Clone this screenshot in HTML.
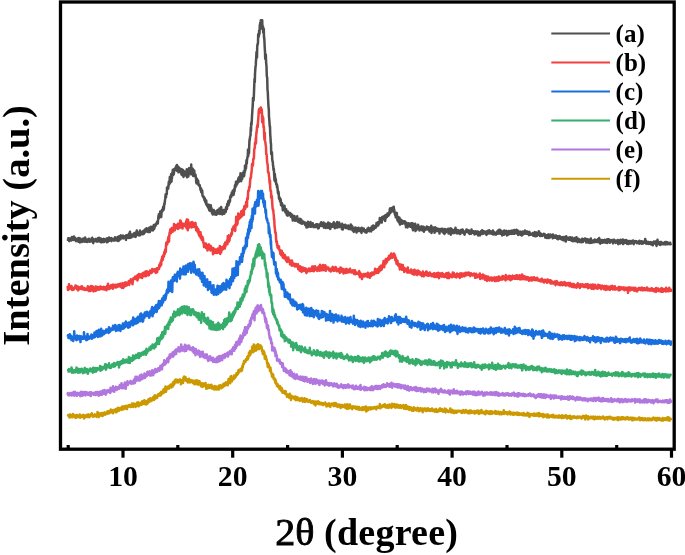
<!DOCTYPE html>
<html><head><meta charset="utf-8"><title>XRD</title>
<style>
html,body{margin:0;padding:0;background:#fff;}
svg{display:block}
text{font-family:"Liberation Serif",serif;font-weight:bold;fill:#000}
</style></head><body>
<svg width="685" height="555" viewBox="0 0 685 555">
<rect width="685" height="555" fill="#fff"/>
<g>
<polyline fill="none" stroke="#4f4f4f" stroke-width="2.5" stroke-linejoin="round" points="67.5,239.4 67.8,239.8 68.0,239.1 68.2,238.3 68.5,238.9 68.8,238.2 69.0,239.6 69.2,241.2 69.5,238.9 69.8,238.7 70.0,240.2 70.2,240.0 70.5,239.7 70.8,238.3 71.0,239.5 71.2,240.5 71.5,237.8 71.8,239.0 72.0,237.1 72.2,237.9 72.5,237.2 72.8,239.3 73.0,238.0 73.2,240.0 73.5,239.9 73.8,239.5 74.0,236.4 74.2,239.0 74.5,239.7 74.8,239.9 75.0,237.8 75.2,239.1 75.5,238.5 75.8,238.7 76.0,241.2 76.2,238.8 76.5,239.8 76.8,241.0 77.0,239.1 77.2,239.7 77.5,240.0 77.8,239.9 78.0,238.3 78.2,240.0 78.5,241.7 78.8,237.9 79.0,241.0 79.2,240.1 79.5,239.1 79.8,242.5 80.0,240.9 80.2,238.4 80.5,240.1 80.8,240.7 81.0,239.7 81.2,240.9 81.5,239.9 81.8,240.9 82.0,241.9 82.2,239.2 82.5,240.3 82.8,239.4 83.0,240.2 83.2,238.5 83.5,239.3 83.8,239.8 84.0,241.2 84.2,241.6 84.5,238.4 84.8,239.1 85.0,240.9 85.2,237.6 85.5,239.5 85.8,240.0 86.0,241.8 86.2,241.0 86.5,239.7 86.8,239.7 87.0,239.9 87.2,242.1 87.5,239.6 87.8,239.8 88.0,240.7 88.2,240.1 88.5,240.0 88.8,238.8 89.0,240.2 89.2,239.7 89.5,241.7 89.8,241.1 90.0,240.2 90.2,241.1 90.5,239.8 90.8,241.6 91.0,240.3 91.2,241.0 91.5,238.6 91.8,240.7 92.0,238.1 92.2,237.7 92.5,239.9 92.8,239.2 93.0,240.5 93.2,243.2 93.5,239.3 93.8,239.5 94.0,240.6 94.2,241.0 94.5,240.1 94.8,240.1 95.0,241.3 95.2,241.0 95.5,239.1 95.8,240.3 96.0,240.4 96.2,239.0 96.5,240.7 96.8,239.3 97.0,241.7 97.2,240.7 97.5,240.5 97.8,239.7 98.0,240.3 98.2,237.9 98.5,239.0 98.8,240.9 99.0,237.7 99.2,241.5 99.5,238.2 99.8,241.4 100.0,239.4 100.2,241.5 100.5,240.6 100.8,238.5 101.0,242.1 101.2,242.3 101.5,240.4 101.8,240.1 102.0,240.3 102.2,239.3 102.5,241.9 102.8,239.8 103.0,240.4 103.2,239.5 103.5,239.7 103.8,238.9 104.0,242.1 104.2,240.3 104.5,241.7 104.8,240.5 105.0,239.6 105.2,240.0 105.5,239.7 105.8,240.4 106.0,239.9 106.2,239.9 106.5,238.5 106.8,239.2 107.0,242.3 107.2,239.3 107.5,238.8 107.8,240.5 108.0,241.8 108.2,238.1 108.5,239.7 108.8,239.1 109.0,237.6 109.2,240.8 109.5,239.7 109.8,239.8 110.0,238.7 110.2,240.3 110.5,238.9 110.8,239.4 111.0,238.1 111.2,238.0 111.5,241.2 111.8,238.8 112.0,239.8 112.2,239.4 112.5,238.8 112.8,238.7 113.0,240.1 113.2,238.9 113.5,239.0 113.8,239.2 114.0,240.7 114.2,240.0 114.5,239.6 114.8,238.3 115.0,237.3 115.2,240.2 115.5,240.2 115.8,238.8 116.0,239.6 116.2,239.9 116.5,239.9 116.8,240.0 117.0,238.2 117.2,240.7 117.5,237.1 117.8,239.8 118.0,239.3 118.2,239.7 118.5,241.0 118.8,240.5 119.0,237.0 119.2,236.2 119.5,239.5 119.8,237.0 120.0,238.3 120.2,239.4 120.5,236.1 120.8,235.4 121.0,238.5 121.2,238.2 121.5,237.8 121.8,238.1 122.0,236.9 122.2,236.0 122.5,237.7 122.8,236.6 123.0,235.6 123.2,238.4 123.5,237.6 123.8,238.2 124.0,236.3 124.2,236.7 124.5,236.2 124.8,236.3 125.0,237.7 125.2,236.3 125.5,237.8 125.8,237.7 126.0,239.9 126.2,235.2 126.5,238.2 126.8,236.9 127.0,236.9 127.2,234.9 127.5,236.2 127.8,237.7 128.0,236.6 128.2,236.7 128.5,236.2 128.8,238.0 129.0,236.4 129.2,233.4 129.5,235.3 129.8,233.6 130.0,231.7 130.2,235.4 130.5,237.8 130.8,236.0 131.0,234.3 131.2,234.5 131.5,237.3 131.8,235.9 132.0,235.7 132.2,235.4 132.5,235.5 132.8,236.5 133.0,236.1 133.2,235.5 133.5,233.7 133.8,235.8 134.0,234.1 134.2,236.4 134.5,233.1 134.8,234.6 135.0,234.7 135.2,232.8 135.5,236.9 135.8,236.5 136.0,233.7 136.2,235.4 136.5,234.8 136.8,230.5 137.0,234.4 137.2,233.9 137.5,234.0 137.8,232.3 138.0,233.4 138.2,233.4 138.5,235.2 138.8,233.9 139.0,233.4 139.2,235.5 139.5,232.4 139.8,232.6 140.0,230.5 140.2,235.2 140.5,234.2 140.8,234.1 141.0,233.6 141.2,232.7 141.5,232.8 141.8,232.0 142.0,232.0 142.2,232.3 142.5,234.3 142.8,232.8 143.0,231.8 143.2,231.0 143.5,230.8 143.8,233.9 144.0,232.2 144.2,231.5 144.5,230.8 144.8,229.6 145.0,231.0 145.2,232.3 145.5,230.3 145.8,230.5 146.0,230.4 146.2,230.7 146.5,228.2 146.8,230.0 147.0,229.0 147.2,231.4 147.5,228.9 147.8,230.8 148.0,232.1 148.2,229.3 148.5,228.7 148.8,229.8 149.0,229.4 149.2,227.8 149.5,229.9 149.8,232.1 150.0,228.6 150.2,228.6 150.5,227.2 150.8,229.2 151.0,226.7 151.2,226.8 151.5,230.2 151.8,226.9 152.0,229.7 152.2,230.2 152.5,228.2 152.8,228.5 153.0,230.4 153.2,227.0 153.5,226.3 153.8,225.0 154.0,226.9 154.2,228.9 154.5,227.9 154.8,224.8 155.0,224.7 155.2,225.0 155.5,225.9 155.8,224.7 156.0,224.9 156.2,224.5 156.5,223.1 156.8,222.9 157.0,222.7 157.2,221.6 157.5,221.9 157.8,223.5 158.0,220.7 158.2,219.2 158.5,215.6 158.8,218.4 159.0,213.9 159.2,214.2 159.5,217.5 159.8,216.7 160.0,214.7 160.2,211.6 160.5,213.5 160.8,212.6 161.0,214.6 161.2,217.1 161.5,213.2 161.8,211.0 162.0,209.9 162.2,211.4 162.5,210.7 162.8,208.3 163.0,209.8 163.2,206.7 163.5,209.9 163.8,208.8 164.0,207.7 164.2,203.7 164.5,204.3 164.8,201.9 165.0,200.1 165.2,198.9 165.5,195.7 165.8,194.1 166.0,197.3 166.2,194.0 166.5,193.7 166.8,194.1 167.0,187.4 167.2,188.3 167.5,189.4 167.8,188.9 168.0,186.4 168.2,188.5 168.5,185.9 168.8,181.9 169.0,181.6 169.2,184.5 169.5,182.9 169.8,177.0 170.0,183.2 170.2,180.8 170.5,181.7 170.8,177.1 171.0,176.6 171.2,174.1 171.5,181.7 171.8,175.0 172.0,178.5 172.2,173.0 172.5,174.4 172.8,169.8 173.0,172.3 173.2,175.0 173.5,169.5 173.8,174.5 174.0,172.4 174.2,168.9 174.5,169.8 174.8,169.5 175.0,170.1 175.2,168.7 175.5,167.8 175.8,168.7 176.0,166.8 176.2,166.0 176.5,168.7 176.8,170.7 177.0,165.0 177.2,168.5 177.5,167.0 177.8,166.3 178.0,170.6 178.2,167.5 178.5,172.3 178.8,167.3 179.0,170.2 179.2,169.0 179.5,168.1 179.8,171.5 180.0,170.1 180.2,172.2 180.5,171.0 180.8,169.0 181.0,171.6 181.2,172.3 181.5,174.7 181.8,170.8 182.0,173.1 182.2,169.5 182.5,175.2 182.8,171.5 183.0,170.1 183.2,174.1 183.5,176.9 183.8,171.1 184.0,172.1 184.2,172.8 184.5,171.9 184.8,175.2 185.0,172.5 185.2,172.6 185.5,175.4 185.8,172.3 186.0,174.8 186.2,171.5 186.5,170.7 186.8,169.2 187.0,177.3 187.2,172.2 187.5,173.3 187.8,172.5 188.0,172.7 188.2,172.3 188.5,176.4 188.8,169.5 189.0,168.2 189.2,169.2 189.5,168.4 189.8,173.0 190.0,173.1 190.2,168.9 190.5,167.9 190.8,170.2 191.0,174.2 191.2,164.6 191.5,172.3 191.8,168.8 192.0,173.8 192.2,169.2 192.5,171.2 192.8,168.8 193.0,170.3 193.2,176.0 193.5,175.1 193.8,172.8 194.0,172.2 194.2,170.4 194.5,174.2 194.8,175.5 195.0,175.9 195.2,176.4 195.5,174.7 195.8,177.6 196.0,178.2 196.2,181.7 196.5,183.4 196.8,179.6 197.0,178.8 197.2,180.8 197.5,180.2 197.8,180.4 198.0,182.5 198.2,181.0 198.5,185.1 198.8,184.2 199.0,185.6 199.2,185.4 199.5,185.0 199.8,185.3 200.0,187.5 200.2,187.6 200.5,189.9 200.8,190.2 201.0,188.2 201.2,191.9 201.5,189.8 201.8,192.0 202.0,193.4 202.2,190.5 202.5,195.5 202.8,196.3 203.0,196.4 203.2,196.5 203.5,197.2 203.8,196.6 204.0,198.5 204.2,198.5 204.5,200.2 204.8,198.2 205.0,201.5 205.2,201.8 205.5,201.8 205.8,201.7 206.0,204.0 206.2,200.4 206.5,204.8 206.8,204.8 207.0,205.3 207.2,206.0 207.5,204.5 207.8,205.6 208.0,207.6 208.2,207.6 208.5,207.6 208.8,204.8 209.0,208.8 209.2,210.3 209.5,210.3 209.8,209.2 210.0,206.2 210.2,210.9 210.5,209.2 210.8,205.3 211.0,210.6 211.2,207.6 211.5,208.2 211.8,209.5 212.0,213.1 212.2,210.5 212.5,211.8 212.8,214.6 213.0,214.5 213.2,211.7 213.5,211.7 213.8,210.1 214.0,211.2 214.2,213.3 214.5,213.3 214.8,212.9 215.0,214.5 215.2,211.6 215.5,212.9 215.8,214.2 216.0,214.0 216.2,214.8 216.5,213.7 216.8,212.4 217.0,213.6 217.2,211.2 217.5,210.1 217.8,213.9 218.0,212.7 218.2,213.3 218.5,209.8 218.8,212.1 219.0,211.6 219.2,211.1 219.5,208.6 219.8,211.8 220.0,213.9 220.2,212.9 220.5,211.1 220.8,212.1 221.0,213.3 221.2,207.1 221.5,211.6 221.8,212.6 222.0,212.8 222.2,214.4 222.5,213.3 222.8,211.8 223.0,211.6 223.2,212.3 223.5,209.9 223.8,210.6 224.0,212.2 224.2,213.8 224.5,210.0 224.8,210.1 225.0,210.3 225.2,212.2 225.5,209.5 225.8,211.9 226.0,207.2 226.2,208.2 226.5,207.8 226.8,209.0 227.0,209.0 227.2,203.9 227.5,204.3 227.8,206.0 228.0,203.5 228.2,201.3 228.5,205.3 228.8,203.6 229.0,202.9 229.2,200.4 229.5,202.5 229.8,199.4 230.0,201.2 230.2,196.6 230.5,196.0 230.8,197.3 231.0,194.9 231.2,196.9 231.5,195.4 231.8,192.4 232.0,193.8 232.2,192.4 232.5,194.3 232.8,190.7 233.0,190.5 233.2,193.3 233.5,194.9 233.8,193.9 234.0,189.4 234.2,189.2 234.5,191.3 234.8,187.4 235.0,185.2 235.2,186.9 235.5,187.0 235.8,183.9 236.0,181.7 236.2,181.6 236.5,185.5 236.8,182.0 237.0,182.8 237.2,183.0 237.5,183.4 237.8,180.9 238.0,182.2 238.2,178.7 238.5,179.4 238.8,177.5 239.0,181.7 239.2,178.7 239.5,176.8 239.8,177.2 240.0,177.0 240.2,178.6 240.5,173.2 240.8,174.1 241.0,175.2 241.2,181.2 241.5,177.5 241.8,174.8 242.0,176.4 242.2,179.0 242.5,173.7 242.8,173.1 243.0,176.2 243.2,174.3 243.5,174.3 243.8,171.3 244.0,176.3 244.2,175.4 244.5,172.4 244.8,172.1 245.0,165.4 245.2,170.8 245.5,168.1 245.8,168.6 246.0,168.1 246.2,164.6 246.5,160.2 246.8,163.6 247.0,159.6 247.2,159.1 247.5,156.9 247.8,155.9 248.0,149.5 248.2,156.3 248.5,152.3 248.8,152.7 249.0,153.1 249.2,146.4 249.5,139.8 249.8,140.0 250.0,136.9 250.2,136.4 250.5,135.4 250.8,127.4 251.0,130.9 251.2,123.1 251.5,124.8 251.8,120.3 252.0,116.2 252.2,113.3 252.5,108.5 252.8,104.7 253.0,97.9 253.2,98.9 253.5,100.7 253.8,97.5 254.0,92.0 254.2,86.7 254.5,79.0 254.8,82.1 255.0,74.1 255.2,70.7 255.5,66.8 255.8,64.9 256.0,60.2 256.2,58.3 256.5,52.1 256.8,51.6 257.0,57.6 257.2,47.2 257.5,44.2 257.8,44.4 258.0,42.7 258.2,34.2 258.5,35.1 258.8,36.8 259.0,32.7 259.2,30.4 259.5,33.9 259.8,24.9 260.0,26.2 260.2,22.9 260.5,28.8 260.8,20.2 261.0,20.2 261.2,20.2 261.5,24.6 261.8,25.0 262.0,28.6 262.2,20.2 262.5,28.5 262.8,26.2 263.0,26.3 263.2,32.4 263.5,29.9 263.8,28.8 264.0,37.7 264.2,37.0 264.5,42.8 264.8,49.0 265.0,51.6 265.2,58.6 265.5,55.6 265.8,54.4 266.0,60.2 266.2,63.3 266.5,66.4 266.8,76.0 267.0,77.1 267.2,77.6 267.5,90.1 267.8,91.9 268.0,97.5 268.2,101.0 268.5,106.8 268.8,109.3 269.0,116.8 269.2,118.7 269.5,122.8 269.8,127.0 270.0,126.2 270.2,133.8 270.5,138.0 270.8,143.5 271.0,143.5 271.2,154.0 271.5,152.8 271.8,152.1 272.0,153.3 272.2,158.8 272.5,161.3 272.8,161.8 273.0,165.5 273.2,165.5 273.5,169.9 273.8,168.6 274.0,171.7 274.2,175.4 274.5,180.3 274.8,173.9 275.0,176.5 275.2,177.1 275.5,182.0 275.8,179.3 276.0,182.0 276.2,184.3 276.5,183.7 276.8,185.1 277.0,187.3 277.2,185.3 277.5,187.8 277.8,191.1 278.0,193.3 278.2,193.7 278.5,191.7 278.8,195.2 279.0,198.5 279.2,198.9 279.5,198.5 279.8,197.7 280.0,201.2 280.2,199.5 280.5,199.1 280.8,200.3 281.0,205.0 281.2,203.3 281.5,205.6 281.8,203.1 282.0,206.2 282.2,203.9 282.5,205.2 282.8,210.3 283.0,207.7 283.2,205.9 283.5,207.1 283.8,208.2 284.0,210.2 284.2,207.6 284.5,205.8 284.8,208.7 285.0,209.6 285.2,210.1 285.5,212.5 285.8,211.1 286.0,212.2 286.2,209.3 286.5,212.9 286.8,215.2 287.0,213.3 287.2,212.7 287.5,212.8 287.8,215.7 288.0,211.4 288.2,213.0 288.5,214.2 288.8,214.9 289.0,213.2 289.2,214.7 289.5,213.9 289.8,214.8 290.0,214.6 290.2,213.1 290.5,215.2 290.8,216.8 291.0,214.0 291.2,215.4 291.5,217.1 291.8,214.5 292.0,216.7 292.2,214.8 292.5,218.6 292.8,220.6 293.0,220.3 293.2,216.9 293.5,218.6 293.8,217.8 294.0,217.9 294.2,220.4 294.5,216.0 294.8,219.9 295.0,218.3 295.2,220.7 295.5,219.0 295.8,217.7 296.0,219.4 296.2,220.2 296.5,219.3 296.8,220.1 297.0,218.7 297.2,216.3 297.5,221.2 297.8,221.0 298.0,220.3 298.2,220.3 298.5,221.9 298.8,219.7 299.0,219.4 299.2,220.4 299.5,222.6 299.8,218.7 300.0,222.8 300.2,220.1 300.5,219.5 300.8,223.3 301.0,221.3 301.2,219.6 301.5,221.2 301.8,223.3 302.0,223.8 302.2,221.4 302.5,222.8 302.8,223.4 303.0,221.5 303.2,223.1 303.5,222.7 303.8,222.0 304.0,222.2 304.2,223.2 304.5,223.2 304.8,222.5 305.0,222.8 305.2,225.2 305.5,224.0 305.8,225.1 306.0,225.7 306.2,224.9 306.5,227.5 306.8,223.0 307.0,225.5 307.2,223.9 307.5,227.2 307.8,227.1 308.0,221.8 308.2,223.3 308.5,225.8 308.8,226.1 309.0,226.1 309.2,224.9 309.5,225.8 309.8,226.1 310.0,225.1 310.2,226.8 310.5,222.0 310.8,226.3 311.0,223.9 311.2,226.8 311.5,225.1 311.8,224.2 312.0,226.0 312.2,224.2 312.5,224.2 312.8,223.2 313.0,225.5 313.2,226.2 313.5,227.0 313.8,225.3 314.0,227.0 314.2,225.5 314.5,225.4 314.8,226.3 315.0,227.0 315.2,225.0 315.5,225.1 315.8,225.3 316.0,225.6 316.2,224.2 316.5,227.0 316.8,224.9 317.0,226.2 317.2,224.3 317.5,226.0 317.8,226.1 318.0,224.9 318.2,228.4 318.5,226.0 318.8,228.1 319.0,226.9 319.2,224.5 319.5,224.9 319.8,226.1 320.0,225.6 320.2,225.6 320.5,225.1 320.8,222.9 321.0,225.2 321.2,222.3 321.5,226.0 321.8,224.4 322.0,224.5 322.2,225.2 322.5,225.9 322.8,223.4 323.0,223.0 323.2,224.0 323.5,222.5 323.8,224.1 324.0,227.8 324.2,224.0 324.5,226.4 324.8,223.5 325.0,225.9 325.2,225.0 325.5,225.4 325.8,226.3 326.0,228.0 326.2,225.8 326.5,225.7 326.8,224.1 327.0,226.3 327.2,225.1 327.5,226.7 327.8,225.4 328.0,228.0 328.2,222.6 328.5,225.1 328.8,226.8 329.0,225.0 329.2,224.4 329.5,225.1 329.8,223.5 330.0,225.7 330.2,229.0 330.5,227.2 330.8,223.9 331.0,224.2 331.2,224.9 331.5,227.0 331.8,224.3 332.0,224.5 332.2,226.8 332.5,226.8 332.8,225.0 333.0,223.9 333.2,223.3 333.5,224.5 333.8,222.3 334.0,226.6 334.2,224.6 334.5,226.2 334.8,228.2 335.0,227.2 335.2,223.8 335.5,226.8 335.8,227.2 336.0,224.4 336.2,224.1 336.5,225.3 336.8,223.2 337.0,227.6 337.2,222.0 337.5,223.9 337.8,225.1 338.0,225.2 338.2,225.8 338.5,225.9 338.8,225.2 339.0,227.2 339.2,222.5 339.5,225.6 339.8,224.6 340.0,225.8 340.2,226.0 340.5,224.4 340.8,224.8 341.0,226.9 341.2,226.3 341.5,224.8 341.8,228.8 342.0,229.2 342.2,223.8 342.5,226.4 342.8,229.6 343.0,227.2 343.2,226.4 343.5,225.9 343.8,225.4 344.0,225.9 344.2,225.5 344.5,227.4 344.8,225.8 345.0,225.8 345.2,224.8 345.5,226.5 345.8,225.3 346.0,226.4 346.2,228.2 346.5,227.3 346.8,227.5 347.0,227.4 347.2,227.0 347.5,226.8 347.8,226.6 348.0,228.2 348.2,225.6 348.5,229.1 348.8,227.3 349.0,226.2 349.2,226.7 349.5,226.4 349.8,227.7 350.0,226.5 350.2,229.2 350.5,226.5 350.8,224.5 351.0,226.7 351.2,225.0 351.5,227.8 351.8,229.4 352.0,228.9 352.2,226.2 352.5,227.0 352.8,230.7 353.0,228.7 353.2,228.3 353.5,229.9 353.8,231.9 354.0,230.4 354.2,228.8 354.5,229.2 354.8,229.6 355.0,228.0 355.2,227.5 355.5,229.1 355.8,227.8 356.0,229.1 356.2,229.4 356.5,232.6 356.8,228.3 357.0,229.4 357.2,229.4 357.5,230.3 357.8,231.2 358.0,229.2 358.2,228.8 358.5,227.7 358.8,228.8 359.0,230.8 359.2,230.2 359.5,228.9 359.8,229.8 360.0,230.4 360.2,231.1 360.5,229.7 360.8,230.2 361.0,228.2 361.2,229.1 361.5,232.9 361.8,227.8 362.0,230.3 362.2,231.1 362.5,230.4 362.8,229.8 363.0,230.8 363.2,230.9 363.5,230.9 363.8,228.5 364.0,230.8 364.2,229.9 364.5,230.3 364.8,231.3 365.0,231.8 365.2,232.2 365.5,230.3 365.8,232.1 366.0,232.4 366.2,232.3 366.5,232.6 366.8,230.5 367.0,230.4 367.2,231.7 367.5,228.6 367.8,230.7 368.0,229.6 368.2,229.7 368.5,227.8 368.8,228.9 369.0,230.0 369.2,231.1 369.5,231.2 369.8,229.6 370.0,229.4 370.2,228.4 370.5,229.9 370.8,228.9 371.0,229.9 371.2,231.4 371.5,228.8 371.8,226.6 372.0,227.3 372.2,226.4 372.5,226.5 372.8,229.8 373.0,228.2 373.2,225.6 373.5,228.4 373.8,229.1 374.0,226.7 374.2,226.0 374.5,226.3 374.8,227.0 375.0,227.3 375.2,227.9 375.5,227.7 375.8,227.5 376.0,227.5 376.2,226.3 376.5,222.9 376.8,224.7 377.0,225.0 377.2,223.8 377.5,225.4 377.8,223.3 378.0,222.2 378.2,225.4 378.5,224.0 378.8,223.1 379.0,223.8 379.2,223.8 379.5,222.4 379.8,218.0 380.0,220.4 380.2,220.4 380.5,219.4 380.8,220.9 381.0,222.1 381.2,219.3 381.5,218.1 381.8,222.6 382.0,218.6 382.2,217.1 382.5,219.1 382.8,219.2 383.0,217.2 383.2,219.3 383.5,217.1 383.8,216.3 384.0,217.7 384.2,218.5 384.5,216.1 384.8,217.4 385.0,216.5 385.2,220.9 385.5,215.1 385.8,218.2 386.0,215.8 386.2,215.4 386.5,216.6 386.8,216.6 387.0,217.0 387.2,215.3 387.5,213.5 387.8,213.4 388.0,214.8 388.2,214.6 388.5,215.6 388.8,213.7 389.0,214.4 389.2,214.7 389.5,212.1 389.8,209.0 390.0,209.1 390.2,208.2 390.5,212.8 390.8,208.4 391.0,211.4 391.2,210.0 391.5,211.6 391.8,210.2 392.0,208.1 392.2,207.8 392.5,208.2 392.8,208.3 393.0,207.3 393.2,208.4 393.5,211.6 393.8,206.7 394.0,210.7 394.2,209.5 394.5,212.1 394.8,214.0 395.0,213.4 395.2,215.5 395.5,212.4 395.8,217.3 396.0,215.1 396.2,217.4 396.5,217.1 396.8,213.1 397.0,216.3 397.2,218.1 397.5,220.5 397.8,218.9 398.0,219.1 398.2,216.9 398.5,221.4 398.8,222.3 399.0,219.8 399.2,219.7 399.5,217.8 399.8,221.8 400.0,224.7 400.2,222.0 400.5,223.0 400.8,222.1 401.0,220.1 401.2,223.7 401.5,220.1 401.8,221.8 402.0,222.7 402.2,223.7 402.5,223.2 402.8,223.4 403.0,221.8 403.2,221.2 403.5,223.3 403.8,222.4 404.0,221.6 404.2,221.8 404.5,223.1 404.8,221.2 405.0,222.1 405.2,221.8 405.5,224.5 405.8,224.9 406.0,227.3 406.2,222.4 406.5,223.6 406.8,226.0 407.0,224.5 407.2,224.4 407.5,227.4 407.8,224.6 408.0,223.5 408.2,223.4 408.5,225.8 408.8,225.8 409.0,223.5 409.2,224.2 409.5,226.4 409.8,226.5 410.0,224.9 410.2,226.7 410.5,226.7 410.8,223.5 411.0,225.6 411.2,226.7 411.5,225.4 411.8,223.3 412.0,226.0 412.2,227.5 412.5,228.7 412.8,223.5 413.0,230.2 413.2,225.1 413.5,228.1 413.8,228.5 414.0,228.2 414.2,227.1 414.5,225.4 414.8,227.9 415.0,226.1 415.2,223.7 415.5,231.1 415.8,228.2 416.0,229.8 416.2,226.1 416.5,229.4 416.8,229.6 417.0,229.6 417.2,227.5 417.5,225.9 417.8,227.4 418.0,224.7 418.2,225.4 418.5,227.9 418.8,226.5 419.0,227.6 419.2,227.7 419.5,230.6 419.8,229.7 420.0,227.9 420.2,229.7 420.5,227.0 420.8,227.6 421.0,229.4 421.2,226.5 421.5,227.8 421.8,226.5 422.0,228.4 422.2,230.5 422.5,227.3 422.8,228.7 423.0,227.2 423.2,226.9 423.5,226.8 423.8,230.5 424.0,231.7 424.2,229.2 424.5,227.6 424.8,229.6 425.0,228.2 425.2,229.8 425.5,229.1 425.8,229.1 426.0,229.6 426.2,228.0 426.5,228.3 426.8,226.6 427.0,228.3 427.2,227.0 427.5,228.8 427.8,227.7 428.0,229.2 428.2,229.7 428.5,227.2 428.8,228.0 429.0,227.9 429.2,230.2 429.5,231.5 429.8,230.3 430.0,228.8 430.2,231.2 430.5,227.3 430.8,231.3 431.0,228.5 431.2,225.7 431.5,232.9 431.8,231.5 432.0,228.1 432.2,229.7 432.5,229.2 432.8,229.6 433.0,227.6 433.2,228.6 433.5,230.2 433.8,229.9 434.0,231.2 434.2,229.7 434.5,232.8 434.8,228.7 435.0,230.1 435.2,227.2 435.5,228.1 435.8,231.5 436.0,228.5 436.2,230.5 436.5,229.8 436.8,228.5 437.0,229.4 437.2,229.2 437.5,229.3 437.8,230.9 438.0,230.8 438.2,229.2 438.5,228.8 438.8,230.4 439.0,229.9 439.2,231.4 439.5,233.6 439.8,231.2 440.0,230.1 440.2,229.9 440.5,229.0 440.8,229.0 441.0,228.9 441.2,229.7 441.5,229.7 441.8,231.2 442.0,229.7 442.2,230.0 442.5,228.7 442.8,232.5 443.0,231.0 443.2,232.7 443.5,231.4 443.8,232.3 444.0,230.1 444.2,231.4 444.5,234.0 444.8,228.9 445.0,232.0 445.2,232.7 445.5,231.1 445.8,231.5 446.0,232.2 446.2,229.7 446.5,231.1 446.8,229.4 447.0,229.7 447.2,229.8 447.5,230.5 447.8,230.9 448.0,231.3 448.2,228.8 448.5,233.4 448.8,232.3 449.0,231.7 449.2,230.3 449.5,230.7 449.8,231.5 450.0,231.4 450.2,228.6 450.5,231.9 450.8,234.8 451.0,228.4 451.2,232.2 451.5,231.4 451.8,230.8 452.0,232.8 452.2,229.4 452.5,231.2 452.8,233.0 453.0,230.8 453.2,230.5 453.5,231.2 453.8,230.5 454.0,233.2 454.2,229.9 454.5,232.3 454.8,229.5 455.0,232.1 455.2,231.1 455.5,227.8 455.8,231.2 456.0,229.8 456.2,230.7 456.5,233.3 456.8,229.8 457.0,229.9 457.2,233.2 457.5,231.5 457.8,233.4 458.0,231.8 458.2,230.2 458.5,231.3 458.8,233.1 459.0,232.7 459.2,231.5 459.5,231.6 459.8,231.4 460.0,230.8 460.2,234.1 460.5,231.6 460.8,230.1 461.0,231.0 461.2,232.6 461.5,232.5 461.8,231.5 462.0,230.8 462.2,231.7 462.5,229.5 462.8,230.0 463.0,232.8 463.2,231.1 463.5,232.3 463.8,233.4 464.0,232.7 464.2,231.9 464.5,234.7 464.8,232.8 465.0,231.4 465.2,232.9 465.5,232.5 465.8,230.8 466.0,232.1 466.2,231.8 466.5,229.4 466.8,231.8 467.0,231.7 467.2,231.5 467.5,229.9 467.8,231.6 468.0,232.1 468.2,232.3 468.5,230.7 468.8,233.0 469.0,230.6 469.2,231.9 469.5,233.9 469.8,231.3 470.0,231.6 470.2,233.7 470.5,231.8 470.8,231.9 471.0,232.6 471.2,233.7 471.5,229.5 471.8,231.3 472.0,231.1 472.2,231.0 472.5,231.3 472.8,231.3 473.0,232.8 473.2,231.3 473.5,232.6 473.8,233.0 474.0,231.5 474.2,232.7 474.5,234.6 474.8,232.9 475.0,231.7 475.2,232.5 475.5,231.4 475.8,232.9 476.0,233.7 476.2,231.6 476.5,232.4 476.8,234.1 477.0,232.0 477.2,232.9 477.5,231.4 477.8,231.6 478.0,232.0 478.2,235.4 478.5,232.2 478.8,232.1 479.0,232.0 479.2,232.5 479.5,233.6 479.8,233.0 480.0,235.4 480.2,233.1 480.5,234.6 480.8,233.2 481.0,233.6 481.2,231.0 481.5,232.7 481.8,232.8 482.0,232.6 482.2,230.2 482.5,234.0 482.8,232.4 483.0,232.3 483.2,232.6 483.5,232.6 483.8,233.4 484.0,231.3 484.2,231.8 484.5,233.3 484.8,233.1 485.0,232.5 485.2,232.2 485.5,231.9 485.8,232.9 486.0,234.4 486.2,231.6 486.5,234.9 486.8,234.0 487.0,232.4 487.2,234.0 487.5,231.2 487.8,230.8 488.0,231.4 488.2,232.5 488.5,232.6 488.8,232.4 489.0,233.1 489.2,230.3 489.5,233.6 489.8,231.2 490.0,232.2 490.2,232.5 490.5,231.6 490.8,231.3 491.0,231.7 491.2,233.0 491.5,233.7 491.8,233.7 492.0,231.8 492.2,232.0 492.5,231.8 492.8,233.5 493.0,230.4 493.2,234.5 493.5,232.4 493.8,232.0 494.0,233.4 494.2,234.2 494.5,233.4 494.8,234.2 495.0,233.1 495.2,234.4 495.5,234.5 495.8,232.8 496.0,234.7 496.2,233.1 496.5,233.0 496.8,231.7 497.0,232.5 497.2,233.8 497.5,231.2 497.8,233.7 498.0,233.3 498.2,233.2 498.5,230.1 498.8,232.7 499.0,233.6 499.2,231.8 499.5,232.9 499.8,229.8 500.0,233.6 500.2,231.9 500.5,233.8 500.8,230.5 501.0,233.6 501.2,232.4 501.5,233.7 501.8,231.6 502.0,231.9 502.2,235.5 502.5,231.6 502.8,231.8 503.0,232.3 503.2,231.4 503.5,234.1 503.8,234.8 504.0,231.8 504.2,230.5 504.5,234.1 504.8,234.0 505.0,233.6 505.2,234.0 505.5,231.5 505.8,232.4 506.0,230.9 506.2,230.8 506.5,233.8 506.8,231.7 507.0,235.4 507.2,232.6 507.5,231.7 507.8,233.5 508.0,234.8 508.2,233.1 508.5,231.0 508.8,233.0 509.0,234.2 509.2,231.9 509.5,231.5 509.8,233.8 510.0,232.7 510.2,231.1 510.5,232.0 510.8,231.6 511.0,232.9 511.2,232.6 511.5,233.9 511.8,233.4 512.0,230.6 512.2,233.0 512.5,233.6 512.8,233.1 513.0,233.8 513.2,231.8 513.5,231.3 513.8,233.7 514.0,231.2 514.2,229.9 514.5,233.8 514.8,231.6 515.0,232.2 515.2,230.8 515.5,230.9 515.8,231.1 516.0,232.1 516.2,233.0 516.5,229.7 516.8,233.5 517.0,231.1 517.2,231.3 517.5,233.5 517.8,232.5 518.0,230.7 518.2,234.9 518.5,231.6 518.8,233.0 519.0,232.9 519.2,234.4 519.5,232.1 519.8,233.9 520.0,231.8 520.2,234.1 520.5,231.8 520.8,232.3 521.0,235.1 521.2,233.2 521.5,232.9 521.8,235.6 522.0,233.2 522.2,231.8 522.5,233.7 522.8,231.4 523.0,234.2 523.2,234.4 523.5,232.2 523.8,232.1 524.0,233.1 524.2,232.9 524.5,231.7 524.8,233.7 525.0,230.5 525.2,232.5 525.5,232.5 525.8,232.7 526.0,233.4 526.2,231.5 526.5,233.8 526.8,232.9 527.0,232.3 527.2,231.4 527.5,231.7 527.8,233.6 528.0,232.0 528.2,233.3 528.5,234.5 528.8,234.5 529.0,235.1 529.2,232.9 529.5,231.9 529.8,234.5 530.0,233.7 530.2,234.7 530.5,233.4 530.8,234.8 531.0,234.4 531.2,234.3 531.5,234.0 531.8,233.9 532.0,233.7 532.2,233.7 532.5,234.7 532.8,232.9 533.0,235.6 533.2,233.4 533.5,234.8 533.8,233.5 534.0,233.3 534.2,236.1 534.5,233.3 534.8,232.1 535.0,232.8 535.2,233.3 535.5,236.3 535.8,234.0 536.0,234.9 536.2,232.6 536.5,234.2 536.8,234.6 537.0,236.0 537.2,233.0 537.5,234.6 537.8,234.3 538.0,232.7 538.2,233.9 538.5,233.7 538.8,231.2 539.0,234.8 539.2,234.7 539.5,233.6 539.8,232.6 540.0,236.0 540.2,234.5 540.5,235.5 540.8,236.0 541.0,233.7 541.2,235.3 541.5,234.1 541.8,234.4 542.0,234.4 542.2,234.5 542.5,235.9 542.8,234.8 543.0,234.5 543.2,234.4 543.5,235.2 543.8,233.7 544.0,234.2 544.2,234.8 544.5,234.3 544.8,234.8 545.0,234.3 545.2,237.4 545.5,236.7 545.8,235.7 546.0,235.2 546.2,237.9 546.5,235.7 546.8,235.3 547.0,235.8 547.2,235.8 547.5,237.2 547.8,235.5 548.0,238.1 548.2,234.6 548.5,236.5 548.8,234.6 549.0,237.9 549.2,235.5 549.5,235.9 549.8,237.1 550.0,237.5 550.2,234.8 550.5,235.7 550.8,234.6 551.0,236.4 551.2,236.2 551.5,235.9 551.8,235.6 552.0,236.0 552.2,235.6 552.5,237.2 552.8,238.3 553.0,234.4 553.2,236.6 553.5,236.3 553.8,237.4 554.0,235.7 554.2,236.7 554.5,235.7 554.8,237.8 555.0,237.1 555.2,236.9 555.5,237.5 555.8,236.9 556.0,235.4 556.2,237.9 556.5,237.6 556.8,237.2 557.0,238.5 557.2,238.8 557.5,236.2 557.8,236.6 558.0,239.3 558.2,239.2 558.5,236.8 558.8,236.3 559.0,237.0 559.2,237.2 559.5,236.0 559.8,237.9 560.0,236.4 560.2,236.5 560.5,239.0 560.8,237.2 561.0,237.9 561.2,238.7 561.5,239.0 561.8,237.7 562.0,238.2 562.2,237.2 562.5,240.1 562.8,238.9 563.0,237.0 563.2,238.3 563.5,239.1 563.8,238.9 564.0,240.4 564.2,239.9 564.5,237.8 564.8,238.4 565.0,237.1 565.2,238.8 565.5,238.7 565.8,241.6 566.0,238.7 566.2,236.3 566.5,237.9 566.8,238.8 567.0,237.4 567.2,237.8 567.5,238.4 567.8,239.2 568.0,238.7 568.2,237.9 568.5,239.8 568.8,238.4 569.0,238.4 569.2,237.5 569.5,238.2 569.8,239.8 570.0,237.3 570.2,239.0 570.5,239.9 570.8,238.8 571.0,239.5 571.2,238.0 571.5,240.7 571.8,240.5 572.0,239.6 572.2,237.4 572.5,238.2 572.8,240.5 573.0,241.3 573.2,239.8 573.5,240.8 573.8,238.8 574.0,239.3 574.2,239.6 574.5,240.0 574.8,237.9 575.0,240.7 575.2,241.1 575.5,238.4 575.8,238.2 576.0,240.1 576.2,239.1 576.5,237.2 576.8,240.7 577.0,240.0 577.2,239.3 577.5,242.2 577.8,240.1 578.0,239.1 578.2,240.1 578.5,238.8 578.8,239.2 579.0,240.4 579.2,239.4 579.5,239.6 579.8,241.9 580.0,241.0 580.2,241.0 580.5,240.7 580.8,240.7 581.0,241.7 581.2,240.2 581.5,242.2 581.8,239.2 582.0,240.0 582.2,238.8 582.5,239.9 582.8,240.9 583.0,241.9 583.2,239.6 583.5,240.4 583.8,240.0 584.0,239.6 584.2,239.1 584.5,240.5 584.8,238.6 585.0,240.6 585.2,240.5 585.5,239.8 585.8,239.4 586.0,239.0 586.2,242.5 586.5,239.1 586.8,242.2 587.0,241.2 587.2,240.2 587.5,239.3 587.8,241.7 588.0,242.4 588.2,239.6 588.5,240.3 588.8,241.8 589.0,241.0 589.2,242.8 589.5,240.1 589.8,241.3 590.0,239.4 590.2,242.9 590.5,239.9 590.8,238.4 591.0,240.6 591.2,240.6 591.5,242.8 591.8,240.4 592.0,240.8 592.2,241.4 592.5,242.5 592.8,240.7 593.0,241.9 593.2,241.4 593.5,240.5 593.8,240.9 594.0,240.9 594.2,239.9 594.5,242.2 594.8,239.4 595.0,242.1 595.2,241.9 595.5,240.8 595.8,240.1 596.0,240.7 596.2,241.4 596.5,241.7 596.8,241.3 597.0,242.0 597.2,240.4 597.5,241.2 597.8,239.3 598.0,241.8 598.2,241.2 598.5,240.6 598.8,242.2 599.0,241.8 599.2,238.1 599.5,241.1 599.8,239.5 600.0,242.2 600.2,243.7 600.5,240.5 600.8,241.2 601.0,240.8 601.2,241.5 601.5,241.8 601.8,242.5 602.0,240.1 602.2,242.8 602.5,240.2 602.8,241.4 603.0,242.4 603.2,241.9 603.5,240.2 603.8,240.4 604.0,240.7 604.2,241.1 604.5,242.4 604.8,239.8 605.0,241.7 605.2,241.8 605.5,241.8 605.8,241.7 606.0,242.8 606.2,241.7 606.5,242.1 606.8,241.8 607.0,243.1 607.2,239.3 607.5,242.6 607.8,241.0 608.0,241.0 608.2,240.3 608.5,239.3 608.8,240.9 609.0,240.6 609.2,241.8 609.5,239.8 609.8,242.8 610.0,241.6 610.2,241.1 610.5,240.6 610.8,240.5 611.0,240.2 611.2,240.8 611.5,241.4 611.8,241.2 612.0,239.9 612.2,241.1 612.5,240.5 612.8,241.6 613.0,243.4 613.2,242.1 613.5,241.1 613.8,239.8 614.0,240.0 614.2,239.7 614.5,242.2 614.8,240.7 615.0,241.5 615.2,240.8 615.5,241.6 615.8,242.9 616.0,240.8 616.2,241.2 616.5,240.7 616.8,242.4 617.0,240.5 617.2,240.4 617.5,240.1 617.8,240.1 618.0,242.1 618.2,244.2 618.5,240.6 618.8,242.6 619.0,241.9 619.2,240.5 619.5,241.3 619.8,241.4 620.0,240.9 620.2,243.6 620.5,239.7 620.8,242.0 621.0,242.0 621.2,241.1 621.5,241.8 621.8,242.6 622.0,241.9 622.2,242.1 622.5,242.4 622.8,239.6 623.0,243.3 623.2,244.1 623.5,242.8 623.8,242.8 624.0,240.3 624.2,241.7 624.5,241.0 624.8,241.2 625.0,242.8 625.2,241.0 625.5,241.7 625.8,239.9 626.0,241.7 626.2,241.9 626.5,241.1 626.8,241.1 627.0,243.8 627.2,240.7 627.5,240.8 627.8,241.1 628.0,243.1 628.2,244.1 628.5,242.3 628.8,241.2 629.0,241.5 629.2,243.1 629.5,241.0 629.8,243.5 630.0,243.4 630.2,242.1 630.5,242.7 630.8,242.8 631.0,243.6 631.2,241.0 631.5,243.3 631.8,241.7 632.0,241.3 632.2,242.2 632.5,241.9 632.8,241.1 633.0,240.5 633.2,241.2 633.5,243.6 633.8,244.1 634.0,242.8 634.2,243.4 634.5,241.6 634.8,242.1 635.0,242.5 635.2,241.1 635.5,241.2 635.8,242.3 636.0,241.9 636.2,241.2 636.5,242.6 636.8,242.0 637.0,243.3 637.2,242.3 637.5,242.0 637.8,242.4 638.0,242.1 638.2,241.6 638.5,241.9 638.8,243.1 639.0,243.0 639.2,243.7 639.5,240.7 639.8,242.0 640.0,242.0 640.2,242.6 640.5,242.0 640.8,241.9 641.0,243.2 641.2,242.6 641.5,241.3 641.8,243.8 642.0,243.5 642.2,241.9 642.5,243.3 642.8,241.8 643.0,243.6 643.2,242.3 643.5,241.7 643.8,242.2 644.0,241.8 644.2,242.8 644.5,242.8 644.8,242.6 645.0,242.0 645.2,238.9 645.5,242.7 645.8,240.7 646.0,242.9 646.2,243.8 646.5,242.9 646.8,242.3 647.0,242.5 647.2,242.6 647.5,242.2 647.8,242.1 648.0,241.8 648.2,243.9 648.5,242.7 648.8,243.7 649.0,242.5 649.2,242.8 649.5,242.6 649.8,243.3 650.0,243.6 650.2,243.1 650.5,242.2 650.8,242.1 651.0,244.5 651.2,242.6 651.5,242.6 651.8,244.3 652.0,244.0 652.2,243.4 652.5,242.5 652.8,245.3 653.0,243.3 653.2,243.5 653.5,242.8 653.8,241.6 654.0,241.7 654.2,243.4 654.5,243.4 654.8,242.8 655.0,241.9 655.2,241.6 655.5,242.7 655.8,241.6 656.0,244.0 656.2,244.2 656.5,245.9 656.8,244.0 657.0,242.5 657.2,242.3 657.5,239.7 657.8,242.6 658.0,243.0 658.2,244.1 658.5,243.8 658.8,243.8 659.0,243.4 659.2,243.9 659.5,244.6 659.8,242.2 660.0,242.8 660.2,241.9 660.5,244.9 660.8,244.6 661.0,244.0 661.2,242.1 661.5,243.5 661.8,243.1 662.0,243.4 662.2,243.2 662.5,243.9 662.8,243.0 663.0,244.2 663.2,243.6 663.5,243.1 663.8,243.3 664.0,243.0 664.2,244.2 664.5,243.2 664.8,243.7 665.0,243.1 665.2,242.0 665.5,244.4 665.8,242.5 666.0,244.2 666.2,243.9 666.5,241.9 666.8,242.6 667.0,243.1 667.2,242.8 667.5,242.4 667.8,244.3 668.0,243.4 668.2,244.0 668.5,243.2 668.8,243.9 669.0,242.9 669.2,243.6 669.5,244.2 669.8,243.7 670.0,243.3 670.2,242.7 670.5,243.9 670.8,244.1 671.0,243.5"/>
<polyline fill="none" stroke="#f14040" stroke-width="2.5" stroke-linejoin="round" points="67.5,286.1 67.8,287.7 68.0,290.1 68.2,286.8 68.5,287.6 68.8,287.7 69.0,284.2 69.2,287.4 69.5,286.5 69.8,289.0 70.0,287.1 70.2,286.5 70.5,287.2 70.8,287.7 71.0,286.8 71.2,287.5 71.5,286.0 71.8,287.3 72.0,288.6 72.2,290.0 72.5,288.5 72.8,288.1 73.0,289.2 73.2,289.0 73.5,289.8 73.8,289.1 74.0,287.7 74.2,288.2 74.5,288.1 74.8,288.3 75.0,288.2 75.2,287.1 75.5,285.5 75.8,287.3 76.0,285.7 76.2,288.2 76.5,288.1 76.8,286.2 77.0,289.0 77.2,289.2 77.5,288.3 77.8,290.2 78.0,290.4 78.2,286.8 78.5,289.5 78.8,288.8 79.0,288.8 79.2,289.4 79.5,287.5 79.8,287.7 80.0,287.4 80.2,287.5 80.5,288.3 80.8,286.7 81.0,287.2 81.2,289.1 81.5,288.4 81.8,288.9 82.0,286.3 82.2,287.6 82.5,287.8 82.8,288.5 83.0,287.8 83.2,289.6 83.5,288.5 83.8,288.6 84.0,288.6 84.2,289.4 84.5,288.0 84.8,289.9 85.0,289.1 85.2,288.8 85.5,288.7 85.8,289.2 86.0,289.8 86.2,289.7 86.5,289.1 86.8,289.7 87.0,288.8 87.2,290.1 87.5,288.6 87.8,286.2 88.0,290.2 88.2,288.8 88.5,287.3 88.8,288.4 89.0,287.6 89.2,291.1 89.5,289.3 89.8,286.9 90.0,289.3 90.2,288.2 90.5,290.9 90.8,287.5 91.0,286.1 91.2,288.8 91.5,288.3 91.8,288.2 92.0,286.2 92.2,289.2 92.5,290.6 92.8,286.5 93.0,290.1 93.2,288.0 93.5,291.4 93.8,289.2 94.0,288.5 94.2,290.0 94.5,289.3 94.8,288.0 95.0,289.5 95.2,288.0 95.5,286.5 95.8,291.0 96.0,288.2 96.2,287.9 96.5,289.0 96.8,286.7 97.0,286.9 97.2,287.9 97.5,287.9 97.8,288.6 98.0,289.8 98.2,287.9 98.5,289.0 98.8,289.1 99.0,287.1 99.2,288.6 99.5,287.2 99.8,289.5 100.0,288.8 100.2,288.2 100.5,286.6 100.8,288.3 101.0,287.2 101.2,288.9 101.5,287.9 101.8,287.1 102.0,289.1 102.2,288.8 102.5,287.3 102.8,289.3 103.0,287.6 103.2,287.5 103.5,288.0 103.8,286.9 104.0,287.3 104.2,287.6 104.5,289.5 104.8,289.5 105.0,287.3 105.2,289.5 105.5,287.5 105.8,288.0 106.0,288.6 106.2,287.8 106.5,290.3 106.8,287.7 107.0,286.0 107.2,288.9 107.5,286.8 107.8,286.9 108.0,283.7 108.2,288.4 108.5,288.2 108.8,288.1 109.0,288.3 109.2,289.1 109.5,287.0 109.8,288.1 110.0,286.1 110.2,286.5 110.5,288.2 110.8,287.4 111.0,285.3 111.2,287.3 111.5,286.6 111.8,285.8 112.0,287.3 112.2,286.2 112.5,284.8 112.8,285.3 113.0,288.7 113.2,284.8 113.5,286.8 113.8,287.3 114.0,287.3 114.2,285.0 114.5,286.0 114.8,286.6 115.0,287.3 115.2,285.5 115.5,284.9 115.8,287.5 116.0,287.5 116.2,286.6 116.5,285.4 116.8,286.6 117.0,286.2 117.2,287.0 117.5,284.5 117.8,286.1 118.0,285.7 118.2,284.5 118.5,286.1 118.8,285.8 119.0,285.2 119.2,286.2 119.5,283.9 119.8,285.5 120.0,286.1 120.2,285.8 120.5,286.7 120.8,283.9 121.0,283.5 121.2,285.6 121.5,285.8 121.8,287.8 122.0,285.9 122.2,284.0 122.5,286.0 122.8,283.9 123.0,283.1 123.2,288.0 123.5,285.1 123.8,285.5 124.0,285.3 124.2,286.7 124.5,284.7 124.8,285.8 125.0,282.9 125.2,282.4 125.5,285.8 125.8,285.7 126.0,284.4 126.2,284.0 126.5,283.8 126.8,282.6 127.0,285.2 127.2,284.0 127.5,283.7 127.8,283.4 128.0,284.1 128.2,283.3 128.5,283.5 128.8,280.9 129.0,282.9 129.2,284.9 129.5,281.3 129.8,281.7 130.0,282.8 130.2,282.8 130.5,282.2 130.8,279.2 131.0,281.8 131.2,279.4 131.5,279.7 131.8,281.4 132.0,280.1 132.2,281.4 132.5,284.3 132.8,281.1 133.0,280.9 133.2,278.6 133.5,278.8 133.8,278.0 134.0,278.6 134.2,277.7 134.5,278.1 134.8,278.6 135.0,277.4 135.2,276.6 135.5,276.6 135.8,278.9 136.0,278.2 136.2,279.3 136.5,279.2 136.8,277.2 137.0,278.4 137.2,275.4 137.5,280.4 137.8,278.7 138.0,276.7 138.2,275.3 138.5,277.2 138.8,274.0 139.0,275.4 139.2,277.4 139.5,276.3 139.8,275.4 140.0,277.3 140.2,274.5 140.5,276.2 140.8,275.0 141.0,274.4 141.2,276.1 141.5,274.0 141.8,277.9 142.0,274.4 142.2,277.9 142.5,273.5 142.8,275.8 143.0,273.2 143.2,272.9 143.5,274.9 143.8,275.6 144.0,272.7 144.2,276.1 144.5,273.3 144.8,274.5 145.0,274.8 145.2,275.0 145.5,271.6 145.8,276.3 146.0,274.7 146.2,273.3 146.5,272.4 146.8,271.3 147.0,271.7 147.2,274.4 147.5,273.0 147.8,271.9 148.0,272.6 148.2,275.5 148.5,272.8 148.8,272.3 149.0,275.0 149.2,273.7 149.5,273.0 149.8,272.0 150.0,270.6 150.2,271.0 150.5,271.9 150.8,272.2 151.0,272.9 151.2,273.1 151.5,272.6 151.8,272.5 152.0,270.6 152.2,268.9 152.5,271.1 152.8,270.4 153.0,270.7 153.2,271.1 153.5,269.6 153.8,269.7 154.0,271.0 154.2,271.2 154.5,270.0 154.8,271.5 155.0,270.3 155.2,269.0 155.5,270.4 155.8,272.9 156.0,269.0 156.2,271.6 156.5,271.7 156.8,271.7 157.0,268.2 157.2,272.2 157.5,269.2 157.8,268.4 158.0,268.2 158.2,269.1 158.5,268.0 158.8,267.3 159.0,269.1 159.2,265.6 159.5,264.6 159.8,266.9 160.0,266.2 160.2,266.3 160.5,262.3 160.8,265.1 161.0,263.5 161.2,264.9 161.5,259.5 161.8,261.1 162.0,259.7 162.2,256.8 162.5,257.5 162.8,259.8 163.0,256.5 163.2,255.3 163.5,257.2 163.8,256.7 164.0,256.0 164.2,252.3 164.5,252.8 164.8,254.0 165.0,250.4 165.2,249.5 165.5,251.4 165.8,251.9 166.0,246.2 166.2,242.7 166.5,243.8 166.8,243.6 167.0,244.2 167.2,244.5 167.5,242.1 167.8,240.1 168.0,240.6 168.2,237.6 168.5,238.3 168.8,236.2 169.0,241.7 169.2,237.3 169.5,233.3 169.8,232.2 170.0,232.6 170.2,229.6 170.5,230.9 170.8,230.4 171.0,233.2 171.2,230.4 171.5,229.3 171.8,227.9 172.0,228.0 172.2,229.9 172.5,229.3 172.8,231.7 173.0,227.9 173.2,231.0 173.5,229.2 173.8,228.4 174.0,224.1 174.2,225.3 174.5,229.2 174.8,230.3 175.0,227.7 175.2,228.6 175.5,226.0 175.8,225.9 176.0,225.1 176.2,228.3 176.5,226.8 176.8,225.5 177.0,225.2 177.2,226.9 177.5,226.3 177.8,223.8 178.0,228.9 178.2,225.8 178.5,225.2 178.8,228.2 179.0,227.2 179.2,224.9 179.5,226.1 179.8,222.8 180.0,223.7 180.2,220.4 180.5,227.5 180.8,221.1 181.0,226.4 181.2,223.3 181.5,223.0 181.8,224.6 182.0,225.5 182.2,226.2 182.5,228.6 182.8,225.7 183.0,226.8 183.2,223.8 183.5,226.5 183.8,225.3 184.0,224.1 184.2,224.8 184.5,224.9 184.8,225.4 185.0,225.8 185.2,224.0 185.5,223.5 185.8,226.5 186.0,221.6 186.2,223.7 186.5,228.2 186.8,219.5 187.0,223.6 187.2,226.4 187.5,221.6 187.8,230.3 188.0,219.7 188.2,227.9 188.5,228.2 188.8,226.9 189.0,224.6 189.2,225.7 189.5,223.2 189.8,226.6 190.0,222.7 190.2,224.4 190.5,227.0 190.8,222.7 191.0,224.3 191.2,225.3 191.5,222.3 191.8,227.4 192.0,225.7 192.2,221.9 192.5,224.9 192.8,223.4 193.0,223.7 193.2,225.2 193.5,223.6 193.8,227.0 194.0,223.6 194.2,227.0 194.5,224.9 194.8,226.7 195.0,223.9 195.2,224.0 195.5,222.9 195.8,226.6 196.0,227.6 196.2,230.4 196.5,229.1 196.8,227.6 197.0,227.2 197.2,229.0 197.5,228.7 197.8,232.3 198.0,232.0 198.2,229.1 198.5,230.1 198.8,234.7 199.0,233.3 199.2,232.9 199.5,236.2 199.8,233.8 200.0,234.5 200.2,234.6 200.5,232.3 200.8,238.1 201.0,234.7 201.2,236.5 201.5,236.7 201.8,240.0 202.0,239.0 202.2,239.7 202.5,237.1 202.8,240.6 203.0,238.6 203.2,242.4 203.5,243.0 203.8,242.7 204.0,246.9 204.2,244.6 204.5,245.2 204.8,244.7 205.0,244.5 205.2,246.9 205.5,247.5 205.8,243.5 206.0,247.9 206.2,247.1 206.5,248.1 206.8,247.5 207.0,244.7 207.2,245.0 207.5,250.5 207.8,247.9 208.0,245.2 208.2,248.4 208.5,247.4 208.8,245.0 209.0,244.4 209.2,245.8 209.5,249.2 209.8,248.9 210.0,248.7 210.2,249.8 210.5,250.5 210.8,246.0 211.0,249.2 211.2,248.5 211.5,247.9 211.8,249.2 212.0,250.1 212.2,249.9 212.5,248.0 212.8,249.8 213.0,254.2 213.2,249.0 213.5,248.1 213.8,251.5 214.0,252.1 214.2,252.0 214.5,249.3 214.8,253.0 215.0,250.0 215.2,249.5 215.5,250.4 215.8,251.3 216.0,252.7 216.2,252.6 216.5,251.5 216.8,253.1 217.0,251.6 217.2,253.0 217.5,249.0 217.8,248.7 218.0,252.6 218.2,248.8 218.5,250.6 218.8,250.8 219.0,250.0 219.2,249.9 219.5,252.9 219.8,246.1 220.0,251.8 220.2,254.0 220.5,250.0 220.8,249.7 221.0,250.8 221.2,252.5 221.5,247.2 221.8,249.2 222.0,248.5 222.2,249.6 222.5,248.7 222.8,249.4 223.0,247.3 223.2,247.9 223.5,246.3 223.8,246.1 224.0,246.7 224.2,246.3 224.5,244.1 224.8,248.6 225.0,245.1 225.2,242.5 225.5,246.4 225.8,242.7 226.0,244.5 226.2,243.0 226.5,243.0 226.8,242.3 227.0,240.5 227.2,241.1 227.5,244.2 227.8,235.9 228.0,239.6 228.2,239.8 228.5,236.5 228.8,235.4 229.0,241.5 229.2,236.3 229.5,240.4 229.8,237.1 230.0,235.7 230.2,236.0 230.5,235.8 230.8,236.3 231.0,234.4 231.2,233.3 231.5,232.8 231.8,234.6 232.0,233.0 232.2,229.0 232.5,229.1 232.8,230.5 233.0,228.1 233.2,228.0 233.5,226.4 233.8,227.2 234.0,228.0 234.2,228.6 234.5,226.1 234.8,229.7 235.0,224.9 235.2,230.9 235.5,226.0 235.8,224.5 236.0,222.0 236.2,216.7 236.5,221.6 236.8,221.8 237.0,224.9 237.2,217.7 237.5,223.9 237.8,219.0 238.0,220.6 238.2,213.4 238.5,218.5 238.8,217.1 239.0,218.9 239.2,217.3 239.5,214.3 239.8,218.3 240.0,217.4 240.2,216.9 240.5,217.4 240.8,217.2 241.0,214.5 241.2,211.4 241.5,211.0 241.8,216.4 242.0,214.7 242.2,213.0 242.5,211.5 242.8,212.1 243.0,211.6 243.2,210.4 243.5,209.2 243.8,214.9 244.0,210.3 244.2,208.0 244.5,205.9 244.8,206.6 245.0,209.2 245.2,208.6 245.5,205.9 245.8,205.8 246.0,204.3 246.2,201.8 246.5,206.2 246.8,203.1 247.0,206.6 247.2,198.2 247.5,198.2 247.8,199.1 248.0,195.0 248.2,190.8 248.5,190.2 248.8,190.9 249.0,189.8 249.2,187.0 249.5,187.9 249.8,186.1 250.0,182.7 250.2,180.2 250.5,177.8 250.8,178.0 251.0,177.3 251.2,173.5 251.5,172.7 251.8,169.0 252.0,164.5 252.2,163.7 252.5,166.4 252.8,163.8 253.0,164.9 253.2,159.0 253.5,159.3 253.8,158.6 254.0,155.8 254.2,149.6 254.5,148.8 254.8,147.7 255.0,142.7 255.2,144.7 255.5,144.2 255.8,138.1 256.0,143.0 256.2,134.7 256.5,132.8 256.8,130.5 257.0,126.9 257.2,127.8 257.5,124.4 257.8,127.0 258.0,121.8 258.2,119.6 258.5,115.5 258.8,110.3 259.0,112.7 259.2,109.1 259.5,112.9 259.8,108.6 260.0,112.6 260.2,109.0 260.5,109.0 260.8,107.5 261.0,108.2 261.2,110.7 261.5,112.8 261.8,109.5 262.0,114.4 262.2,122.2 262.5,115.8 262.8,117.1 263.0,117.8 263.2,117.7 263.5,127.3 263.8,126.3 264.0,129.2 264.2,135.9 264.5,140.0 264.8,132.8 265.0,140.4 265.2,141.5 265.5,143.3 265.8,145.9 266.0,147.1 266.2,154.0 266.5,154.0 266.8,155.9 267.0,160.8 267.2,162.5 267.5,164.0 267.8,166.2 268.0,172.3 268.2,171.6 268.5,172.5 268.8,172.9 269.0,176.4 269.2,176.8 269.5,181.6 269.8,184.0 270.0,180.5 270.2,187.3 270.5,190.7 270.8,191.5 271.0,190.8 271.2,197.8 271.5,195.3 271.8,196.1 272.0,198.4 272.2,202.9 272.5,207.1 272.8,209.7 273.0,210.0 273.2,209.5 273.5,213.2 273.8,215.3 274.0,219.4 274.2,218.7 274.5,225.0 274.8,228.5 275.0,229.3 275.2,232.7 275.5,232.2 275.8,233.1 276.0,236.3 276.2,241.1 276.5,242.4 276.8,241.1 277.0,245.2 277.2,243.6 277.5,247.6 277.8,246.5 278.0,245.6 278.2,248.4 278.5,246.3 278.8,246.6 279.0,246.3 279.2,249.7 279.5,249.7 279.8,250.2 280.0,250.1 280.2,253.6 280.5,251.0 280.8,250.9 281.0,254.6 281.2,255.2 281.5,253.8 281.8,250.8 282.0,253.0 282.2,255.3 282.5,254.7 282.8,257.5 283.0,253.1 283.2,256.7 283.5,254.9 283.8,258.3 284.0,256.3 284.2,258.3 284.5,255.9 284.8,255.0 285.0,255.7 285.2,256.8 285.5,256.4 285.8,260.1 286.0,260.6 286.2,259.2 286.5,257.4 286.8,259.0 287.0,258.4 287.2,261.9 287.5,260.4 287.8,260.9 288.0,259.7 288.2,257.4 288.5,259.6 288.8,259.2 289.0,261.7 289.2,261.5 289.5,260.3 289.8,261.1 290.0,264.3 290.2,260.6 290.5,260.9 290.8,262.1 291.0,261.5 291.2,262.1 291.5,263.7 291.8,265.7 292.0,260.6 292.2,263.4 292.5,263.6 292.8,263.6 293.0,263.6 293.2,263.5 293.5,265.6 293.8,263.6 294.0,264.3 294.2,264.6 294.5,264.9 294.8,264.6 295.0,266.5 295.2,265.1 295.5,265.5 295.8,265.3 296.0,264.1 296.2,264.5 296.5,264.3 296.8,266.3 297.0,265.1 297.2,264.7 297.5,266.8 297.8,267.3 298.0,264.2 298.2,269.3 298.5,267.0 298.8,267.0 299.0,268.8 299.2,267.5 299.5,266.7 299.8,270.8 300.0,266.3 300.2,267.8 300.5,269.3 300.8,266.7 301.0,268.2 301.2,269.0 301.5,271.9 301.8,267.4 302.0,268.7 302.2,269.8 302.5,269.1 302.8,267.4 303.0,269.8 303.2,269.4 303.5,270.0 303.8,271.0 304.0,270.9 304.2,270.2 304.5,270.1 304.8,268.2 305.0,269.6 305.2,270.1 305.5,269.3 305.8,270.0 306.0,268.8 306.2,272.1 306.5,273.0 306.8,269.5 307.0,270.6 307.2,269.7 307.5,271.7 307.8,270.6 308.0,270.1 308.2,269.6 308.5,270.1 308.8,268.5 309.0,270.8 309.2,268.9 309.5,270.6 309.8,270.0 310.0,271.3 310.2,269.7 310.5,271.1 310.8,268.4 311.0,270.5 311.2,269.2 311.5,269.8 311.8,269.6 312.0,270.7 312.2,266.5 312.5,269.8 312.8,267.2 313.0,270.9 313.2,266.4 313.5,267.7 313.8,266.7 314.0,271.3 314.2,267.1 314.5,269.1 314.8,268.1 315.0,266.3 315.2,268.3 315.5,269.6 315.8,268.4 316.0,269.9 316.2,268.0 316.5,268.5 316.8,267.9 317.0,268.9 317.2,271.0 317.5,268.8 317.8,268.5 318.0,267.4 318.2,267.1 318.5,270.2 318.8,266.6 319.0,266.8 319.2,267.9 319.5,267.5 319.8,270.8 320.0,264.7 320.2,268.5 320.5,269.0 320.8,266.4 321.0,267.1 321.2,268.6 321.5,270.3 321.8,266.7 322.0,265.8 322.2,269.4 322.5,270.2 322.8,267.6 323.0,264.9 323.2,270.1 323.5,267.8 323.8,269.7 324.0,268.1 324.2,267.6 324.5,267.5 324.8,270.3 325.0,270.2 325.2,265.2 325.5,266.9 325.8,270.8 326.0,267.8 326.2,266.4 326.5,268.4 326.8,268.2 327.0,268.3 327.2,267.8 327.5,268.1 327.8,267.9 328.0,269.0 328.2,267.5 328.5,268.2 328.8,268.5 329.0,270.5 329.2,269.3 329.5,268.6 329.8,269.6 330.0,269.4 330.2,270.4 330.5,269.7 330.8,271.5 331.0,270.9 331.2,269.0 331.5,268.5 331.8,270.4 332.0,269.9 332.2,269.1 332.5,267.3 332.8,266.8 333.0,269.9 333.2,270.5 333.5,270.6 333.8,267.7 334.0,271.0 334.2,268.9 334.5,270.2 334.8,270.3 335.0,268.6 335.2,269.0 335.5,267.0 335.8,268.6 336.0,267.4 336.2,270.6 336.5,270.1 336.8,271.3 337.0,270.6 337.2,269.3 337.5,270.7 337.8,269.7 338.0,271.1 338.2,270.7 338.5,269.0 338.8,270.4 339.0,270.5 339.2,270.0 339.5,271.7 339.8,272.9 340.0,270.1 340.2,270.1 340.5,267.6 340.8,270.5 341.0,270.1 341.2,267.8 341.5,271.2 341.8,271.6 342.0,269.8 342.2,270.3 342.5,269.6 342.8,271.9 343.0,268.9 343.2,270.5 343.5,273.6 343.8,271.1 344.0,271.7 344.2,270.8 344.5,269.5 344.8,271.0 345.0,271.7 345.2,269.7 345.5,271.6 345.8,272.9 346.0,272.6 346.2,269.1 346.5,269.9 346.8,269.1 347.0,272.7 347.2,272.1 347.5,272.3 347.8,270.1 348.0,269.8 348.2,271.5 348.5,271.5 348.8,270.3 349.0,271.6 349.2,272.3 349.5,271.8 349.8,270.1 350.0,268.7 350.2,271.2 350.5,271.8 350.8,271.2 351.0,271.0 351.2,270.7 351.5,272.6 351.8,271.6 352.0,271.9 352.2,270.5 352.5,271.0 352.8,272.0 353.0,270.5 353.2,270.2 353.5,271.5 353.8,273.6 354.0,272.3 354.2,274.0 354.5,271.9 354.8,271.7 355.0,270.3 355.2,271.5 355.5,274.3 355.8,272.9 356.0,273.5 356.2,273.5 356.5,272.7 356.8,272.5 357.0,273.0 357.2,273.8 357.5,273.7 357.8,273.8 358.0,273.5 358.2,272.4 358.5,273.1 358.8,272.4 359.0,275.0 359.2,271.1 359.5,273.7 359.8,277.2 360.0,273.7 360.2,272.8 360.5,274.4 360.8,276.2 361.0,274.4 361.2,275.5 361.5,274.9 361.8,274.4 362.0,279.1 362.2,275.2 362.5,274.5 362.8,274.7 363.0,275.9 363.2,276.0 363.5,276.5 363.8,275.8 364.0,273.9 364.2,276.4 364.5,275.4 364.8,275.5 365.0,274.0 365.2,275.2 365.5,275.0 365.8,275.9 366.0,274.1 366.2,276.1 366.5,276.2 366.8,274.6 367.0,275.2 367.2,274.9 367.5,277.1 367.8,272.7 368.0,275.4 368.2,273.7 368.5,275.2 368.8,276.7 369.0,274.8 369.2,275.7 369.5,274.3 369.8,277.8 370.0,276.4 370.2,276.6 370.5,273.3 370.8,273.5 371.0,276.2 371.2,274.4 371.5,274.2 371.8,274.8 372.0,272.6 372.2,275.1 372.5,274.0 372.8,274.4 373.0,272.8 373.2,274.2 373.5,272.4 373.8,274.5 374.0,274.5 374.2,274.1 374.5,273.4 374.8,273.4 375.0,268.8 375.2,273.3 375.5,271.7 375.8,272.0 376.0,271.3 376.2,269.6 376.5,270.6 376.8,272.0 377.0,272.9 377.2,269.9 377.5,269.4 377.8,272.4 378.0,269.0 378.2,272.9 378.5,269.9 378.8,268.5 379.0,270.8 379.2,271.6 379.5,267.1 379.8,271.0 380.0,268.2 380.2,270.4 380.5,267.6 380.8,265.7 381.0,268.3 381.2,268.6 381.5,269.9 381.8,269.1 382.0,267.4 382.2,265.8 382.5,265.1 382.8,265.1 383.0,264.0 383.2,264.5 383.5,261.0 383.8,264.5 384.0,263.9 384.2,267.3 384.5,264.4 384.8,262.3 385.0,263.5 385.2,260.6 385.5,261.2 385.8,259.1 386.0,263.6 386.2,262.1 386.5,259.2 386.8,260.6 387.0,261.8 387.2,260.8 387.5,260.3 387.8,258.2 388.0,258.1 388.2,258.9 388.5,259.8 388.8,256.8 389.0,256.0 389.2,259.1 389.5,255.6 389.8,258.3 390.0,256.7 390.2,257.4 390.5,258.4 390.8,256.5 391.0,256.3 391.2,253.5 391.5,253.6 391.8,255.5 392.0,256.7 392.2,256.3 392.5,257.7 392.8,254.5 393.0,254.3 393.2,255.6 393.5,254.3 393.8,254.5 394.0,253.4 394.2,257.1 394.5,254.6 394.8,257.7 395.0,255.5 395.2,260.0 395.5,257.6 395.8,261.1 396.0,258.3 396.2,260.7 396.5,263.8 396.8,261.5 397.0,263.3 397.2,263.0 397.5,260.7 397.8,264.7 398.0,265.2 398.2,263.3 398.5,265.9 398.8,264.2 399.0,264.2 399.2,265.9 399.5,265.1 399.8,269.5 400.0,264.4 400.2,267.8 400.5,268.4 400.8,264.5 401.0,265.1 401.2,268.4 401.5,267.2 401.8,268.6 402.0,269.8 402.2,267.9 402.5,267.1 402.8,265.0 403.0,269.2 403.2,267.8 403.5,269.7 403.8,269.7 404.0,267.7 404.2,272.0 404.5,271.3 404.8,271.1 405.0,268.5 405.2,269.6 405.5,269.6 405.8,269.8 406.0,269.0 406.2,271.2 406.5,271.0 406.8,271.3 407.0,270.2 407.2,272.6 407.5,271.2 407.8,267.4 408.0,270.3 408.2,271.1 408.5,272.5 408.8,270.9 409.0,271.1 409.2,270.6 409.5,272.4 409.8,271.0 410.0,270.8 410.2,270.7 410.5,272.5 410.8,271.1 411.0,269.6 411.2,272.7 411.5,271.0 411.8,272.5 412.0,272.5 412.2,273.7 412.5,273.5 412.8,271.4 413.0,272.0 413.2,270.6 413.5,274.5 413.8,272.9 414.0,274.2 414.2,272.0 414.5,269.8 414.8,274.5 415.0,272.7 415.2,272.8 415.5,272.7 415.8,273.5 416.0,273.4 416.2,270.7 416.5,274.2 416.8,272.2 417.0,272.3 417.2,275.1 417.5,274.1 417.8,272.5 418.0,270.6 418.2,273.3 418.5,273.8 418.8,273.0 419.0,271.5 419.2,272.2 419.5,271.6 419.8,273.5 420.0,274.3 420.2,274.6 420.5,272.4 420.8,273.7 421.0,274.1 421.2,272.7 421.5,273.2 421.8,276.2 422.0,273.7 422.2,274.6 422.5,273.0 422.8,273.6 423.0,271.4 423.2,273.6 423.5,275.2 423.8,276.3 424.0,275.2 424.2,274.6 424.5,273.8 424.8,273.0 425.0,273.6 425.2,274.6 425.5,272.8 425.8,275.0 426.0,272.6 426.2,271.6 426.5,272.6 426.8,271.8 427.0,272.2 427.2,275.4 427.5,273.7 427.8,274.3 428.0,275.5 428.2,275.7 428.5,273.4 428.8,275.8 429.0,274.6 429.2,274.2 429.5,274.7 429.8,272.4 430.0,273.2 430.2,274.1 430.5,275.0 430.8,273.8 431.0,274.1 431.2,275.6 431.5,276.1 431.8,275.3 432.0,276.0 432.2,273.9 432.5,274.0 432.8,274.9 433.0,274.1 433.2,273.9 433.5,276.6 433.8,274.3 434.0,273.3 434.2,275.2 434.5,276.9 434.8,274.7 435.0,276.2 435.2,274.1 435.5,274.1 435.8,273.8 436.0,274.5 436.2,277.1 436.5,273.3 436.8,276.8 437.0,273.5 437.2,274.5 437.5,275.9 437.8,275.7 438.0,275.2 438.2,272.8 438.5,275.4 438.8,273.7 439.0,278.2 439.2,274.7 439.5,275.2 439.8,273.6 440.0,274.4 440.2,273.4 440.5,276.3 440.8,274.7 441.0,275.8 441.2,274.2 441.5,274.5 441.8,276.7 442.0,273.9 442.2,272.9 442.5,275.7 442.8,273.8 443.0,274.7 443.2,276.4 443.5,274.2 443.8,276.3 444.0,274.4 444.2,277.1 444.5,276.9 444.8,274.7 445.0,275.0 445.2,274.3 445.5,275.6 445.8,276.8 446.0,273.6 446.2,276.5 446.5,273.7 446.8,274.3 447.0,273.2 447.2,278.0 447.5,275.5 447.8,275.7 448.0,274.6 448.2,276.8 448.5,272.8 448.8,275.5 449.0,278.2 449.2,275.0 449.5,275.5 449.8,276.3 450.0,274.5 450.2,275.5 450.5,276.7 450.8,275.7 451.0,276.0 451.2,275.1 451.5,275.9 451.8,275.6 452.0,277.3 452.2,276.4 452.5,275.2 452.8,272.5 453.0,276.4 453.2,276.4 453.5,274.4 453.8,273.0 454.0,274.1 454.2,276.6 454.5,274.1 454.8,274.9 455.0,275.7 455.2,277.0 455.5,275.4 455.8,275.3 456.0,274.7 456.2,277.4 456.5,276.7 456.8,275.2 457.0,273.6 457.2,274.3 457.5,276.0 457.8,274.4 458.0,276.4 458.2,275.7 458.5,275.6 458.8,276.0 459.0,275.8 459.2,274.1 459.5,274.7 459.8,278.0 460.0,273.6 460.2,274.5 460.5,276.4 460.8,274.8 461.0,274.0 461.2,273.4 461.5,275.6 461.8,276.2 462.0,276.7 462.2,275.0 462.5,276.2 462.8,273.6 463.0,275.1 463.2,274.0 463.5,275.0 463.8,275.7 464.0,276.1 464.2,273.5 464.5,276.3 464.8,274.1 465.0,273.4 465.2,274.5 465.5,272.8 465.8,274.7 466.0,275.0 466.2,274.4 466.5,275.3 466.8,274.2 467.0,274.6 467.2,272.8 467.5,274.6 467.8,273.5 468.0,274.0 468.2,274.4 468.5,274.8 468.8,272.5 469.0,272.6 469.2,274.1 469.5,275.1 469.8,274.9 470.0,275.6 470.2,276.1 470.5,275.1 470.8,274.5 471.0,273.2 471.2,273.4 471.5,274.0 471.8,274.9 472.0,274.9 472.2,274.6 472.5,274.4 472.8,275.4 473.0,274.9 473.2,275.1 473.5,275.1 473.8,274.1 474.0,273.5 474.2,275.5 474.5,275.4 474.8,274.7 475.0,274.5 475.2,277.8 475.5,274.1 475.8,274.8 476.0,275.5 476.2,273.8 476.5,275.4 476.8,277.5 477.0,276.5 477.2,276.2 477.5,276.2 477.8,275.7 478.0,276.8 478.2,275.5 478.5,275.2 478.8,275.9 479.0,276.9 479.2,276.3 479.5,276.8 479.8,273.6 480.0,277.5 480.2,279.0 480.5,277.8 480.8,275.9 481.0,275.3 481.2,276.7 481.5,275.3 481.8,277.4 482.0,276.0 482.2,277.8 482.5,278.4 482.8,274.4 483.0,277.2 483.2,276.1 483.5,275.3 483.8,276.3 484.0,276.9 484.2,278.5 484.5,275.5 484.8,278.6 485.0,279.8 485.2,278.2 485.5,278.2 485.8,277.6 486.0,276.3 486.2,278.4 486.5,278.2 486.8,278.7 487.0,281.0 487.2,278.8 487.5,278.5 487.8,279.9 488.0,276.5 488.2,276.8 488.5,277.8 488.8,277.5 489.0,279.2 489.2,278.0 489.5,280.5 489.8,280.3 490.0,279.4 490.2,278.1 490.5,279.3 490.8,279.6 491.0,277.4 491.2,279.1 491.5,279.6 491.8,279.0 492.0,280.7 492.2,280.3 492.5,277.9 492.8,279.0 493.0,277.9 493.2,279.6 493.5,277.9 493.8,280.0 494.0,279.4 494.2,280.1 494.5,278.8 494.8,277.3 495.0,281.1 495.2,278.8 495.5,280.6 495.8,279.5 496.0,279.8 496.2,281.1 496.5,279.4 496.8,280.6 497.0,277.2 497.2,279.9 497.5,278.6 497.8,278.7 498.0,278.9 498.2,279.2 498.5,280.8 498.8,276.6 499.0,278.8 499.2,277.9 499.5,280.1 499.8,278.2 500.0,279.2 500.2,278.2 500.5,279.4 500.8,279.7 501.0,278.1 501.2,278.5 501.5,276.8 501.8,278.8 502.0,279.4 502.2,277.7 502.5,279.6 502.8,275.9 503.0,276.1 503.2,276.6 503.5,277.6 503.8,278.2 504.0,278.0 504.2,278.0 504.5,278.9 504.8,277.5 505.0,276.5 505.2,276.5 505.5,280.4 505.8,275.1 506.0,277.6 506.2,279.5 506.5,278.4 506.8,276.8 507.0,277.7 507.2,278.7 507.5,279.1 507.8,276.6 508.0,278.5 508.2,277.9 508.5,278.9 508.8,279.2 509.0,277.2 509.2,275.8 509.5,278.0 509.8,279.6 510.0,278.3 510.2,277.8 510.5,280.3 510.8,276.3 511.0,278.6 511.2,276.8 511.5,277.6 511.8,277.6 512.0,279.3 512.2,276.4 512.5,276.9 512.8,275.6 513.0,278.1 513.2,277.0 513.5,278.0 513.8,276.3 514.0,277.1 514.2,278.8 514.5,277.4 514.8,278.3 515.0,278.2 515.2,277.2 515.5,275.8 515.8,278.8 516.0,277.8 516.2,278.8 516.5,275.3 516.8,275.7 517.0,275.2 517.2,276.7 517.5,278.9 517.8,278.4 518.0,277.7 518.2,277.9 518.5,278.7 518.8,277.4 519.0,278.3 519.2,278.0 519.5,275.3 519.8,277.4 520.0,279.5 520.2,277.4 520.5,277.7 520.8,277.2 521.0,277.4 521.2,279.3 521.5,277.7 521.8,276.8 522.0,274.4 522.2,277.4 522.5,275.8 522.8,276.0 523.0,279.0 523.2,279.0 523.5,275.9 523.8,279.2 524.0,278.7 524.2,277.3 524.5,279.1 524.8,276.4 525.0,276.9 525.2,276.7 525.5,277.1 525.8,279.4 526.0,276.9 526.2,277.1 526.5,277.4 526.8,278.7 527.0,278.1 527.2,279.5 527.5,277.7 527.8,277.1 528.0,278.0 528.2,278.7 528.5,277.6 528.8,279.0 529.0,280.8 529.2,278.1 529.5,278.8 529.8,280.4 530.0,278.1 530.2,277.9 530.5,277.6 530.8,279.4 531.0,279.5 531.2,278.8 531.5,279.0 531.8,280.5 532.0,280.0 532.2,277.5 532.5,279.1 532.8,279.2 533.0,280.0 533.2,278.9 533.5,278.5 533.8,278.7 534.0,277.2 534.2,279.2 534.5,278.6 534.8,279.9 535.0,278.2 535.2,278.9 535.5,278.3 535.8,278.2 536.0,280.3 536.2,279.0 536.5,280.0 536.8,278.3 537.0,279.7 537.2,277.7 537.5,279.1 537.8,279.1 538.0,280.4 538.2,279.9 538.5,279.6 538.8,280.7 539.0,280.1 539.2,280.5 539.5,280.8 539.8,279.9 540.0,279.7 540.2,280.4 540.5,279.6 540.8,280.5 541.0,281.4 541.2,281.1 541.5,279.8 541.8,278.8 542.0,280.2 542.2,280.2 542.5,281.6 542.8,280.0 543.0,280.2 543.2,281.3 543.5,280.0 543.8,280.4 544.0,282.6 544.2,282.4 544.5,281.5 544.8,281.1 545.0,279.8 545.2,281.5 545.5,281.0 545.8,281.2 546.0,280.5 546.2,281.1 546.5,280.9 546.8,281.5 547.0,282.8 547.2,281.7 547.5,279.5 547.8,280.3 548.0,279.7 548.2,280.6 548.5,282.1 548.8,282.0 549.0,281.0 549.2,282.0 549.5,280.9 549.8,280.2 550.0,280.3 550.2,280.9 550.5,283.5 550.8,280.5 551.0,283.4 551.2,283.5 551.5,281.9 551.8,282.1 552.0,281.5 552.2,282.2 552.5,283.0 552.8,282.4 553.0,283.5 553.2,283.7 553.5,282.9 553.8,282.9 554.0,282.5 554.2,283.0 554.5,281.5 554.8,283.2 555.0,283.0 555.2,281.9 555.5,285.2 555.8,281.8 556.0,282.0 556.2,283.3 556.5,280.9 556.8,282.2 557.0,281.5 557.2,282.1 557.5,283.0 557.8,283.6 558.0,284.4 558.2,284.2 558.5,284.6 558.8,284.0 559.0,282.9 559.2,284.6 559.5,283.0 559.8,282.9 560.0,285.2 560.2,284.4 560.5,283.9 560.8,284.5 561.0,284.6 561.2,282.3 561.5,283.7 561.8,282.5 562.0,283.9 562.2,283.1 562.5,285.3 562.8,284.5 563.0,283.1 563.2,283.9 563.5,282.7 563.8,284.1 564.0,284.6 564.2,284.4 564.5,282.1 564.8,283.8 565.0,284.7 565.2,284.5 565.5,285.5 565.8,282.9 566.0,284.8 566.2,283.6 566.5,284.5 566.8,284.8 567.0,285.1 567.2,283.8 567.5,284.6 567.8,283.3 568.0,283.0 568.2,285.1 568.5,284.5 568.8,282.9 569.0,283.7 569.2,284.7 569.5,286.3 569.8,285.8 570.0,285.6 570.2,282.9 570.5,284.7 570.8,285.3 571.0,285.2 571.2,285.3 571.5,284.6 571.8,286.7 572.0,286.5 572.2,284.9 572.5,284.0 572.8,287.1 573.0,284.5 573.2,286.3 573.5,287.1 573.8,284.1 574.0,285.4 574.2,284.8 574.5,285.7 574.8,285.5 575.0,287.2 575.2,285.9 575.5,285.3 575.8,286.5 576.0,285.0 576.2,285.0 576.5,287.7 576.8,284.5 577.0,284.9 577.2,285.5 577.5,284.4 577.8,283.3 578.0,286.6 578.2,284.7 578.5,285.0 578.8,285.2 579.0,284.6 579.2,284.5 579.5,285.8 579.8,288.1 580.0,286.4 580.2,286.5 580.5,284.2 580.8,285.7 581.0,284.6 581.2,286.6 581.5,285.6 581.8,285.9 582.0,285.8 582.2,285.3 582.5,284.4 582.8,286.5 583.0,284.5 583.2,284.8 583.5,285.7 583.8,285.3 584.0,286.3 584.2,287.1 584.5,286.3 584.8,286.3 585.0,286.1 585.2,287.0 585.5,284.3 585.8,286.5 586.0,285.2 586.2,285.0 586.5,286.2 586.8,285.9 587.0,286.9 587.2,287.4 587.5,284.0 587.8,286.3 588.0,288.3 588.2,287.2 588.5,287.9 588.8,286.5 589.0,285.0 589.2,285.3 589.5,287.2 589.8,287.5 590.0,285.8 590.2,286.3 590.5,286.8 590.8,284.8 591.0,286.2 591.2,288.2 591.5,288.8 591.8,286.5 592.0,288.5 592.2,286.2 592.5,285.9 592.8,284.5 593.0,287.7 593.2,286.4 593.5,289.1 593.8,287.1 594.0,287.0 594.2,285.1 594.5,288.4 594.8,286.5 595.0,286.8 595.2,284.7 595.5,287.9 595.8,288.0 596.0,286.4 596.2,287.1 596.5,287.4 596.8,288.0 597.0,287.2 597.2,288.8 597.5,286.9 597.8,286.5 598.0,286.7 598.2,284.7 598.5,286.4 598.8,288.2 599.0,287.5 599.2,286.4 599.5,287.6 599.8,285.3 600.0,287.0 600.2,287.8 600.5,288.0 600.8,286.6 601.0,288.3 601.2,289.2 601.5,287.0 601.8,288.2 602.0,285.9 602.2,285.5 602.5,288.1 602.8,287.5 603.0,287.7 603.2,287.0 603.5,287.3 603.8,288.4 604.0,289.3 604.2,287.4 604.5,286.0 604.8,288.9 605.0,288.3 605.2,288.4 605.5,287.9 605.8,290.0 606.0,287.8 606.2,288.3 606.5,286.0 606.8,287.2 607.0,287.1 607.2,287.8 607.5,288.2 607.8,287.1 608.0,289.6 608.2,286.8 608.5,287.5 608.8,288.2 609.0,286.7 609.2,288.5 609.5,288.6 609.8,287.7 610.0,289.9 610.2,288.1 610.5,288.3 610.8,287.1 611.0,286.4 611.2,287.5 611.5,287.8 611.8,287.7 612.0,288.9 612.2,285.8 612.5,287.1 612.8,286.4 613.0,289.5 613.2,287.7 613.5,287.7 613.8,287.2 614.0,289.1 614.2,287.9 614.5,288.5 614.8,286.3 615.0,289.4 615.2,288.7 615.5,288.9 615.8,289.5 616.0,288.2 616.2,288.2 616.5,289.1 616.8,288.8 617.0,288.2 617.2,288.5 617.5,287.9 617.8,289.1 618.0,289.4 618.2,288.5 618.5,290.3 618.8,287.0 619.0,288.3 619.2,290.2 619.5,288.1 619.8,287.0 620.0,289.9 620.2,289.1 620.5,287.4 620.8,289.3 621.0,287.6 621.2,287.3 621.5,288.5 621.8,288.2 622.0,287.6 622.2,288.3 622.5,287.7 622.8,288.7 623.0,288.7 623.2,289.4 623.5,288.3 623.8,287.4 624.0,287.5 624.2,288.5 624.5,290.2 624.8,289.6 625.0,288.1 625.2,289.7 625.5,287.7 625.8,289.8 626.0,288.4 626.2,289.5 626.5,289.4 626.8,288.6 627.0,289.2 627.2,287.8 627.5,288.8 627.8,289.9 628.0,292.8 628.2,289.6 628.5,289.0 628.8,287.9 629.0,289.9 629.2,287.3 629.5,288.2 629.8,289.3 630.0,287.8 630.2,290.4 630.5,290.0 630.8,288.4 631.0,288.5 631.2,287.7 631.5,287.7 631.8,289.4 632.0,289.6 632.2,289.4 632.5,289.3 632.8,288.5 633.0,289.4 633.2,287.7 633.5,289.1 633.8,290.5 634.0,290.4 634.2,288.7 634.5,288.8 634.8,290.4 635.0,290.8 635.2,287.7 635.5,288.8 635.8,289.4 636.0,290.3 636.2,288.4 636.5,289.8 636.8,288.9 637.0,291.5 637.2,289.6 637.5,289.1 637.8,288.9 638.0,290.2 638.2,289.9 638.5,288.2 638.8,289.5 639.0,288.0 639.2,288.6 639.5,288.1 639.8,288.1 640.0,288.7 640.2,288.4 640.5,289.8 640.8,290.1 641.0,289.1 641.2,288.3 641.5,290.1 641.8,287.5 642.0,287.6 642.2,290.1 642.5,290.0 642.8,290.3 643.0,289.2 643.2,288.2 643.5,288.9 643.8,290.0 644.0,288.7 644.2,288.8 644.5,288.1 644.8,288.4 645.0,290.3 645.2,289.9 645.5,288.4 645.8,288.5 646.0,289.0 646.2,290.0 646.5,288.4 646.8,289.4 647.0,287.5 647.2,288.4 647.5,289.9 647.8,290.4 648.0,288.5 648.2,288.8 648.5,290.3 648.8,289.2 649.0,289.1 649.2,290.1 649.5,289.8 649.8,290.6 650.0,290.4 650.2,289.1 650.5,289.5 650.8,289.6 651.0,288.4 651.2,288.7 651.5,290.6 651.8,288.2 652.0,290.6 652.2,289.9 652.5,289.6 652.8,290.2 653.0,290.1 653.2,290.8 653.5,289.3 653.8,289.5 654.0,289.5 654.2,291.5 654.5,290.6 654.8,288.9 655.0,289.4 655.2,289.1 655.5,289.8 655.8,290.0 656.0,291.9 656.2,288.1 656.5,290.7 656.8,290.2 657.0,289.1 657.2,289.7 657.5,289.3 657.8,289.8 658.0,290.7 658.2,288.4 658.5,291.0 658.8,289.5 659.0,291.2 659.2,290.2 659.5,291.0 659.8,290.4 660.0,290.9 660.2,289.9 660.5,289.1 660.8,290.5 661.0,290.5 661.2,291.8 661.5,288.0 661.8,289.7 662.0,290.9 662.2,288.7 662.5,289.7 662.8,291.8 663.0,291.2 663.2,289.1 663.5,291.2 663.8,291.0 664.0,290.6 664.2,290.3 664.5,290.1 664.8,289.1 665.0,289.4 665.2,290.6 665.5,290.1 665.8,291.6 666.0,289.6 666.2,287.7 666.5,289.6 666.8,290.2 667.0,290.3 667.2,290.0 667.5,289.2 667.8,291.3 668.0,289.3 668.2,290.6 668.5,289.7 668.8,288.9 669.0,291.3 669.2,287.7 669.5,289.2 669.8,290.4 670.0,289.6 670.2,290.7 670.5,289.9 670.8,289.6 671.0,292.0"/>
<polyline fill="none" stroke="#1a6fdf" stroke-width="2.5" stroke-linejoin="round" points="67.5,336.6 67.8,336.7 68.0,335.2 68.2,335.7 68.5,338.1 68.8,338.0 69.0,337.0 69.2,335.9 69.5,338.2 69.8,334.2 70.0,336.5 70.2,336.6 70.5,335.7 70.8,337.3 71.0,336.0 71.2,335.8 71.5,340.1 71.8,338.4 72.0,339.1 72.2,337.2 72.5,338.8 72.8,338.5 73.0,339.2 73.2,341.1 73.5,336.8 73.8,337.6 74.0,337.1 74.2,331.3 74.5,334.9 74.8,337.2 75.0,338.3 75.2,336.3 75.5,339.1 75.8,339.4 76.0,336.5 76.2,339.6 76.5,340.2 76.8,338.0 77.0,335.6 77.2,339.7 77.5,337.0 77.8,336.6 78.0,337.5 78.2,336.4 78.5,339.1 78.8,338.6 79.0,339.3 79.2,338.2 79.5,336.0 79.8,337.0 80.0,338.7 80.2,336.6 80.5,342.1 80.8,336.9 81.0,336.3 81.2,339.2 81.5,338.5 81.8,337.2 82.0,336.9 82.2,338.0 82.5,338.7 82.8,338.6 83.0,336.8 83.2,338.0 83.5,338.7 83.8,338.6 84.0,332.2 84.2,335.8 84.5,336.0 84.8,336.9 85.0,337.6 85.2,338.8 85.5,338.3 85.8,337.1 86.0,337.3 86.2,340.2 86.5,336.3 86.8,337.8 87.0,339.9 87.2,337.9 87.5,333.9 87.8,337.9 88.0,336.7 88.2,337.1 88.5,339.0 88.8,338.1 89.0,336.8 89.2,338.7 89.5,337.9 89.8,337.3 90.0,337.6 90.2,337.5 90.5,336.4 90.8,336.2 91.0,336.9 91.2,335.2 91.5,334.6 91.8,338.8 92.0,336.2 92.2,336.5 92.5,336.2 92.8,336.4 93.0,336.3 93.2,336.3 93.5,334.7 93.8,337.5 94.0,334.7 94.2,337.5 94.5,332.4 94.8,333.7 95.0,337.1 95.2,335.1 95.5,334.1 95.8,335.8 96.0,333.2 96.2,335.0 96.5,331.0 96.8,333.9 97.0,333.5 97.2,335.4 97.5,335.9 97.8,332.8 98.0,337.0 98.2,333.0 98.5,330.4 98.8,329.7 99.0,336.5 99.2,333.5 99.5,332.4 99.8,332.2 100.0,331.5 100.2,335.7 100.5,333.1 100.8,336.3 101.0,332.7 101.2,328.8 101.5,334.4 101.8,332.1 102.0,332.3 102.2,335.4 102.5,332.1 102.8,334.5 103.0,332.3 103.2,330.9 103.5,333.1 103.8,331.0 104.0,334.2 104.2,333.6 104.5,331.9 104.8,332.8 105.0,332.6 105.2,331.0 105.5,333.1 105.8,330.9 106.0,332.4 106.2,329.4 106.5,331.3 106.8,331.7 107.0,329.5 107.2,330.0 107.5,329.7 107.8,331.9 108.0,329.2 108.2,331.2 108.5,333.1 108.8,330.9 109.0,327.2 109.2,330.3 109.5,331.9 109.8,329.4 110.0,331.8 110.2,330.9 110.5,330.4 110.8,329.1 111.0,328.5 111.2,328.9 111.5,329.4 111.8,330.2 112.0,329.9 112.2,328.5 112.5,329.0 112.8,329.6 113.0,325.7 113.2,327.2 113.5,327.1 113.8,328.1 114.0,327.9 114.2,327.9 114.5,326.6 114.8,329.4 115.0,328.6 115.2,324.9 115.5,328.0 115.8,325.7 116.0,331.0 116.2,326.8 116.5,326.9 116.8,327.7 117.0,327.1 117.2,327.3 117.5,330.3 117.8,327.7 118.0,328.8 118.2,329.3 118.5,325.2 118.8,330.2 119.0,328.2 119.2,328.7 119.5,325.1 119.8,328.3 120.0,327.4 120.2,325.5 120.5,330.9 120.8,327.5 121.0,325.9 121.2,326.7 121.5,328.0 121.8,328.3 122.0,327.2 122.2,328.4 122.5,328.8 122.8,323.5 123.0,324.9 123.2,323.9 123.5,325.9 123.8,328.4 124.0,326.8 124.2,323.4 124.5,324.8 124.8,327.3 125.0,324.2 125.2,325.0 125.5,325.7 125.8,321.5 126.0,326.5 126.2,325.5 126.5,325.9 126.8,322.8 127.0,323.1 127.2,323.4 127.5,324.9 127.8,324.5 128.0,324.5 128.2,327.7 128.5,326.7 128.8,322.6 129.0,322.6 129.2,327.2 129.5,323.1 129.8,326.4 130.0,326.7 130.2,322.4 130.5,322.8 130.8,323.4 131.0,321.4 131.2,321.1 131.5,322.1 131.8,324.5 132.0,321.8 132.2,322.2 132.5,321.6 132.8,319.6 133.0,325.2 133.2,317.4 133.5,320.7 133.8,323.0 134.0,319.0 134.2,322.9 134.5,324.1 134.8,319.7 135.0,321.7 135.2,318.9 135.5,322.1 135.8,321.1 136.0,321.3 136.2,323.5 136.5,321.5 136.8,323.2 137.0,321.6 137.2,317.7 137.5,320.6 137.8,320.9 138.0,316.8 138.2,322.4 138.5,319.7 138.8,320.2 139.0,317.4 139.2,319.3 139.5,319.6 139.8,318.2 140.0,318.9 140.2,314.2 140.5,321.3 140.8,316.0 141.0,313.6 141.2,316.0 141.5,316.1 141.8,318.9 142.0,315.7 142.2,318.0 142.5,315.3 142.8,321.8 143.0,318.2 143.2,321.0 143.5,314.6 143.8,318.0 144.0,314.4 144.2,317.5 144.5,317.6 144.8,312.6 145.0,313.4 145.2,313.2 145.5,312.3 145.8,313.8 146.0,313.2 146.2,312.0 146.5,315.2 146.8,316.0 147.0,311.8 147.2,313.3 147.5,314.4 147.8,313.7 148.0,312.6 148.2,315.7 148.5,315.6 148.8,315.1 149.0,313.0 149.2,317.7 149.5,317.0 149.8,312.2 150.0,312.6 150.2,315.3 150.5,310.8 150.8,313.3 151.0,312.3 151.2,310.5 151.5,311.4 151.8,308.3 152.0,310.4 152.2,307.0 152.5,316.3 152.8,314.4 153.0,313.6 153.2,311.4 153.5,312.7 153.8,313.2 154.0,312.4 154.2,312.0 154.5,307.7 154.8,310.5 155.0,308.1 155.2,306.4 155.5,306.3 155.8,309.7 156.0,310.9 156.2,305.1 156.5,312.0 156.8,311.2 157.0,306.7 157.2,306.3 157.5,306.9 157.8,309.1 158.0,305.7 158.2,303.8 158.5,306.9 158.8,301.0 159.0,305.9 159.2,307.9 159.5,305.6 159.8,306.4 160.0,305.4 160.2,305.6 160.5,303.8 160.8,301.1 161.0,302.1 161.2,302.1 161.5,304.9 161.8,305.3 162.0,302.0 162.2,298.7 162.5,298.3 162.8,299.2 163.0,302.6 163.2,299.6 163.5,298.2 163.8,296.0 164.0,299.6 164.2,297.7 164.5,296.4 164.8,296.4 165.0,299.9 165.2,294.8 165.5,299.1 165.8,297.6 166.0,294.1 166.2,295.9 166.5,292.9 166.8,290.7 167.0,291.7 167.2,289.6 167.5,292.9 167.8,291.2 168.0,292.2 168.2,292.5 168.5,281.8 168.8,290.3 169.0,284.4 169.2,289.1 169.5,285.9 169.8,288.1 170.0,291.0 170.2,282.4 170.5,287.0 170.8,285.9 171.0,280.5 171.2,286.9 171.5,284.7 171.8,282.8 172.0,281.7 172.2,291.9 172.5,281.6 172.8,277.3 173.0,279.2 173.2,280.3 173.5,279.7 173.8,280.1 174.0,277.0 174.2,280.9 174.5,277.7 174.8,274.8 175.0,275.9 175.2,276.7 175.5,279.8 175.8,278.4 176.0,275.8 176.2,276.4 176.5,276.7 176.8,281.5 177.0,273.6 177.2,276.4 177.5,276.8 177.8,271.7 178.0,274.6 178.2,274.2 178.5,272.1 178.8,274.8 179.0,275.8 179.2,275.9 179.5,271.8 179.8,272.6 180.0,278.6 180.2,268.4 180.5,272.0 180.8,273.8 181.0,271.5 181.2,272.8 181.5,271.2 181.8,272.8 182.0,274.2 182.2,269.7 182.5,270.8 182.8,269.9 183.0,268.8 183.2,269.8 183.5,266.4 183.8,271.8 184.0,274.5 184.2,274.4 184.5,273.0 184.8,266.4 185.0,273.5 185.2,266.9 185.5,268.7 185.8,274.2 186.0,265.6 186.2,271.1 186.5,269.4 186.8,268.0 187.0,265.8 187.2,269.6 187.5,266.9 187.8,271.3 188.0,271.8 188.2,264.1 188.5,266.6 188.8,267.1 189.0,264.6 189.2,264.7 189.5,268.3 189.8,267.4 190.0,263.2 190.2,266.4 190.5,269.6 190.8,264.5 191.0,265.4 191.2,272.8 191.5,272.1 191.8,263.6 192.0,264.5 192.2,269.6 192.5,265.1 192.8,268.0 193.0,267.5 193.2,270.6 193.5,261.8 193.8,262.9 194.0,265.9 194.2,272.5 194.5,269.3 194.8,265.0 195.0,271.5 195.2,272.3 195.5,269.8 195.8,269.7 196.0,272.1 196.2,274.6 196.5,271.7 196.8,273.0 197.0,271.6 197.2,270.8 197.5,269.5 197.8,273.1 198.0,271.7 198.2,272.1 198.5,275.6 198.8,274.6 199.0,275.9 199.2,269.2 199.5,275.5 199.8,272.5 200.0,272.1 200.2,272.3 200.5,278.4 200.8,277.7 201.0,273.7 201.2,272.9 201.5,276.5 201.8,275.5 202.0,281.8 202.2,273.5 202.5,272.9 202.8,277.6 203.0,278.8 203.2,279.5 203.5,281.5 203.8,285.5 204.0,279.3 204.2,279.1 204.5,276.1 204.8,281.9 205.0,283.8 205.2,281.1 205.5,285.3 205.8,282.4 206.0,286.7 206.2,283.8 206.5,280.3 206.8,281.7 207.0,279.6 207.2,279.3 207.5,284.9 207.8,286.8 208.0,289.9 208.2,284.8 208.5,284.6 208.8,282.5 209.0,288.3 209.2,287.0 209.5,284.6 209.8,288.2 210.0,288.1 210.2,282.0 210.5,289.0 210.8,287.6 211.0,286.5 211.2,286.6 211.5,292.5 211.8,292.1 212.0,293.1 212.2,285.7 212.5,287.2 212.8,291.4 213.0,286.2 213.2,287.7 213.5,285.2 213.8,294.8 214.0,292.9 214.2,291.6 214.5,291.2 214.8,289.7 215.0,289.9 215.2,292.6 215.5,289.4 215.8,294.4 216.0,290.1 216.2,289.2 216.5,294.8 216.8,291.1 217.0,292.9 217.2,290.4 217.5,285.7 217.8,292.7 218.0,287.9 218.2,293.9 218.5,287.1 218.8,286.2 219.0,291.6 219.2,291.8 219.5,290.8 219.8,287.3 220.0,292.5 220.2,286.3 220.5,288.7 220.8,287.7 221.0,288.6 221.2,291.6 221.5,287.6 221.8,290.5 222.0,290.7 222.2,284.3 222.5,285.6 222.8,287.4 223.0,286.7 223.2,288.9 223.5,282.9 223.8,289.6 224.0,289.5 224.2,287.0 224.5,283.7 224.8,287.1 225.0,285.5 225.2,288.2 225.5,286.3 225.8,288.3 226.0,285.0 226.2,289.7 226.5,279.7 226.8,282.9 227.0,286.6 227.2,281.1 227.5,286.8 227.8,281.4 228.0,284.6 228.2,281.6 228.5,282.6 228.8,284.0 229.0,282.9 229.2,281.8 229.5,288.2 229.8,282.1 230.0,279.1 230.2,283.8 230.5,283.1 230.8,283.7 231.0,284.8 231.2,276.9 231.5,281.9 231.8,281.6 232.0,278.0 232.2,278.2 232.5,268.8 232.8,274.9 233.0,281.0 233.2,270.6 233.5,273.5 233.8,275.3 234.0,275.6 234.2,278.1 234.5,268.1 234.8,272.6 235.0,274.4 235.2,267.7 235.5,270.8 235.8,275.8 236.0,273.6 236.2,270.9 236.5,261.3 236.8,267.8 237.0,268.8 237.2,266.2 237.5,266.3 237.8,274.9 238.0,264.7 238.2,262.0 238.5,264.9 238.8,262.7 239.0,262.2 239.2,262.3 239.5,264.2 239.8,262.1 240.0,257.2 240.2,259.8 240.5,261.0 240.8,257.6 241.0,261.8 241.2,260.1 241.5,254.1 241.8,257.5 242.0,261.9 242.2,260.0 242.5,254.4 242.8,256.6 243.0,251.1 243.2,248.0 243.5,253.5 243.8,251.8 244.0,251.8 244.2,249.4 244.5,249.7 244.8,246.2 245.0,248.5 245.2,248.7 245.5,245.0 245.8,246.9 246.0,237.7 246.2,239.9 246.5,246.1 246.8,246.2 247.0,240.3 247.2,238.2 247.5,233.3 247.8,237.6 248.0,237.9 248.2,229.2 248.5,234.8 248.8,233.4 249.0,232.0 249.2,225.5 249.5,230.0 249.8,221.9 250.0,231.1 250.2,225.5 250.5,220.0 250.8,227.7 251.0,226.1 251.2,218.9 251.5,228.0 251.8,215.9 252.0,219.6 252.2,221.8 252.5,208.8 252.8,219.5 253.0,214.8 253.2,214.2 253.5,209.5 253.8,213.7 254.0,207.6 254.2,207.2 254.5,208.2 254.8,204.4 255.0,213.6 255.2,202.2 255.5,203.3 255.8,204.0 256.0,204.3 256.2,206.4 256.5,205.7 256.8,200.8 257.0,199.8 257.2,200.7 257.5,203.1 257.8,202.0 258.0,196.9 258.2,191.0 258.5,205.7 258.8,200.8 259.0,197.7 259.2,197.6 259.5,194.0 259.8,191.9 260.0,194.3 260.2,194.7 260.5,193.2 260.8,191.0 261.0,194.8 261.2,198.5 261.5,194.9 261.8,197.3 262.0,191.0 262.2,197.5 262.5,198.4 262.8,194.9 263.0,193.6 263.2,202.2 263.5,198.4 263.8,204.1 264.0,201.8 264.2,206.6 264.5,204.2 264.8,201.2 265.0,207.5 265.2,207.9 265.5,212.6 265.8,209.8 266.0,211.1 266.2,216.6 266.5,218.7 266.8,218.3 267.0,220.3 267.2,219.2 267.5,221.4 267.8,222.8 268.0,222.4 268.2,222.4 268.5,224.0 268.8,233.2 269.0,226.8 269.2,228.0 269.5,229.9 269.8,233.5 270.0,237.0 270.2,235.1 270.5,235.0 270.8,244.6 271.0,240.7 271.2,248.3 271.5,249.5 271.8,254.1 272.0,257.0 272.2,254.4 272.5,252.9 272.8,252.3 273.0,254.7 273.2,258.4 273.5,253.2 273.8,260.7 274.0,261.5 274.2,264.4 274.5,262.6 274.8,264.8 275.0,263.4 275.2,265.1 275.5,262.3 275.8,268.6 276.0,273.5 276.2,270.5 276.5,271.9 276.8,269.0 277.0,276.5 277.2,271.3 277.5,276.4 277.8,275.3 278.0,273.2 278.2,279.4 278.5,277.5 278.8,278.7 279.0,280.1 279.2,279.6 279.5,279.4 279.8,282.3 280.0,280.7 280.2,282.6 280.5,281.3 280.8,279.8 281.0,282.5 281.2,283.6 281.5,285.5 281.8,289.0 282.0,282.2 282.2,287.3 282.5,281.9 282.8,285.3 283.0,287.1 283.2,283.2 283.5,284.6 283.8,290.1 284.0,290.4 284.2,290.3 284.5,289.0 284.8,296.7 285.0,291.4 285.2,290.1 285.5,296.7 285.8,294.4 286.0,292.4 286.2,296.6 286.5,294.4 286.8,295.9 287.0,295.3 287.2,292.6 287.5,297.7 287.8,296.1 288.0,293.6 288.2,294.5 288.5,299.0 288.8,296.1 289.0,297.4 289.2,299.1 289.5,298.2 289.8,294.6 290.0,299.9 290.2,300.9 290.5,301.0 290.8,303.0 291.0,300.4 291.2,301.6 291.5,303.7 291.8,299.6 292.0,304.5 292.2,304.8 292.5,302.8 292.8,305.5 293.0,303.4 293.2,299.7 293.5,304.5 293.8,302.9 294.0,303.3 294.2,303.0 294.5,305.9 294.8,304.3 295.0,301.7 295.2,304.6 295.5,305.4 295.8,302.3 296.0,303.2 296.2,303.5 296.5,303.2 296.8,305.5 297.0,307.2 297.2,309.4 297.5,308.0 297.8,307.8 298.0,308.3 298.2,308.9 298.5,305.3 298.8,307.8 299.0,307.2 299.2,306.4 299.5,305.8 299.8,305.9 300.0,306.6 300.2,304.7 300.5,308.7 300.8,307.6 301.0,308.1 301.2,308.7 301.5,309.7 301.8,307.0 302.0,308.2 302.2,305.1 302.5,304.0 302.8,304.7 303.0,312.3 303.2,305.2 303.5,310.3 303.8,312.6 304.0,308.6 304.2,313.1 304.5,313.7 304.8,311.9 305.0,315.1 305.2,311.4 305.5,308.7 305.8,311.4 306.0,309.5 306.2,307.8 306.5,307.9 306.8,315.6 307.0,309.7 307.2,310.9 307.5,309.6 307.8,311.4 308.0,310.7 308.2,310.5 308.5,308.9 308.8,308.6 309.0,310.1 309.2,312.3 309.5,316.2 309.8,314.1 310.0,315.8 310.2,313.1 310.5,312.0 310.8,309.5 311.0,312.3 311.2,307.9 311.5,311.9 311.8,316.0 312.0,313.3 312.2,315.1 312.5,312.0 312.8,310.0 313.0,312.0 313.2,312.2 313.5,315.6 313.8,317.3 314.0,311.8 314.2,312.6 314.5,313.1 314.8,312.8 315.0,311.0 315.2,313.8 315.5,314.5 315.8,314.6 316.0,311.4 316.2,313.7 316.5,310.4 316.8,315.9 317.0,312.0 317.2,313.6 317.5,313.3 317.8,313.1 318.0,312.2 318.2,310.9 318.5,318.1 318.8,315.1 319.0,315.2 319.2,319.0 319.5,314.6 319.8,316.0 320.0,314.9 320.2,317.4 320.5,316.0 320.8,315.7 321.0,314.6 321.2,315.8 321.5,317.6 321.8,311.1 322.0,315.1 322.2,314.6 322.5,314.9 322.8,311.6 323.0,317.1 323.2,314.0 323.5,315.3 323.8,314.8 324.0,312.5 324.2,315.0 324.5,312.3 324.8,314.1 325.0,315.4 325.2,316.1 325.5,316.3 325.8,316.0 326.0,320.6 326.2,317.2 326.5,314.0 326.8,315.2 327.0,315.2 327.2,316.2 327.5,315.4 327.8,314.9 328.0,320.0 328.2,316.8 328.5,316.1 328.8,316.3 329.0,316.4 329.2,319.7 329.5,317.9 329.8,319.2 330.0,310.9 330.2,317.7 330.5,319.2 330.8,321.1 331.0,317.3 331.2,313.9 331.5,318.5 331.8,316.2 332.0,313.9 332.2,316.2 332.5,319.6 332.8,319.9 333.0,319.0 333.2,315.5 333.5,322.6 333.8,315.4 334.0,317.6 334.2,314.9 334.5,320.4 334.8,318.7 335.0,319.6 335.2,318.1 335.5,317.9 335.8,318.4 336.0,314.4 336.2,320.1 336.5,320.0 336.8,317.4 337.0,318.2 337.2,318.9 337.5,321.4 337.8,319.2 338.0,318.5 338.2,317.5 338.5,315.6 338.8,317.4 339.0,318.8 339.2,318.2 339.5,318.9 339.8,320.2 340.0,319.7 340.2,319.4 340.5,320.2 340.8,319.4 341.0,319.0 341.2,320.0 341.5,315.8 341.8,321.6 342.0,316.8 342.2,320.9 342.5,319.4 342.8,321.6 343.0,319.6 343.2,317.7 343.5,321.7 343.8,320.0 344.0,320.0 344.2,319.9 344.5,321.8 344.8,321.5 345.0,320.4 345.2,317.1 345.5,319.3 345.8,320.4 346.0,323.6 346.2,321.0 346.5,320.2 346.8,322.7 347.0,320.2 347.2,320.4 347.5,320.9 347.8,317.8 348.0,322.5 348.2,321.5 348.5,320.2 348.8,318.7 349.0,321.3 349.2,323.6 349.5,319.8 349.8,319.0 350.0,321.9 350.2,318.1 350.5,317.0 350.8,320.4 351.0,320.0 351.2,320.9 351.5,320.4 351.8,322.1 352.0,321.1 352.2,320.5 352.5,320.8 352.8,322.9 353.0,323.6 353.2,323.5 353.5,323.2 353.8,315.8 354.0,320.2 354.2,321.5 354.5,322.5 354.8,319.2 355.0,324.9 355.2,322.9 355.5,321.2 355.8,322.8 356.0,321.9 356.2,321.2 356.5,323.6 356.8,321.9 357.0,320.1 357.2,321.6 357.5,322.7 357.8,320.9 358.0,325.3 358.2,321.0 358.5,326.3 358.8,324.8 359.0,321.5 359.2,323.5 359.5,325.5 359.8,323.0 360.0,321.2 360.2,323.6 360.5,327.1 360.8,320.8 361.0,324.6 361.2,323.6 361.5,323.4 361.8,322.9 362.0,323.1 362.2,325.6 362.5,324.8 362.8,321.9 363.0,326.6 363.2,321.4 363.5,325.0 363.8,324.2 364.0,326.0 364.2,324.5 364.5,325.8 364.8,323.8 365.0,325.6 365.2,324.5 365.5,327.8 365.8,322.6 366.0,326.0 366.2,324.7 366.5,324.2 366.8,322.9 367.0,324.7 367.2,321.2 367.5,321.4 367.8,325.2 368.0,321.1 368.2,326.5 368.5,323.4 368.8,324.3 369.0,324.0 369.2,324.6 369.5,323.4 369.8,323.2 370.0,323.7 370.2,325.8 370.5,325.9 370.8,326.2 371.0,324.5 371.2,323.5 371.5,320.8 371.8,325.1 372.0,325.4 372.2,323.2 372.5,325.4 372.8,326.2 373.0,324.1 373.2,325.8 373.5,324.4 373.8,320.7 374.0,323.0 374.2,323.1 374.5,324.8 374.8,322.3 375.0,323.1 375.2,322.1 375.5,323.8 375.8,324.0 376.0,325.6 376.2,325.3 376.5,324.1 376.8,324.2 377.0,323.9 377.2,323.9 377.5,326.5 377.8,319.1 378.0,323.3 378.2,324.1 378.5,325.5 378.8,321.4 379.0,324.0 379.2,324.9 379.5,322.4 379.8,319.7 380.0,322.5 380.2,320.8 380.5,324.2 380.8,321.3 381.0,326.1 381.2,323.0 381.5,321.2 381.8,321.6 382.0,320.5 382.2,323.1 382.5,325.1 382.8,321.8 383.0,323.8 383.2,320.3 383.5,322.5 383.8,326.1 384.0,319.2 384.2,324.0 384.5,323.8 384.8,318.0 385.0,318.7 385.2,319.5 385.5,323.0 385.8,320.3 386.0,320.7 386.2,322.2 386.5,321.1 386.8,321.2 387.0,320.1 387.2,322.7 387.5,319.0 387.8,323.5 388.0,319.7 388.2,318.7 388.5,321.3 388.8,320.9 389.0,316.2 389.2,320.3 389.5,317.3 389.8,318.2 390.0,321.2 390.2,318.0 390.5,320.2 390.8,318.8 391.0,323.1 391.2,319.2 391.5,317.1 391.8,317.1 392.0,317.5 392.2,319.4 392.5,319.1 392.8,320.9 393.0,319.3 393.2,319.2 393.5,319.6 393.8,318.7 394.0,319.5 394.2,320.4 394.5,320.4 394.8,317.8 395.0,315.5 395.2,317.3 395.5,319.4 395.8,314.2 396.0,318.0 396.2,319.8 396.5,317.9 396.8,316.9 397.0,322.3 397.2,321.7 397.5,318.6 397.8,321.6 398.0,321.6 398.2,317.1 398.5,324.4 398.8,317.6 399.0,318.9 399.2,317.4 399.5,319.7 399.8,317.1 400.0,319.7 400.2,321.8 400.5,320.2 400.8,319.4 401.0,322.9 401.2,318.4 401.5,322.0 401.8,319.7 402.0,320.8 402.2,320.5 402.5,320.8 402.8,320.5 403.0,319.3 403.2,319.8 403.5,321.8 403.8,320.8 404.0,319.0 404.2,319.9 404.5,320.1 404.8,321.4 405.0,321.9 405.2,321.8 405.5,320.6 405.8,321.9 406.0,319.5 406.2,316.8 406.5,322.1 406.8,319.3 407.0,320.7 407.2,320.3 407.5,323.8 407.8,320.5 408.0,323.3 408.2,322.0 408.5,320.8 408.8,320.3 409.0,324.1 409.2,324.0 409.5,324.8 409.8,326.8 410.0,324.1 410.2,324.2 410.5,323.6 410.8,324.1 411.0,323.4 411.2,322.5 411.5,327.7 411.8,320.9 412.0,324.8 412.2,325.2 412.5,324.7 412.8,322.8 413.0,324.3 413.2,323.8 413.5,322.8 413.8,324.7 414.0,324.1 414.2,323.9 414.5,326.1 414.8,323.1 415.0,325.8 415.2,324.0 415.5,325.8 415.8,325.2 416.0,325.6 416.2,323.5 416.5,323.9 416.8,323.8 417.0,325.6 417.2,326.6 417.5,327.3 417.8,324.5 418.0,325.6 418.2,322.7 418.5,321.7 418.8,324.0 419.0,324.4 419.2,322.9 419.5,322.6 419.8,326.6 420.0,324.3 420.2,322.8 420.5,329.8 420.8,326.1 421.0,325.3 421.2,327.1 421.5,324.6 421.8,328.7 422.0,323.3 422.2,323.7 422.5,325.8 422.8,324.7 423.0,328.5 423.2,323.4 423.5,324.9 423.8,326.6 424.0,327.2 424.2,328.0 424.5,326.9 424.8,330.1 425.0,325.5 425.2,326.7 425.5,327.8 425.8,325.9 426.0,325.9 426.2,325.7 426.5,325.4 426.8,324.6 427.0,325.6 427.2,323.9 427.5,327.2 427.8,323.9 428.0,330.2 428.2,329.6 428.5,328.6 428.8,326.4 429.0,325.7 429.2,328.9 429.5,327.1 429.8,327.8 430.0,325.6 430.2,328.7 430.5,325.5 430.8,327.1 431.0,324.0 431.2,325.8 431.5,327.8 431.8,326.2 432.0,326.3 432.2,328.4 432.5,327.0 432.8,329.2 433.0,323.0 433.2,328.1 433.5,328.0 433.8,324.6 434.0,325.0 434.2,328.7 434.5,325.5 434.8,326.2 435.0,328.3 435.2,326.8 435.5,328.1 435.8,325.9 436.0,327.9 436.2,329.2 436.5,328.0 436.8,323.8 437.0,328.6 437.2,327.6 437.5,326.0 437.8,329.9 438.0,324.6 438.2,330.7 438.5,326.5 438.8,330.3 439.0,327.6 439.2,325.4 439.5,327.8 439.8,328.3 440.0,328.6 440.2,329.5 440.5,326.3 440.8,328.6 441.0,329.0 441.2,327.4 441.5,326.3 441.8,326.3 442.0,329.1 442.2,329.2 442.5,326.5 442.8,325.7 443.0,330.0 443.2,325.4 443.5,328.3 443.8,326.7 444.0,325.1 444.2,328.2 444.5,327.7 444.8,330.5 445.0,331.9 445.2,327.8 445.5,329.8 445.8,329.9 446.0,327.3 446.2,326.8 446.5,330.9 446.8,327.6 447.0,328.2 447.2,327.8 447.5,328.1 447.8,327.3 448.0,329.6 448.2,330.4 448.5,327.7 448.8,326.1 449.0,328.5 449.2,326.0 449.5,327.4 449.8,330.5 450.0,332.3 450.2,329.1 450.5,326.7 450.8,329.8 451.0,324.8 451.2,327.4 451.5,331.1 451.8,329.8 452.0,326.3 452.2,325.9 452.5,330.1 452.8,328.6 453.0,327.7 453.2,329.4 453.5,327.8 453.8,325.6 454.0,330.1 454.2,327.7 454.5,327.2 454.8,326.6 455.0,329.3 455.2,327.5 455.5,329.9 455.8,328.5 456.0,330.7 456.2,328.3 456.5,327.9 456.8,325.8 457.0,327.2 457.2,330.2 457.5,334.0 457.8,327.0 458.0,327.4 458.2,329.6 458.5,329.9 458.8,328.0 459.0,329.3 459.2,326.6 459.5,328.7 459.8,330.7 460.0,331.9 460.2,329.0 460.5,328.8 460.8,330.0 461.0,331.1 461.2,330.1 461.5,328.1 461.8,329.9 462.0,331.0 462.2,328.2 462.5,327.3 462.8,330.3 463.0,330.1 463.2,331.0 463.5,329.6 463.8,328.5 464.0,328.8 464.2,327.9 464.5,328.0 464.8,328.7 465.0,328.8 465.2,331.4 465.5,327.7 465.8,329.6 466.0,328.7 466.2,332.1 466.5,330.1 466.8,329.1 467.0,331.1 467.2,329.9 467.5,329.0 467.8,332.3 468.0,331.0 468.2,332.6 468.5,331.7 468.8,331.1 469.0,330.1 469.2,328.2 469.5,331.1 469.8,330.1 470.0,331.1 470.2,330.0 470.5,328.9 470.8,328.4 471.0,331.2 471.2,332.1 471.5,329.6 471.8,330.8 472.0,332.3 472.2,328.8 472.5,329.6 472.8,328.4 473.0,332.1 473.2,330.6 473.5,329.5 473.8,327.6 474.0,330.0 474.2,331.9 474.5,329.8 474.8,329.6 475.0,331.3 475.2,328.4 475.5,330.4 475.8,331.3 476.0,329.1 476.2,329.1 476.5,330.8 476.8,330.3 477.0,330.1 477.2,330.8 477.5,330.8 477.8,329.0 478.0,329.4 478.2,331.2 478.5,332.3 478.8,332.7 479.0,329.2 479.2,332.3 479.5,331.8 479.8,330.5 480.0,331.4 480.2,331.9 480.5,333.4 480.8,329.0 481.0,331.6 481.2,330.4 481.5,330.3 481.8,332.5 482.0,332.0 482.2,329.1 482.5,330.3 482.8,331.1 483.0,328.5 483.2,332.1 483.5,330.6 483.8,331.0 484.0,331.3 484.2,333.6 484.5,330.9 484.8,330.2 485.0,333.6 485.2,330.0 485.5,330.0 485.8,328.7 486.0,332.5 486.2,331.3 486.5,331.6 486.8,331.1 487.0,330.7 487.2,329.7 487.5,329.7 487.8,331.6 488.0,331.1 488.2,333.5 488.5,329.7 488.8,330.2 489.0,329.3 489.2,333.1 489.5,329.0 489.8,332.2 490.0,333.2 490.2,330.7 490.5,332.1 490.8,327.6 491.0,330.4 491.2,328.4 491.5,331.3 491.8,331.0 492.0,329.8 492.2,332.5 492.5,331.6 492.8,330.2 493.0,330.2 493.2,328.7 493.5,330.7 493.8,334.3 494.0,329.9 494.2,331.7 494.5,330.2 494.8,332.3 495.0,331.7 495.2,330.7 495.5,328.3 495.8,330.2 496.0,332.9 496.2,330.7 496.5,332.0 496.8,330.3 497.0,328.1 497.2,331.7 497.5,331.6 497.8,330.2 498.0,330.5 498.2,331.5 498.5,330.1 498.8,331.6 499.0,330.8 499.2,327.4 499.5,330.9 499.8,330.1 500.0,329.8 500.2,331.7 500.5,330.3 500.8,331.9 501.0,332.8 501.2,331.3 501.5,328.7 501.8,330.0 502.0,332.5 502.2,330.7 502.5,329.8 502.8,331.0 503.0,331.9 503.2,331.5 503.5,332.1 503.8,329.8 504.0,330.7 504.2,330.7 504.5,331.1 504.8,327.9 505.0,330.8 505.2,329.0 505.5,333.3 505.8,333.6 506.0,333.7 506.2,332.4 506.5,330.4 506.8,332.6 507.0,330.8 507.2,332.1 507.5,329.8 507.8,330.3 508.0,331.9 508.2,333.9 508.5,331.1 508.8,334.7 509.0,335.5 509.2,329.2 509.5,331.2 509.8,329.7 510.0,331.0 510.2,330.4 510.5,331.1 510.8,332.7 511.0,332.7 511.2,331.6 511.5,331.2 511.8,331.4 512.0,331.4 512.2,332.1 512.5,331.3 512.8,332.0 513.0,329.3 513.2,332.5 513.5,334.0 513.8,331.6 514.0,329.1 514.2,333.4 514.5,330.8 514.8,326.7 515.0,331.0 515.2,332.3 515.5,332.0 515.8,333.3 516.0,332.4 516.2,331.6 516.5,328.4 516.8,329.7 517.0,331.8 517.2,332.5 517.5,329.9 517.8,330.6 518.0,332.3 518.2,328.6 518.5,328.6 518.8,331.2 519.0,332.0 519.2,330.9 519.5,328.1 519.8,331.7 520.0,329.6 520.2,332.7 520.5,331.6 520.8,332.1 521.0,332.7 521.2,331.0 521.5,333.1 521.8,333.7 522.0,332.4 522.2,333.9 522.5,330.9 522.8,333.3 523.0,332.3 523.2,330.4 523.5,331.8 523.8,331.2 524.0,331.2 524.2,332.2 524.5,333.7 524.8,331.6 525.0,332.3 525.2,329.9 525.5,332.3 525.8,333.9 526.0,333.4 526.2,332.9 526.5,331.5 526.8,330.8 527.0,332.2 527.2,330.3 527.5,330.5 527.8,333.8 528.0,331.0 528.2,335.1 528.5,330.3 528.8,333.1 529.0,330.7 529.2,332.8 529.5,331.0 529.8,332.6 530.0,332.4 530.2,331.9 530.5,333.4 530.8,335.0 531.0,331.8 531.2,334.1 531.5,332.9 531.8,332.7 532.0,336.1 532.2,329.6 532.5,331.8 532.8,330.2 533.0,332.4 533.2,332.6 533.5,338.7 533.8,333.5 534.0,335.7 534.2,335.0 534.5,332.4 534.8,333.8 535.0,335.6 535.2,333.4 535.5,333.5 535.8,334.0 536.0,331.0 536.2,332.0 536.5,333.8 536.8,334.1 537.0,332.0 537.2,332.9 537.5,333.2 537.8,333.2 538.0,334.5 538.2,333.7 538.5,333.8 538.8,331.5 539.0,332.0 539.2,334.1 539.5,331.3 539.8,334.1 540.0,332.8 540.2,332.6 540.5,334.8 540.8,332.8 541.0,332.6 541.2,332.9 541.5,334.0 541.8,338.0 542.0,330.9 542.2,334.0 542.5,333.8 542.8,335.5 543.0,333.6 543.2,330.6 543.5,336.2 543.8,332.7 544.0,334.3 544.2,332.4 544.5,332.8 544.8,333.7 545.0,335.8 545.2,335.8 545.5,333.7 545.8,335.4 546.0,334.1 546.2,334.9 546.5,335.0 546.8,335.7 547.0,334.0 547.2,334.7 547.5,335.3 547.8,335.1 548.0,333.9 548.2,337.6 548.5,334.4 548.8,336.3 549.0,335.5 549.2,337.0 549.5,332.1 549.8,338.3 550.0,335.1 550.2,333.6 550.5,335.6 550.8,338.7 551.0,336.3 551.2,333.8 551.5,335.0 551.8,337.6 552.0,333.7 552.2,335.5 552.5,335.4 552.8,338.9 553.0,335.5 553.2,337.8 553.5,335.0 553.8,334.9 554.0,337.5 554.2,337.0 554.5,333.7 554.8,337.1 555.0,337.1 555.2,335.4 555.5,336.6 555.8,336.7 556.0,335.7 556.2,335.6 556.5,335.5 556.8,336.1 557.0,334.6 557.2,336.5 557.5,334.4 557.8,336.7 558.0,336.5 558.2,335.2 558.5,337.9 558.8,339.4 559.0,338.6 559.2,334.9 559.5,338.6 559.8,337.1 560.0,336.8 560.2,336.0 560.5,336.9 560.8,338.9 561.0,337.7 561.2,336.4 561.5,336.1 561.8,336.4 562.0,337.9 562.2,339.7 562.5,335.6 562.8,337.1 563.0,336.6 563.2,336.1 563.5,337.7 563.8,338.0 564.0,335.3 564.2,335.8 564.5,338.9 564.8,337.7 565.0,338.0 565.2,336.6 565.5,336.8 565.8,338.0 566.0,336.7 566.2,335.9 566.5,337.4 566.8,338.7 567.0,336.1 567.2,339.0 567.5,338.5 567.8,336.3 568.0,337.6 568.2,337.5 568.5,338.5 568.8,338.5 569.0,335.8 569.2,335.8 569.5,339.1 569.8,337.8 570.0,338.3 570.2,338.2 570.5,339.8 570.8,336.1 571.0,339.3 571.2,336.7 571.5,338.8 571.8,339.7 572.0,336.0 572.2,338.4 572.5,337.5 572.8,337.5 573.0,338.0 573.2,336.5 573.5,336.6 573.8,338.9 574.0,339.1 574.2,337.2 574.5,336.0 574.8,341.2 575.0,339.5 575.2,338.6 575.5,336.7 575.8,337.3 576.0,338.4 576.2,336.8 576.5,340.3 576.8,338.3 577.0,338.7 577.2,336.8 577.5,337.0 577.8,337.2 578.0,338.6 578.2,337.9 578.5,337.9 578.8,338.7 579.0,338.6 579.2,340.3 579.5,338.1 579.8,337.0 580.0,338.3 580.2,340.3 580.5,337.6 580.8,338.5 581.0,337.9 581.2,339.0 581.5,338.8 581.8,337.4 582.0,338.2 582.2,339.7 582.5,340.0 582.8,339.8 583.0,339.7 583.2,338.1 583.5,338.1 583.8,339.8 584.0,337.0 584.2,338.5 584.5,336.1 584.8,338.1 585.0,337.7 585.2,337.1 585.5,339.4 585.8,337.7 586.0,338.2 586.2,338.4 586.5,337.8 586.8,340.6 587.0,338.1 587.2,339.0 587.5,337.1 587.8,338.2 588.0,338.4 588.2,338.4 588.5,338.1 588.8,339.0 589.0,340.9 589.2,338.7 589.5,338.7 589.8,338.4 590.0,342.3 590.2,341.1 590.5,339.7 590.8,339.9 591.0,338.0 591.2,338.8 591.5,339.3 591.8,339.2 592.0,337.9 592.2,338.0 592.5,339.7 592.8,339.5 593.0,336.3 593.2,339.2 593.5,340.8 593.8,338.3 594.0,339.4 594.2,337.2 594.5,340.2 594.8,337.7 595.0,337.5 595.2,338.8 595.5,342.3 595.8,338.4 596.0,337.6 596.2,339.8 596.5,339.5 596.8,341.4 597.0,337.6 597.2,337.2 597.5,338.9 597.8,339.8 598.0,339.8 598.2,340.7 598.5,337.4 598.8,338.3 599.0,339.2 599.2,340.5 599.5,340.0 599.8,338.9 600.0,338.1 600.2,340.6 600.5,340.7 600.8,343.0 601.0,339.2 601.2,341.6 601.5,337.9 601.8,338.8 602.0,338.6 602.2,338.9 602.5,338.4 602.8,338.8 603.0,339.5 603.2,339.0 603.5,340.4 603.8,339.5 604.0,339.6 604.2,341.5 604.5,340.0 604.8,339.8 605.0,339.6 605.2,339.7 605.5,340.4 605.8,338.6 606.0,341.2 606.2,341.7 606.5,341.2 606.8,339.1 607.0,337.7 607.2,339.2 607.5,339.9 607.8,340.8 608.0,339.5 608.2,339.4 608.5,341.7 608.8,338.9 609.0,341.2 609.2,341.0 609.5,338.1 609.8,340.2 610.0,339.1 610.2,338.6 610.5,337.5 610.8,337.9 611.0,340.4 611.2,339.4 611.5,340.3 611.8,338.6 612.0,339.5 612.2,339.6 612.5,338.0 612.8,337.8 613.0,340.5 613.2,340.2 613.5,338.8 613.8,339.9 614.0,340.9 614.2,342.4 614.5,338.9 614.8,340.8 615.0,342.8 615.2,340.2 615.5,342.0 615.8,336.8 616.0,342.0 616.2,340.1 616.5,337.7 616.8,341.1 617.0,341.5 617.2,341.7 617.5,341.7 617.8,340.2 618.0,339.3 618.2,339.6 618.5,340.2 618.8,340.8 619.0,339.6 619.2,340.3 619.5,341.4 619.8,340.7 620.0,343.2 620.2,343.0 620.5,338.9 620.8,339.6 621.0,338.7 621.2,338.9 621.5,341.1 621.8,339.1 622.0,339.1 622.2,340.1 622.5,341.4 622.8,340.0 623.0,340.0 623.2,341.6 623.5,341.1 623.8,341.1 624.0,341.7 624.2,339.2 624.5,340.8 624.8,339.7 625.0,341.8 625.2,341.6 625.5,339.2 625.8,342.3 626.0,339.1 626.2,342.1 626.5,340.9 626.8,339.5 627.0,339.2 627.2,340.3 627.5,340.6 627.8,339.8 628.0,341.4 628.2,338.9 628.5,340.7 628.8,340.7 629.0,338.4 629.2,341.1 629.5,339.2 629.8,337.6 630.0,340.0 630.2,340.5 630.5,341.9 630.8,340.2 631.0,342.7 631.2,342.7 631.5,342.2 631.8,342.5 632.0,341.3 632.2,340.2 632.5,341.7 632.8,342.1 633.0,341.2 633.2,340.6 633.5,339.0 633.8,341.8 634.0,341.4 634.2,339.4 634.5,341.1 634.8,341.9 635.0,340.9 635.2,342.0 635.5,342.0 635.8,339.2 636.0,340.7 636.2,341.7 636.5,342.3 636.8,342.9 637.0,338.7 637.2,341.1 637.5,342.1 637.8,342.7 638.0,343.3 638.2,340.0 638.5,340.8 638.8,339.9 639.0,342.3 639.2,339.6 639.5,342.7 639.8,342.4 640.0,341.9 640.2,338.6 640.5,340.5 640.8,342.3 641.0,339.6 641.2,341.1 641.5,341.2 641.8,342.5 642.0,341.7 642.2,341.8 642.5,340.9 642.8,341.4 643.0,341.3 643.2,342.4 643.5,341.3 643.8,342.8 644.0,339.4 644.2,343.0 644.5,341.3 644.8,342.9 645.0,341.7 645.2,342.6 645.5,343.4 645.8,340.9 646.0,341.7 646.2,341.4 646.5,341.9 646.8,339.6 647.0,341.4 647.2,341.4 647.5,340.7 647.8,341.5 648.0,339.8 648.2,343.4 648.5,342.3 648.8,344.1 649.0,340.7 649.2,340.3 649.5,342.1 649.8,339.8 650.0,342.1 650.2,341.0 650.5,341.4 650.8,342.2 651.0,341.9 651.2,344.2 651.5,342.7 651.8,340.3 652.0,343.1 652.2,340.3 652.5,342.1 652.8,340.4 653.0,341.0 653.2,343.6 653.5,341.3 653.8,341.2 654.0,341.3 654.2,341.7 654.5,343.8 654.8,340.6 655.0,340.6 655.2,342.8 655.5,340.2 655.8,341.7 656.0,343.5 656.2,342.1 656.5,341.6 656.8,341.3 657.0,341.1 657.2,341.5 657.5,342.4 657.8,343.7 658.0,343.4 658.2,341.6 658.5,341.4 658.8,343.1 659.0,340.1 659.2,341.8 659.5,341.9 659.8,341.0 660.0,341.1 660.2,342.8 660.5,340.4 660.8,341.3 661.0,341.6 661.2,342.5 661.5,340.8 661.8,343.7 662.0,342.1 662.2,342.1 662.5,342.0 662.8,341.7 663.0,341.3 663.2,343.9 663.5,342.8 663.8,342.4 664.0,343.7 664.2,341.7 664.5,343.3 664.8,342.6 665.0,341.5 665.2,343.5 665.5,340.8 665.8,343.4 666.0,341.6 666.2,343.1 666.5,344.3 666.8,343.4 667.0,342.0 667.2,342.7 667.5,342.3 667.8,341.3 668.0,341.4 668.2,342.8 668.5,343.4 668.8,340.7 669.0,342.7 669.2,343.4 669.5,343.0 669.8,341.6 670.0,344.1 670.2,341.4 670.5,343.6 670.8,344.8 671.0,340.5"/>
<polyline fill="none" stroke="#37ad6b" stroke-width="2.5" stroke-linejoin="round" points="67.5,371.2 67.8,371.3 68.0,371.2 68.2,369.9 68.5,370.5 68.8,369.1 69.0,371.1 69.2,371.6 69.5,370.0 69.8,369.7 70.0,370.3 70.2,370.9 70.5,371.0 70.8,370.7 71.0,371.0 71.2,369.2 71.5,367.4 71.8,371.7 72.0,372.7 72.2,369.0 72.5,370.0 72.8,371.2 73.0,372.1 73.2,371.7 73.5,372.5 73.8,370.8 74.0,371.4 74.2,371.4 74.5,370.3 74.8,372.4 75.0,371.6 75.2,372.1 75.5,370.3 75.8,372.1 76.0,369.5 76.2,371.3 76.5,367.5 76.8,369.5 77.0,371.7 77.2,370.2 77.5,371.0 77.8,368.7 78.0,372.8 78.2,371.5 78.5,370.7 78.8,371.3 79.0,371.2 79.2,372.6 79.5,371.0 79.8,368.9 80.0,370.4 80.2,372.4 80.5,371.5 80.8,370.2 81.0,371.5 81.2,370.9 81.5,371.5 81.8,368.7 82.0,369.5 82.2,371.5 82.5,370.4 82.8,371.1 83.0,373.2 83.2,370.3 83.5,371.0 83.8,369.9 84.0,369.8 84.2,370.5 84.5,368.8 84.8,367.9 85.0,372.4 85.2,370.5 85.5,372.0 85.8,370.8 86.0,370.8 86.2,371.4 86.5,371.5 86.8,369.0 87.0,372.1 87.2,369.3 87.5,370.8 87.8,373.8 88.0,370.6 88.2,372.7 88.5,370.1 88.8,371.3 89.0,370.6 89.2,371.0 89.5,369.4 89.8,369.3 90.0,370.9 90.2,368.5 90.5,369.4 90.8,371.3 91.0,369.6 91.2,369.3 91.5,369.0 91.8,370.6 92.0,369.9 92.2,370.6 92.5,370.1 92.8,372.7 93.0,369.8 93.2,367.8 93.5,370.5 93.8,370.3 94.0,370.5 94.2,368.2 94.5,371.7 94.8,370.1 95.0,370.1 95.2,368.1 95.5,370.7 95.8,369.9 96.0,371.7 96.2,369.4 96.5,368.3 96.8,370.0 97.0,368.6 97.2,370.3 97.5,368.3 97.8,369.5 98.0,369.3 98.2,369.5 98.5,368.8 98.8,368.3 99.0,369.2 99.2,368.5 99.5,369.4 99.8,368.8 100.0,366.1 100.2,368.9 100.5,370.7 100.8,369.2 101.0,369.5 101.2,369.3 101.5,368.0 101.8,366.8 102.0,369.5 102.2,369.7 102.5,369.0 102.8,368.8 103.0,368.6 103.2,368.0 103.5,368.3 103.8,367.9 104.0,368.2 104.2,366.5 104.5,366.8 104.8,368.3 105.0,367.0 105.2,364.2 105.5,367.5 105.8,364.2 106.0,369.7 106.2,368.0 106.5,367.9 106.8,366.0 107.0,365.3 107.2,366.4 107.5,366.7 107.8,365.5 108.0,366.7 108.2,367.3 108.5,367.1 108.8,364.9 109.0,363.3 109.2,366.1 109.5,365.1 109.8,366.5 110.0,368.1 110.2,368.0 110.5,366.1 110.8,367.1 111.0,367.8 111.2,365.6 111.5,365.8 111.8,366.5 112.0,365.2 112.2,364.5 112.5,364.1 112.8,365.1 113.0,364.2 113.2,366.0 113.5,364.4 113.8,366.8 114.0,366.4 114.2,363.0 114.5,366.0 114.8,364.0 115.0,366.3 115.2,365.1 115.5,364.2 115.8,365.1 116.0,363.4 116.2,364.5 116.5,364.5 116.8,363.7 117.0,364.4 117.2,362.4 117.5,364.5 117.8,362.0 118.0,364.4 118.2,364.1 118.5,364.4 118.8,362.6 119.0,367.4 119.2,362.9 119.5,363.3 119.8,362.0 120.0,364.9 120.2,362.2 120.5,364.2 120.8,361.4 121.0,363.1 121.2,362.1 121.5,363.8 121.8,362.0 122.0,361.1 122.2,362.9 122.5,360.5 122.8,360.8 123.0,363.1 123.2,359.3 123.5,362.9 123.8,361.2 124.0,360.4 124.2,361.9 124.5,362.4 124.8,360.6 125.0,361.1 125.2,362.4 125.5,362.2 125.8,361.0 126.0,359.9 126.2,359.6 126.5,360.0 126.8,361.7 127.0,361.5 127.2,361.0 127.5,362.4 127.8,360.0 128.0,359.8 128.2,359.7 128.5,362.8 128.8,357.1 129.0,360.3 129.2,360.5 129.5,359.8 129.8,363.0 130.0,361.2 130.2,360.6 130.5,358.1 130.8,360.0 131.0,358.6 131.2,359.1 131.5,359.2 131.8,358.2 132.0,359.7 132.2,361.0 132.5,360.0 132.8,358.8 133.0,355.6 133.2,359.8 133.5,359.7 133.8,357.7 134.0,357.2 134.2,358.8 134.5,356.5 134.8,358.7 135.0,355.9 135.2,356.0 135.5,357.3 135.8,355.0 136.0,357.0 136.2,357.7 136.5,354.9 136.8,358.0 137.0,355.7 137.2,357.2 137.5,356.6 137.8,355.5 138.0,355.3 138.2,353.4 138.5,354.8 138.8,354.6 139.0,358.0 139.2,357.0 139.5,353.3 139.8,356.4 140.0,355.4 140.2,354.4 140.5,355.5 140.8,355.9 141.0,353.7 141.2,354.0 141.5,354.6 141.8,352.7 142.0,354.3 142.2,353.8 142.5,352.7 142.8,352.4 143.0,353.9 143.2,354.7 143.5,353.7 143.8,351.8 144.0,354.1 144.2,353.0 144.5,353.5 144.8,354.2 145.0,350.9 145.2,352.0 145.5,351.1 145.8,350.5 146.0,354.8 146.2,353.0 146.5,348.7 146.8,351.9 147.0,350.2 147.2,352.7 147.5,350.9 147.8,350.3 148.0,350.6 148.2,350.8 148.5,350.1 148.8,349.5 149.0,349.5 149.2,350.3 149.5,347.6 149.8,349.2 150.0,348.8 150.2,348.0 150.5,349.8 150.8,346.4 151.0,347.6 151.2,346.7 151.5,348.7 151.8,346.9 152.0,347.5 152.2,347.9 152.5,344.5 152.8,347.6 153.0,345.4 153.2,346.0 153.5,346.0 153.8,347.3 154.0,347.0 154.2,348.4 154.5,345.6 154.8,344.3 155.0,344.1 155.2,345.7 155.5,347.0 155.8,344.8 156.0,343.0 156.2,344.2 156.5,343.9 156.8,343.3 157.0,341.8 157.2,338.5 157.5,341.6 157.8,344.0 158.0,342.3 158.2,338.0 158.5,341.4 158.8,337.9 159.0,344.1 159.2,340.7 159.5,338.0 159.8,341.0 160.0,337.9 160.2,339.8 160.5,338.5 160.8,336.0 161.0,338.8 161.2,334.9 161.5,339.1 161.8,336.5 162.0,334.1 162.2,332.3 162.5,337.9 162.8,337.1 163.0,331.9 163.2,336.6 163.5,333.5 163.8,332.3 164.0,332.1 164.2,331.3 164.5,333.9 164.8,331.1 165.0,327.0 165.2,333.8 165.5,331.1 165.8,327.0 166.0,327.9 166.2,326.5 166.5,327.8 166.8,328.0 167.0,327.3 167.2,325.3 167.5,324.5 167.8,327.2 168.0,325.0 168.2,329.0 168.5,322.7 168.8,325.3 169.0,323.4 169.2,321.4 169.5,325.0 169.8,322.2 170.0,319.7 170.2,320.4 170.5,322.5 170.8,317.6 171.0,322.2 171.2,320.4 171.5,318.1 171.8,320.9 172.0,321.2 172.2,318.5 172.5,317.3 172.8,320.2 173.0,319.2 173.2,314.0 173.5,315.1 173.8,314.7 174.0,314.1 174.2,311.6 174.5,316.2 174.8,314.3 175.0,314.2 175.2,316.7 175.5,312.5 175.8,313.4 176.0,313.9 176.2,312.3 176.5,312.8 176.8,314.4 177.0,312.7 177.2,315.3 177.5,310.9 177.8,312.7 178.0,309.3 178.2,311.8 178.5,310.5 178.8,314.6 179.0,313.2 179.2,312.6 179.5,315.2 179.8,314.3 180.0,312.7 180.2,309.7 180.5,308.0 180.8,310.8 181.0,310.0 181.2,309.4 181.5,310.0 181.8,307.1 182.0,313.5 182.2,308.0 182.5,308.9 182.8,311.4 183.0,306.8 183.2,312.1 183.5,312.1 183.8,309.4 184.0,307.8 184.2,309.0 184.5,306.2 184.8,312.9 185.0,310.1 185.2,308.5 185.5,308.1 185.8,311.2 186.0,313.2 186.2,307.4 186.5,308.9 186.8,306.5 187.0,311.6 187.2,310.6 187.5,315.0 187.8,310.1 188.0,309.5 188.2,309.0 188.5,312.3 188.8,307.3 189.0,312.3 189.2,311.3 189.5,309.9 189.8,309.2 190.0,313.3 190.2,315.1 190.5,310.4 190.8,312.5 191.0,315.2 191.2,310.4 191.5,311.3 191.8,309.4 192.0,311.8 192.2,312.0 192.5,311.5 192.8,310.9 193.0,309.3 193.2,310.0 193.5,310.9 193.8,314.3 194.0,312.1 194.2,311.5 194.5,314.8 194.8,314.7 195.0,312.2 195.2,312.6 195.5,315.3 195.8,314.9 196.0,312.6 196.2,314.9 196.5,314.5 196.8,317.0 197.0,313.1 197.2,316.8 197.5,316.0 197.8,313.3 198.0,317.6 198.2,317.4 198.5,313.1 198.8,319.8 199.0,313.7 199.2,314.3 199.5,315.6 199.8,317.9 200.0,317.7 200.2,316.4 200.5,319.5 200.8,317.7 201.0,319.8 201.2,322.8 201.5,317.7 201.8,312.3 202.0,316.7 202.2,315.7 202.5,318.2 202.8,318.3 203.0,315.9 203.2,316.2 203.5,318.2 203.8,318.5 204.0,313.9 204.2,321.2 204.5,319.5 204.8,319.6 205.0,320.4 205.2,318.0 205.5,320.1 205.8,322.4 206.0,322.7 206.2,321.7 206.5,320.4 206.8,319.6 207.0,324.0 207.2,322.6 207.5,320.9 207.8,317.7 208.0,320.5 208.2,318.6 208.5,325.0 208.8,323.1 209.0,321.5 209.2,322.6 209.5,328.4 209.8,325.9 210.0,321.1 210.2,323.6 210.5,321.7 210.8,320.9 211.0,324.8 211.2,329.3 211.5,327.8 211.8,325.0 212.0,324.4 212.2,325.7 212.5,327.4 212.8,322.8 213.0,322.1 213.2,329.5 213.5,326.6 213.8,329.3 214.0,326.7 214.2,329.3 214.5,325.3 214.8,327.6 215.0,329.7 215.2,328.8 215.5,326.0 215.8,328.7 216.0,325.8 216.2,324.4 216.5,328.2 216.8,330.0 217.0,329.0 217.2,325.0 217.5,329.1 217.8,328.8 218.0,326.6 218.2,322.7 218.5,329.5 218.8,329.2 219.0,328.4 219.2,324.1 219.5,324.5 219.8,329.3 220.0,328.8 220.2,328.1 220.5,326.6 220.8,327.7 221.0,325.8 221.2,326.1 221.5,324.9 221.8,326.9 222.0,325.4 222.2,327.9 222.5,327.3 222.8,324.1 223.0,329.1 223.2,323.1 223.5,326.0 223.8,327.0 224.0,327.2 224.2,320.0 224.5,326.1 224.8,326.3 225.0,326.5 225.2,319.0 225.5,321.8 225.8,322.7 226.0,321.7 226.2,325.0 226.5,320.7 226.8,324.3 227.0,322.6 227.2,318.3 227.5,318.9 227.8,319.7 228.0,320.5 228.2,322.1 228.5,319.4 228.8,321.3 229.0,316.0 229.2,312.6 229.5,317.9 229.8,319.3 230.0,317.3 230.2,315.7 230.5,318.4 230.8,321.2 231.0,316.7 231.2,315.1 231.5,314.6 231.8,320.1 232.0,315.6 232.2,316.7 232.5,317.6 232.8,317.0 233.0,312.4 233.2,316.0 233.5,315.4 233.8,314.3 234.0,315.0 234.2,311.3 234.5,312.0 234.8,310.6 235.0,313.0 235.2,309.5 235.5,311.4 235.8,307.8 236.0,309.4 236.2,308.5 236.5,308.6 236.8,308.7 237.0,307.6 237.2,307.1 237.5,302.6 237.8,309.1 238.0,304.8 238.2,305.2 238.5,303.5 238.8,307.1 239.0,302.4 239.2,305.0 239.5,306.1 239.8,306.7 240.0,305.2 240.2,303.4 240.5,298.8 240.8,304.0 241.0,303.2 241.2,302.0 241.5,301.4 241.8,299.2 242.0,297.3 242.2,300.5 242.5,300.4 242.8,294.5 243.0,298.5 243.2,296.4 243.5,297.3 243.8,295.3 244.0,296.7 244.2,295.9 244.5,295.0 244.8,289.1 245.0,293.6 245.2,291.2 245.5,287.8 245.8,291.5 246.0,285.9 246.2,290.6 246.5,291.9 246.8,285.9 247.0,288.7 247.2,286.8 247.5,286.6 247.8,281.0 248.0,285.0 248.2,283.1 248.5,283.7 248.8,281.1 249.0,282.9 249.2,280.0 249.5,280.1 249.8,280.9 250.0,277.0 250.2,278.1 250.5,275.2 250.8,275.0 251.0,271.4 251.2,273.7 251.5,273.9 251.8,269.6 252.0,270.9 252.2,269.0 252.5,264.1 252.8,267.0 253.0,268.6 253.2,263.0 253.5,258.8 253.8,263.1 254.0,260.1 254.2,265.9 254.5,259.9 254.8,259.1 255.0,256.6 255.2,258.1 255.5,255.1 255.8,253.4 256.0,254.9 256.2,252.2 256.5,257.2 256.8,250.0 257.0,252.4 257.2,250.3 257.5,247.9 257.8,255.6 258.0,245.0 258.2,254.2 258.5,246.0 258.8,249.8 259.0,255.5 259.2,244.2 259.5,245.4 259.8,252.7 260.0,249.8 260.2,248.1 260.5,249.8 260.8,247.6 261.0,251.0 261.2,255.1 261.5,250.6 261.8,252.5 262.0,255.8 262.2,258.4 262.5,252.2 262.8,255.2 263.0,253.6 263.2,254.2 263.5,255.7 263.8,256.0 264.0,254.0 264.2,254.3 264.5,258.6 264.8,261.9 265.0,265.7 265.2,262.3 265.5,264.5 265.8,268.0 266.0,269.6 266.2,268.9 266.5,270.6 266.8,277.0 267.0,273.1 267.2,274.4 267.5,273.3 267.8,279.9 268.0,279.9 268.2,286.6 268.5,282.8 268.8,287.0 269.0,288.7 269.2,291.9 269.5,286.5 269.8,294.7 270.0,292.6 270.2,293.9 270.5,295.0 270.8,296.3 271.0,298.0 271.2,295.1 271.5,302.8 271.8,303.2 272.0,302.5 272.2,305.7 272.5,312.0 272.8,309.2 273.0,308.7 273.2,314.2 273.5,310.0 273.8,312.3 274.0,312.3 274.2,313.8 274.5,316.6 274.8,317.1 275.0,315.2 275.2,317.2 275.5,318.3 275.8,318.1 276.0,319.5 276.2,318.8 276.5,319.4 276.8,321.6 277.0,320.1 277.2,323.5 277.5,322.9 277.8,322.1 278.0,323.3 278.2,324.1 278.5,325.2 278.8,326.3 279.0,326.2 279.2,325.5 279.5,330.2 279.8,329.7 280.0,328.8 280.2,330.8 280.5,330.1 280.8,329.5 281.0,330.6 281.2,335.7 281.5,333.2 281.8,333.7 282.0,331.6 282.2,333.8 282.5,337.2 282.8,334.3 283.0,335.9 283.2,336.6 283.5,335.9 283.8,338.0 284.0,336.0 284.2,336.8 284.5,335.3 284.8,341.3 285.0,337.6 285.2,337.6 285.5,340.1 285.8,337.2 286.0,338.4 286.2,337.4 286.5,339.0 286.8,338.6 287.0,340.5 287.2,339.6 287.5,339.0 287.8,339.8 288.0,340.3 288.2,339.9 288.5,342.6 288.8,342.3 289.0,341.7 289.2,339.7 289.5,342.8 289.8,340.0 290.0,342.6 290.2,342.6 290.5,341.8 290.8,341.6 291.0,342.0 291.2,346.7 291.5,343.1 291.8,343.4 292.0,345.5 292.2,344.8 292.5,346.0 292.8,342.5 293.0,343.0 293.2,350.2 293.5,345.0 293.8,344.8 294.0,345.7 294.2,347.1 294.5,343.8 294.8,346.3 295.0,346.0 295.2,347.3 295.5,346.6 295.8,345.7 296.0,345.3 296.2,343.0 296.5,348.5 296.8,344.8 297.0,346.6 297.2,349.9 297.5,346.8 297.8,348.5 298.0,347.4 298.2,348.9 298.5,348.0 298.8,347.2 299.0,350.2 299.2,347.8 299.5,346.3 299.8,347.9 300.0,349.4 300.2,346.9 300.5,349.9 300.8,350.0 301.0,352.2 301.2,348.0 301.5,350.1 301.8,346.6 302.0,348.6 302.2,349.5 302.5,350.1 302.8,349.4 303.0,349.5 303.2,348.8 303.5,349.1 303.8,350.3 304.0,350.8 304.2,351.0 304.5,351.6 304.8,352.0 305.0,347.5 305.2,349.5 305.5,350.2 305.8,349.5 306.0,352.1 306.2,351.8 306.5,350.5 306.8,351.0 307.0,352.8 307.2,350.4 307.5,350.5 307.8,352.4 308.0,351.8 308.2,353.3 308.5,351.8 308.8,352.5 309.0,350.6 309.2,350.1 309.5,351.5 309.8,347.7 310.0,352.3 310.2,353.2 310.5,351.9 310.8,351.5 311.0,353.5 311.2,351.9 311.5,353.5 311.8,355.3 312.0,353.2 312.2,353.6 312.5,353.0 312.8,352.7 313.0,352.8 313.2,352.6 313.5,354.1 313.8,350.2 314.0,352.2 314.2,353.6 314.5,351.5 314.8,352.6 315.0,351.8 315.2,353.5 315.5,354.2 315.8,355.1 316.0,353.8 316.2,352.0 316.5,353.5 316.8,354.0 317.0,355.3 317.2,350.2 317.5,353.9 317.8,350.7 318.0,354.5 318.2,354.1 318.5,354.2 318.8,354.8 319.0,354.2 319.2,352.7 319.5,354.2 319.8,355.5 320.0,353.6 320.2,353.9 320.5,352.1 320.8,355.6 321.0,353.2 321.2,352.9 321.5,353.4 321.8,352.8 322.0,353.7 322.2,356.0 322.5,355.3 322.8,356.3 323.0,356.4 323.2,353.0 323.5,355.0 323.8,356.5 324.0,357.7 324.2,352.4 324.5,352.4 324.8,355.2 325.0,354.1 325.2,353.2 325.5,355.1 325.8,353.5 326.0,351.4 326.2,354.7 326.5,354.9 326.8,355.7 327.0,356.1 327.2,355.1 327.5,354.5 327.8,353.9 328.0,352.6 328.2,354.3 328.5,356.4 328.8,355.9 329.0,357.9 329.2,354.8 329.5,352.5 329.8,356.2 330.0,356.6 330.2,353.5 330.5,352.9 330.8,355.4 331.0,356.2 331.2,353.6 331.5,354.7 331.8,354.1 332.0,353.6 332.2,353.4 332.5,355.5 332.8,354.8 333.0,354.4 333.2,351.7 333.5,357.9 333.8,354.1 334.0,355.2 334.2,353.9 334.5,356.0 334.8,353.4 335.0,355.7 335.2,355.3 335.5,356.9 335.8,354.0 336.0,354.7 336.2,355.3 336.5,358.6 336.8,353.6 337.0,356.1 337.2,354.8 337.5,356.2 337.8,356.7 338.0,356.0 338.2,356.2 338.5,356.2 338.8,355.1 339.0,355.6 339.2,353.6 339.5,355.5 339.8,354.9 340.0,355.7 340.2,357.1 340.5,356.6 340.8,356.8 341.0,357.7 341.2,352.9 341.5,356.8 341.8,356.2 342.0,356.2 342.2,354.5 342.5,357.1 342.8,358.0 343.0,357.9 343.2,356.4 343.5,357.4 343.8,357.9 344.0,359.1 344.2,358.4 344.5,356.9 344.8,356.9 345.0,357.0 345.2,357.2 345.5,356.2 345.8,358.0 346.0,356.1 346.2,356.0 346.5,357.6 346.8,356.4 347.0,356.9 347.2,354.4 347.5,358.4 347.8,357.4 348.0,357.2 348.2,358.1 348.5,357.8 348.8,356.6 349.0,360.4 349.2,357.1 349.5,359.1 349.8,360.3 350.0,357.0 350.2,358.0 350.5,356.8 350.8,359.4 351.0,357.6 351.2,356.6 351.5,360.0 351.8,359.5 352.0,357.1 352.2,359.9 352.5,358.6 352.8,362.1 353.0,360.8 353.2,357.8 353.5,358.2 353.8,357.5 354.0,358.9 354.2,358.8 354.5,359.8 354.8,359.0 355.0,356.9 355.2,357.8 355.5,360.9 355.8,360.6 356.0,358.9 356.2,358.9 356.5,358.9 356.8,359.2 357.0,357.0 357.2,360.5 357.5,358.4 357.8,359.6 358.0,356.0 358.2,359.8 358.5,361.3 358.8,356.5 359.0,361.6 359.2,360.2 359.5,358.6 359.8,357.5 360.0,361.2 360.2,360.1 360.5,360.5 360.8,359.4 361.0,358.7 361.2,361.0 361.5,358.6 361.8,361.1 362.0,357.7 362.2,358.7 362.5,358.0 362.8,361.7 363.0,357.6 363.2,358.5 363.5,360.8 363.8,360.3 364.0,362.9 364.2,362.4 364.5,360.8 364.8,360.9 365.0,357.6 365.2,358.8 365.5,359.6 365.8,359.8 366.0,358.2 366.2,358.7 366.5,358.8 366.8,361.3 367.0,360.5 367.2,359.5 367.5,359.5 367.8,360.2 368.0,358.9 368.2,359.4 368.5,357.5 368.8,360.6 369.0,361.0 369.2,360.1 369.5,360.3 369.8,360.1 370.0,362.3 370.2,359.8 370.5,357.7 370.8,358.0 371.0,360.3 371.2,360.8 371.5,360.3 371.8,360.4 372.0,359.4 372.2,357.2 372.5,358.1 372.8,356.6 373.0,358.5 373.2,357.1 373.5,359.0 373.8,358.6 374.0,356.2 374.2,359.7 374.5,359.7 374.8,356.7 375.0,358.7 375.2,359.5 375.5,358.0 375.8,359.5 376.0,358.6 376.2,359.7 376.5,358.5 376.8,357.9 377.0,358.8 377.2,359.1 377.5,358.3 377.8,357.3 378.0,356.8 378.2,357.3 378.5,357.0 378.8,357.9 379.0,357.8 379.2,357.4 379.5,357.4 379.8,357.6 380.0,359.4 380.2,358.8 380.5,356.3 380.8,357.5 381.0,356.4 381.2,356.6 381.5,356.3 381.8,355.7 382.0,354.6 382.2,352.9 382.5,356.5 382.8,357.7 383.0,354.7 383.2,356.6 383.5,355.2 383.8,356.0 384.0,354.4 384.2,355.1 384.5,355.1 384.8,351.9 385.0,355.4 385.2,354.8 385.5,351.4 385.8,355.7 386.0,354.6 386.2,354.8 386.5,354.9 386.8,353.7 387.0,352.7 387.2,353.5 387.5,353.4 387.8,357.1 388.0,356.5 388.2,353.1 388.5,353.1 388.8,354.1 389.0,354.3 389.2,352.5 389.5,352.0 389.8,356.1 390.0,354.8 390.2,351.0 390.5,350.6 390.8,351.9 391.0,353.4 391.2,353.8 391.5,352.5 391.8,350.7 392.0,353.3 392.2,353.8 392.5,353.0 392.8,352.3 393.0,353.8 393.2,352.9 393.5,351.5 393.8,353.3 394.0,351.3 394.2,354.7 394.5,354.0 394.8,352.1 395.0,353.9 395.2,355.5 395.5,350.8 395.8,353.8 396.0,356.5 396.2,352.1 396.5,354.2 396.8,352.6 397.0,354.7 397.2,351.6 397.5,352.9 397.8,354.6 398.0,355.7 398.2,356.2 398.5,356.5 398.8,357.7 399.0,357.3 399.2,357.5 399.5,355.3 399.8,356.7 400.0,361.5 400.2,360.4 400.5,358.6 400.8,358.7 401.0,359.2 401.2,357.5 401.5,360.9 401.8,357.9 402.0,358.4 402.2,361.7 402.5,356.0 402.8,359.5 403.0,356.8 403.2,358.4 403.5,359.3 403.8,359.1 404.0,359.9 404.2,358.7 404.5,359.7 404.8,358.3 405.0,359.4 405.2,358.2 405.5,360.9 405.8,358.4 406.0,361.1 406.2,359.7 406.5,359.9 406.8,361.9 407.0,360.5 407.2,357.9 407.5,361.2 407.8,356.7 408.0,360.9 408.2,360.1 408.5,358.8 408.8,360.8 409.0,360.4 409.2,363.5 409.5,360.3 409.8,363.5 410.0,362.8 410.2,360.2 410.5,360.0 410.8,362.8 411.0,361.0 411.2,361.4 411.5,360.9 411.8,359.7 412.0,360.8 412.2,360.1 412.5,359.3 412.8,361.0 413.0,363.8 413.2,363.6 413.5,361.4 413.8,361.7 414.0,362.3 414.2,363.4 414.5,362.1 414.8,361.1 415.0,361.2 415.2,363.2 415.5,365.2 415.8,361.0 416.0,359.1 416.2,362.9 416.5,361.8 416.8,362.1 417.0,363.6 417.2,362.1 417.5,360.3 417.8,359.5 418.0,362.0 418.2,360.6 418.5,362.5 418.8,360.5 419.0,361.7 419.2,360.3 419.5,361.8 419.8,361.7 420.0,363.1 420.2,364.1 420.5,362.1 420.8,361.2 421.0,365.0 421.2,362.9 421.5,363.3 421.8,363.3 422.0,364.4 422.2,363.8 422.5,363.4 422.8,363.6 423.0,361.5 423.2,361.8 423.5,362.5 423.8,362.8 424.0,362.7 424.2,363.1 424.5,362.8 424.8,362.2 425.0,360.6 425.2,363.9 425.5,363.6 425.8,361.7 426.0,363.5 426.2,363.4 426.5,363.0 426.8,360.5 427.0,361.4 427.2,362.2 427.5,365.1 427.8,361.9 428.0,362.6 428.2,361.6 428.5,362.4 428.8,363.5 429.0,360.4 429.2,359.4 429.5,364.0 429.8,363.2 430.0,362.4 430.2,364.4 430.5,364.4 430.8,360.5 431.0,363.0 431.2,364.7 431.5,362.4 431.8,362.9 432.0,364.5 432.2,363.0 432.5,361.8 432.8,362.5 433.0,361.6 433.2,364.1 433.5,361.2 433.8,364.7 434.0,361.3 434.2,363.5 434.5,361.6 434.8,363.1 435.0,364.8 435.2,364.9 435.5,365.2 435.8,363.4 436.0,363.7 436.2,363.9 436.5,364.4 436.8,363.1 437.0,365.0 437.2,364.0 437.5,365.1 437.8,364.3 438.0,364.5 438.2,362.7 438.5,363.1 438.8,362.0 439.0,363.3 439.2,363.5 439.5,364.8 439.8,362.1 440.0,367.9 440.2,363.6 440.5,365.4 440.8,365.1 441.0,360.6 441.2,363.5 441.5,365.7 441.8,360.7 442.0,364.8 442.2,362.7 442.5,363.3 442.8,364.2 443.0,361.5 443.2,364.2 443.5,363.1 443.8,363.0 444.0,364.8 444.2,368.4 444.5,364.4 444.8,364.7 445.0,363.9 445.2,363.1 445.5,364.4 445.8,366.0 446.0,364.3 446.2,365.2 446.5,363.8 446.8,367.3 447.0,362.0 447.2,364.8 447.5,364.8 447.8,364.5 448.0,362.7 448.2,362.7 448.5,363.9 448.8,364.3 449.0,362.6 449.2,362.8 449.5,364.9 449.8,365.5 450.0,363.5 450.2,363.3 450.5,363.3 450.8,367.4 451.0,364.9 451.2,364.2 451.5,365.6 451.8,367.2 452.0,365.8 452.2,362.5 452.5,364.2 452.8,363.8 453.0,363.9 453.2,362.8 453.5,363.9 453.8,363.0 454.0,364.8 454.2,364.5 454.5,362.6 454.8,362.3 455.0,363.8 455.2,365.3 455.5,365.1 455.8,364.4 456.0,360.3 456.2,363.9 456.5,363.6 456.8,364.1 457.0,363.0 457.2,364.0 457.5,363.7 457.8,368.0 458.0,365.5 458.2,364.3 458.5,364.5 458.8,364.5 459.0,364.9 459.2,364.1 459.5,364.6 459.8,366.0 460.0,365.7 460.2,365.1 460.5,366.4 460.8,365.0 461.0,363.5 461.2,362.5 461.5,363.9 461.8,364.7 462.0,365.3 462.2,366.1 462.5,364.1 462.8,363.8 463.0,365.8 463.2,366.3 463.5,364.3 463.8,365.3 464.0,366.6 464.2,365.3 464.5,364.9 464.8,362.3 465.0,366.6 465.2,365.8 465.5,365.1 465.8,364.4 466.0,363.5 466.2,364.9 466.5,364.9 466.8,366.4 467.0,363.6 467.2,366.9 467.5,365.2 467.8,366.6 468.0,363.9 468.2,365.6 468.5,366.7 468.8,365.3 469.0,363.4 469.2,364.8 469.5,365.9 469.8,363.5 470.0,363.5 470.2,365.6 470.5,364.2 470.8,366.2 471.0,363.9 471.2,363.1 471.5,364.5 471.8,367.3 472.0,364.4 472.2,365.5 472.5,365.8 472.8,364.4 473.0,366.9 473.2,365.8 473.5,366.2 473.8,363.5 474.0,363.5 474.2,362.3 474.5,365.5 474.8,365.4 475.0,366.6 475.2,367.6 475.5,365.5 475.8,365.5 476.0,366.4 476.2,367.7 476.5,364.9 476.8,366.7 477.0,365.6 477.2,365.5 477.5,367.0 477.8,365.0 478.0,364.7 478.2,366.8 478.5,366.0 478.8,365.7 479.0,365.9 479.2,366.7 479.5,365.7 479.8,367.1 480.0,366.7 480.2,368.0 480.5,367.8 480.8,367.3 481.0,366.0 481.2,366.4 481.5,365.6 481.8,369.8 482.0,366.1 482.2,367.0 482.5,368.0 482.8,364.7 483.0,365.4 483.2,366.0 483.5,365.3 483.8,364.9 484.0,365.9 484.2,368.1 484.5,367.4 484.8,366.6 485.0,366.6 485.2,364.6 485.5,367.5 485.8,367.1 486.0,365.3 486.2,366.9 486.5,366.4 486.8,366.1 487.0,365.5 487.2,365.9 487.5,365.6 487.8,367.3 488.0,367.2 488.2,367.2 488.5,366.6 488.8,366.3 489.0,369.3 489.2,364.6 489.5,368.3 489.8,367.3 490.0,366.9 490.2,366.3 490.5,366.6 490.8,365.5 491.0,365.2 491.2,366.8 491.5,364.9 491.8,367.9 492.0,368.3 492.2,362.8 492.5,365.1 492.8,367.3 493.0,367.2 493.2,367.1 493.5,367.5 493.8,367.9 494.0,368.0 494.2,369.1 494.5,367.0 494.8,368.0 495.0,365.0 495.2,366.8 495.5,365.5 495.8,368.6 496.0,369.8 496.2,367.6 496.5,365.4 496.8,366.8 497.0,367.0 497.2,367.2 497.5,368.2 497.8,368.1 498.0,363.7 498.2,368.5 498.5,366.3 498.8,366.2 499.0,368.6 499.2,366.5 499.5,365.2 499.8,365.2 500.0,366.9 500.2,367.9 500.5,368.6 500.8,366.5 501.0,366.2 501.2,368.7 501.5,366.2 501.8,368.4 502.0,366.9 502.2,366.9 502.5,366.3 502.8,367.0 503.0,366.0 503.2,365.8 503.5,366.4 503.8,365.8 504.0,366.9 504.2,366.6 504.5,366.2 504.8,366.2 505.0,366.2 505.2,368.5 505.5,366.4 505.8,365.7 506.0,366.0 506.2,367.2 506.5,366.1 506.8,366.2 507.0,366.0 507.2,366.5 507.5,366.8 507.8,366.8 508.0,364.3 508.2,365.0 508.5,363.1 508.8,367.2 509.0,367.6 509.2,367.8 509.5,366.4 509.8,367.6 510.0,366.2 510.2,366.1 510.5,364.4 510.8,365.3 511.0,365.5 511.2,367.3 511.5,368.2 511.8,365.7 512.0,366.7 512.2,366.6 512.5,365.3 512.8,364.2 513.0,365.3 513.2,364.5 513.5,365.9 513.8,366.1 514.0,366.1 514.2,366.1 514.5,366.9 514.8,365.2 515.0,367.4 515.2,364.3 515.5,366.4 515.8,366.8 516.0,365.4 516.2,364.5 516.5,367.2 516.8,365.6 517.0,367.4 517.2,367.4 517.5,366.5 517.8,366.5 518.0,367.7 518.2,367.0 518.5,365.5 518.8,366.8 519.0,367.3 519.2,366.9 519.5,366.9 519.8,366.5 520.0,366.6 520.2,365.6 520.5,365.1 520.8,368.1 521.0,366.1 521.2,367.1 521.5,365.1 521.8,367.1 522.0,366.0 522.2,370.5 522.5,365.8 522.8,365.9 523.0,368.2 523.2,368.4 523.5,364.6 523.8,367.5 524.0,368.2 524.2,365.8 524.5,368.1 524.8,366.7 525.0,366.1 525.2,366.9 525.5,366.8 525.8,365.8 526.0,370.1 526.2,366.9 526.5,366.6 526.8,368.5 527.0,367.5 527.2,369.2 527.5,367.3 527.8,368.1 528.0,367.8 528.2,367.9 528.5,367.5 528.8,367.7 529.0,369.8 529.2,367.1 529.5,367.3 529.8,367.5 530.0,368.6 530.2,368.5 530.5,369.1 530.8,366.5 531.0,368.4 531.2,367.9 531.5,367.8 531.8,368.4 532.0,366.0 532.2,368.6 532.5,368.5 532.8,366.7 533.0,368.3 533.2,370.2 533.5,368.0 533.8,369.1 534.0,368.2 534.2,367.6 534.5,367.5 534.8,368.1 535.0,370.1 535.2,369.6 535.5,367.9 535.8,369.8 536.0,368.6 536.2,368.0 536.5,369.3 536.8,367.8 537.0,367.0 537.2,370.3 537.5,366.8 537.8,369.5 538.0,367.2 538.2,368.9 538.5,368.8 538.8,368.5 539.0,366.6 539.2,369.0 539.5,369.1 539.8,368.1 540.0,369.1 540.2,370.3 540.5,368.4 540.8,369.6 541.0,368.0 541.2,369.8 541.5,370.1 541.8,372.2 542.0,370.5 542.2,370.0 542.5,371.1 542.8,368.4 543.0,370.8 543.2,369.0 543.5,369.0 543.8,370.9 544.0,370.0 544.2,371.2 544.5,368.2 544.8,370.1 545.0,369.3 545.2,369.6 545.5,367.8 545.8,371.0 546.0,370.2 546.2,368.9 546.5,368.6 546.8,369.1 547.0,371.7 547.2,370.0 547.5,369.8 547.8,370.8 548.0,370.3 548.2,370.5 548.5,371.1 548.8,370.7 549.0,371.4 549.2,369.1 549.5,370.5 549.8,370.1 550.0,370.6 550.2,370.5 550.5,369.9 550.8,370.2 551.0,371.7 551.2,370.1 551.5,369.4 551.8,371.4 552.0,371.8 552.2,370.5 552.5,371.0 552.8,370.0 553.0,370.7 553.2,372.1 553.5,371.8 553.8,371.2 554.0,370.7 554.2,369.3 554.5,371.4 554.8,371.6 555.0,372.3 555.2,373.3 555.5,371.6 555.8,372.3 556.0,370.1 556.2,372.6 556.5,372.3 556.8,372.8 557.0,372.1 557.2,371.9 557.5,373.0 557.8,370.7 558.0,372.2 558.2,372.7 558.5,370.7 558.8,370.3 559.0,372.0 559.2,371.7 559.5,372.3 559.8,372.3 560.0,370.9 560.2,372.1 560.5,372.9 560.8,371.4 561.0,371.5 561.2,370.6 561.5,372.7 561.8,373.9 562.0,370.4 562.2,372.7 562.5,372.8 562.8,371.3 563.0,371.5 563.2,370.8 563.5,371.1 563.8,372.2 564.0,372.7 564.2,372.1 564.5,372.9 564.8,372.3 565.0,370.8 565.2,373.6 565.5,373.4 565.8,371.4 566.0,374.0 566.2,372.7 566.5,372.3 566.8,374.2 567.0,369.6 567.2,370.6 567.5,373.0 567.8,372.0 568.0,371.3 568.2,373.9 568.5,372.8 568.8,371.0 569.0,371.7 569.2,373.3 569.5,374.3 569.8,370.3 570.0,372.7 570.2,372.0 570.5,370.6 570.8,372.3 571.0,370.8 571.2,371.9 571.5,374.2 571.8,373.1 572.0,373.4 572.2,373.2 572.5,373.0 572.8,373.6 573.0,371.4 573.2,372.3 573.5,373.5 573.8,371.9 574.0,372.2 574.2,373.9 574.5,374.3 574.8,372.1 575.0,371.9 575.2,373.4 575.5,373.0 575.8,372.1 576.0,373.4 576.2,373.4 576.5,372.9 576.8,375.9 577.0,374.3 577.2,373.7 577.5,373.9 577.8,375.9 578.0,374.0 578.2,372.2 578.5,373.3 578.8,373.0 579.0,372.4 579.2,373.2 579.5,373.2 579.8,372.9 580.0,372.5 580.2,373.9 580.5,371.4 580.8,373.9 581.0,373.1 581.2,373.4 581.5,370.6 581.8,374.8 582.0,371.3 582.2,372.2 582.5,373.8 582.8,372.5 583.0,372.7 583.2,370.9 583.5,372.7 583.8,373.4 584.0,373.9 584.2,372.9 584.5,373.5 584.8,373.7 585.0,372.6 585.2,372.5 585.5,375.3 585.8,372.4 586.0,374.6 586.2,373.4 586.5,374.8 586.8,372.7 587.0,373.9 587.2,373.7 587.5,373.1 587.8,373.7 588.0,372.6 588.2,373.3 588.5,373.0 588.8,374.2 589.0,373.3 589.2,372.0 589.5,373.1 589.8,373.4 590.0,372.5 590.2,374.8 590.5,373.9 590.8,374.4 591.0,372.7 591.2,373.1 591.5,374.6 591.8,372.1 592.0,373.9 592.2,373.6 592.5,373.1 592.8,373.7 593.0,372.5 593.2,373.8 593.5,372.4 593.8,372.3 594.0,375.0 594.2,372.9 594.5,371.5 594.8,374.6 595.0,372.9 595.2,370.1 595.5,373.6 595.8,374.6 596.0,374.1 596.2,375.5 596.5,373.6 596.8,374.3 597.0,372.7 597.2,373.9 597.5,375.3 597.8,374.3 598.0,373.9 598.2,371.8 598.5,373.4 598.8,372.5 599.0,374.6 599.2,373.1 599.5,374.2 599.8,372.8 600.0,375.8 600.2,372.7 600.5,374.0 600.8,376.5 601.0,374.1 601.2,373.0 601.5,374.5 601.8,374.9 602.0,374.8 602.2,371.9 602.5,374.2 602.8,371.8 603.0,375.9 603.2,374.0 603.5,373.5 603.8,374.7 604.0,374.5 604.2,372.8 604.5,375.6 604.8,373.8 605.0,372.2 605.2,375.4 605.5,375.6 605.8,375.3 606.0,374.6 606.2,373.2 606.5,375.0 606.8,375.9 607.0,374.9 607.2,375.7 607.5,373.3 607.8,375.1 608.0,375.1 608.2,372.6 608.5,372.5 608.8,373.4 609.0,374.2 609.2,374.6 609.5,373.9 609.8,374.1 610.0,374.1 610.2,374.3 610.5,374.8 610.8,374.7 611.0,374.2 611.2,374.5 611.5,373.8 611.8,375.0 612.0,373.7 612.2,375.9 612.5,374.2 612.8,374.5 613.0,373.5 613.2,373.9 613.5,374.4 613.8,374.3 614.0,373.7 614.2,373.1 614.5,374.3 614.8,374.5 615.0,374.9 615.2,375.6 615.5,374.0 615.8,372.3 616.0,374.2 616.2,372.5 616.5,373.1 616.8,375.4 617.0,374.9 617.2,373.7 617.5,373.8 617.8,374.3 618.0,372.6 618.2,374.9 618.5,374.1 618.8,376.3 619.0,373.4 619.2,375.4 619.5,373.8 619.8,375.5 620.0,373.5 620.2,375.2 620.5,374.0 620.8,373.7 621.0,374.3 621.2,375.0 621.5,374.9 621.8,376.1 622.0,375.3 622.2,371.9 622.5,374.1 622.8,372.5 623.0,374.2 623.2,375.2 623.5,373.2 623.8,373.4 624.0,374.7 624.2,374.3 624.5,376.2 624.8,374.9 625.0,375.1 625.2,376.4 625.5,374.1 625.8,374.6 626.0,373.6 626.2,374.9 626.5,375.7 626.8,376.0 627.0,374.6 627.2,373.9 627.5,373.9 627.8,373.3 628.0,374.8 628.2,376.0 628.5,372.3 628.8,372.5 629.0,376.1 629.2,373.1 629.5,375.0 629.8,373.5 630.0,375.5 630.2,375.5 630.5,374.9 630.8,375.6 631.0,374.8 631.2,375.3 631.5,376.6 631.8,375.9 632.0,374.1 632.2,374.0 632.5,374.6 632.8,374.6 633.0,374.9 633.2,374.2 633.5,375.5 633.8,374.9 634.0,375.2 634.2,374.8 634.5,375.5 634.8,373.7 635.0,376.4 635.2,375.2 635.5,375.3 635.8,375.5 636.0,376.0 636.2,375.6 636.5,375.1 636.8,374.7 637.0,373.3 637.2,375.1 637.5,374.6 637.8,374.6 638.0,377.3 638.2,373.1 638.5,375.0 638.8,376.2 639.0,375.9 639.2,376.2 639.5,373.7 639.8,374.0 640.0,375.6 640.2,374.7 640.5,376.7 640.8,375.2 641.0,375.2 641.2,375.5 641.5,374.8 641.8,375.1 642.0,374.4 642.2,375.0 642.5,374.6 642.8,375.3 643.0,373.7 643.2,373.6 643.5,375.5 643.8,375.3 644.0,374.1 644.2,374.9 644.5,374.1 644.8,377.1 645.0,373.6 645.2,376.8 645.5,374.3 645.8,375.5 646.0,374.9 646.2,374.8 646.5,376.1 646.8,375.9 647.0,374.9 647.2,374.3 647.5,377.2 647.8,376.6 648.0,375.3 648.2,374.9 648.5,375.5 648.8,375.3 649.0,376.4 649.2,374.2 649.5,375.2 649.8,374.4 650.0,376.5 650.2,377.0 650.5,375.1 650.8,375.8 651.0,376.6 651.2,374.9 651.5,374.3 651.8,376.3 652.0,375.8 652.2,375.1 652.5,376.7 652.8,375.5 653.0,373.5 653.2,375.6 653.5,375.2 653.8,377.1 654.0,375.3 654.2,375.1 654.5,375.7 654.8,375.6 655.0,373.9 655.2,375.4 655.5,375.0 655.8,376.7 656.0,377.7 656.2,374.2 656.5,374.4 656.8,374.5 657.0,374.7 657.2,374.7 657.5,375.4 657.8,376.4 658.0,374.1 658.2,373.9 658.5,373.6 658.8,376.5 659.0,376.7 659.2,373.9 659.5,373.8 659.8,375.5 660.0,376.5 660.2,376.4 660.5,375.6 660.8,376.1 661.0,375.8 661.2,374.9 661.5,377.3 661.8,375.4 662.0,374.4 662.2,375.0 662.5,374.0 662.8,375.5 663.0,376.5 663.2,374.2 663.5,376.6 663.8,377.5 664.0,375.9 664.2,374.4 664.5,374.7 664.8,375.2 665.0,374.3 665.2,374.3 665.5,375.3 665.8,375.3 666.0,376.1 666.2,374.4 666.5,377.3 666.8,376.6 667.0,376.4 667.2,374.9 667.5,377.2 667.8,375.2 668.0,377.3 668.2,376.6 668.5,374.7 668.8,375.1 669.0,377.4 669.2,376.5 669.5,375.4 669.8,375.8 670.0,375.8 670.2,374.8 670.5,375.4 670.8,374.9 671.0,375.2"/>
<polyline fill="none" stroke="#b177de" stroke-width="2.5" stroke-linejoin="round" points="67.5,394.6 67.8,393.1 68.0,394.9 68.2,394.2 68.5,394.9 68.8,395.0 69.0,395.4 69.2,394.8 69.5,394.8 69.8,393.9 70.0,394.7 70.2,393.1 70.5,393.8 70.8,394.9 71.0,394.0 71.2,394.6 71.5,393.0 71.8,395.5 72.0,393.5 72.2,394.5 72.5,394.1 72.8,395.1 73.0,393.7 73.2,393.0 73.5,392.1 73.8,393.7 74.0,392.8 74.2,394.6 74.5,395.6 74.8,391.7 75.0,392.7 75.2,394.4 75.5,395.3 75.8,394.4 76.0,394.4 76.2,394.6 76.5,394.6 76.8,395.8 77.0,394.7 77.2,392.7 77.5,393.5 77.8,394.2 78.0,393.2 78.2,393.7 78.5,393.5 78.8,393.3 79.0,394.7 79.2,393.6 79.5,392.8 79.8,393.2 80.0,394.0 80.2,396.2 80.5,394.2 80.8,395.5 81.0,394.5 81.2,391.7 81.5,394.4 81.8,393.1 82.0,392.5 82.2,392.8 82.5,395.8 82.8,392.3 83.0,393.3 83.2,395.1 83.5,394.6 83.8,392.1 84.0,393.8 84.2,393.4 84.5,393.7 84.8,394.7 85.0,393.3 85.2,393.5 85.5,395.4 85.8,391.9 86.0,393.5 86.2,394.4 86.5,392.5 86.8,393.2 87.0,392.5 87.2,394.0 87.5,393.2 87.8,394.6 88.0,394.9 88.2,393.9 88.5,393.4 88.8,394.1 89.0,393.8 89.2,392.5 89.5,394.9 89.8,394.0 90.0,394.6 90.2,392.3 90.5,394.7 90.8,396.0 91.0,394.4 91.2,392.2 91.5,393.8 91.8,393.7 92.0,393.9 92.2,393.5 92.5,394.2 92.8,393.2 93.0,393.9 93.2,392.9 93.5,393.8 93.8,394.7 94.0,393.1 94.2,394.3 94.5,392.7 94.8,393.2 95.0,393.4 95.2,394.9 95.5,392.8 95.8,394.9 96.0,392.0 96.2,393.4 96.5,394.5 96.8,394.3 97.0,392.4 97.2,392.2 97.5,394.4 97.8,392.1 98.0,394.1 98.2,392.9 98.5,393.4 98.8,395.8 99.0,395.0 99.2,394.2 99.5,391.9 99.8,393.7 100.0,393.3 100.2,393.2 100.5,394.7 100.8,391.4 101.0,393.5 101.2,393.3 101.5,392.3 101.8,394.9 102.0,391.7 102.2,393.0 102.5,393.0 102.8,390.5 103.0,391.3 103.2,391.7 103.5,393.6 103.8,393.7 104.0,393.2 104.2,392.8 104.5,390.1 104.8,392.6 105.0,391.8 105.2,393.5 105.5,393.7 105.8,394.6 106.0,392.8 106.2,392.9 106.5,390.8 106.8,391.9 107.0,390.4 107.2,392.6 107.5,390.3 107.8,391.3 108.0,390.5 108.2,390.8 108.5,391.7 108.8,390.5 109.0,391.3 109.2,389.9 109.5,392.4 109.8,390.1 110.0,391.8 110.2,393.0 110.5,387.8 110.8,389.3 111.0,390.1 111.2,391.6 111.5,389.6 111.8,390.5 112.0,389.2 112.2,390.5 112.5,388.5 112.8,390.7 113.0,386.3 113.2,387.4 113.5,391.5 113.8,389.6 114.0,388.3 114.2,391.7 114.5,390.3 114.8,390.3 115.0,388.5 115.2,389.6 115.5,389.3 115.8,386.8 116.0,389.3 116.2,388.3 116.5,389.9 116.8,389.8 117.0,387.5 117.2,387.4 117.5,388.3 117.8,388.7 118.0,387.4 118.2,387.6 118.5,388.4 118.8,388.0 119.0,388.8 119.2,387.6 119.5,386.2 119.8,385.1 120.0,388.0 120.2,386.5 120.5,386.4 120.8,386.4 121.0,384.8 121.2,386.1 121.5,383.3 121.8,385.8 122.0,385.1 122.2,388.3 122.5,386.5 122.8,385.6 123.0,386.0 123.2,386.5 123.5,384.7 123.8,385.2 124.0,384.9 124.2,388.2 124.5,385.2 124.8,382.6 125.0,385.9 125.2,387.9 125.5,383.5 125.8,388.8 126.0,384.4 126.2,385.6 126.5,383.6 126.8,383.8 127.0,382.5 127.2,382.6 127.5,381.2 127.8,385.1 128.0,382.2 128.2,383.9 128.5,383.8 128.8,382.5 129.0,383.2 129.2,382.9 129.5,382.3 129.8,382.9 130.0,382.8 130.2,381.4 130.5,380.9 130.8,381.4 131.0,382.5 131.2,383.9 131.5,383.9 131.8,382.4 132.0,383.1 132.2,381.9 132.5,383.0 132.8,381.7 133.0,381.9 133.2,381.0 133.5,381.2 133.8,383.5 134.0,379.5 134.2,380.9 134.5,380.0 134.8,381.9 135.0,382.9 135.2,380.1 135.5,376.8 135.8,381.0 136.0,380.9 136.2,377.8 136.5,379.6 136.8,379.7 137.0,376.7 137.2,380.4 137.5,380.0 137.8,379.7 138.0,377.9 138.2,378.2 138.5,378.2 138.8,379.5 139.0,377.5 139.2,380.6 139.5,379.0 139.8,375.6 140.0,380.5 140.2,378.4 140.5,377.4 140.8,378.1 141.0,375.5 141.2,378.0 141.5,374.4 141.8,376.2 142.0,379.2 142.2,379.0 142.5,376.7 142.8,375.8 143.0,378.2 143.2,376.8 143.5,377.0 143.8,377.4 144.0,375.0 144.2,377.4 144.5,373.4 144.8,378.1 145.0,373.9 145.2,375.0 145.5,374.9 145.8,376.7 146.0,376.6 146.2,375.9 146.5,376.1 146.8,375.9 147.0,375.0 147.2,372.4 147.5,371.8 147.8,371.7 148.0,374.6 148.2,374.3 148.5,374.3 148.8,374.7 149.0,373.9 149.2,372.8 149.5,372.0 149.8,371.3 150.0,375.5 150.2,374.9 150.5,371.7 150.8,373.1 151.0,374.0 151.2,375.4 151.5,372.3 151.8,373.2 152.0,374.5 152.2,370.3 152.5,371.6 152.8,372.5 153.0,371.4 153.2,375.2 153.5,373.4 153.8,372.3 154.0,370.5 154.2,373.0 154.5,372.5 154.8,370.8 155.0,370.7 155.2,369.1 155.5,370.9 155.8,372.1 156.0,372.2 156.2,371.4 156.5,371.6 156.8,369.5 157.0,369.5 157.2,371.7 157.5,370.5 157.8,368.5 158.0,370.2 158.2,370.5 158.5,370.2 158.8,369.1 159.0,368.1 159.2,369.2 159.5,370.8 159.8,368.4 160.0,367.0 160.2,368.2 160.5,365.7 160.8,367.6 161.0,366.6 161.2,368.2 161.5,366.7 161.8,367.8 162.0,369.4 162.2,365.4 162.5,364.2 162.8,365.9 163.0,364.8 163.2,364.9 163.5,363.5 163.8,365.0 164.0,364.0 164.2,360.3 164.5,363.0 164.8,363.5 165.0,364.6 165.2,361.6 165.5,361.0 165.8,363.7 166.0,360.8 166.2,361.6 166.5,361.9 166.8,362.0 167.0,360.6 167.2,358.6 167.5,361.6 167.8,359.1 168.0,358.6 168.2,362.3 168.5,360.2 168.8,356.9 169.0,357.5 169.2,357.6 169.5,356.5 169.8,354.4 170.0,358.3 170.2,358.0 170.5,356.9 170.8,355.6 171.0,356.3 171.2,356.7 171.5,353.8 171.8,354.6 172.0,354.0 172.2,355.8 172.5,354.9 172.8,352.2 173.0,353.0 173.2,356.7 173.5,352.1 173.8,353.7 174.0,352.2 174.2,355.0 174.5,352.7 174.8,351.9 175.0,350.5 175.2,351.8 175.5,353.4 175.8,352.9 176.0,349.5 176.2,354.0 176.5,350.9 176.8,349.4 177.0,351.2 177.2,349.8 177.5,349.7 177.8,349.4 178.0,350.2 178.2,349.4 178.5,347.2 178.8,350.8 179.0,348.9 179.2,351.6 179.5,350.4 179.8,350.4 180.0,349.6 180.2,351.4 180.5,348.6 180.8,347.4 181.0,349.5 181.2,344.4 181.5,348.2 181.8,349.1 182.0,347.9 182.2,350.6 182.5,349.6 182.8,348.6 183.0,347.6 183.2,350.1 183.5,347.0 183.8,347.4 184.0,349.3 184.2,349.0 184.5,351.3 184.8,347.6 185.0,344.8 185.2,348.9 185.5,349.9 185.8,347.5 186.0,350.4 186.2,350.8 186.5,346.7 186.8,347.0 187.0,345.8 187.2,348.8 187.5,349.1 187.8,349.0 188.0,346.0 188.2,346.8 188.5,345.8 188.8,345.5 189.0,346.0 189.2,345.7 189.5,348.1 189.8,349.2 190.0,349.6 190.2,348.6 190.5,347.7 190.8,348.9 191.0,349.9 191.2,348.6 191.5,349.3 191.8,348.8 192.0,348.6 192.2,349.6 192.5,347.8 192.8,351.5 193.0,347.3 193.2,350.8 193.5,347.9 193.8,352.7 194.0,351.8 194.2,349.2 194.5,349.9 194.8,349.0 195.0,350.8 195.2,351.7 195.5,355.3 195.8,349.1 196.0,353.5 196.2,350.7 196.5,352.2 196.8,353.3 197.0,352.9 197.2,352.8 197.5,352.0 197.8,352.4 198.0,352.8 198.2,354.6 198.5,350.5 198.8,352.1 199.0,351.1 199.2,351.6 199.5,352.0 199.8,355.1 200.0,356.9 200.2,355.8 200.5,351.9 200.8,354.0 201.0,352.2 201.2,354.8 201.5,356.2 201.8,355.3 202.0,355.9 202.2,354.4 202.5,351.7 202.8,351.8 203.0,354.9 203.2,356.1 203.5,357.3 203.8,355.0 204.0,355.8 204.2,356.2 204.5,357.6 204.8,356.0 205.0,354.6 205.2,358.1 205.5,357.2 205.8,357.3 206.0,355.0 206.2,357.0 206.5,354.6 206.8,354.3 207.0,357.1 207.2,357.0 207.5,358.7 207.8,360.1 208.0,358.0 208.2,360.9 208.5,357.5 208.8,359.6 209.0,356.7 209.2,358.9 209.5,358.4 209.8,358.6 210.0,360.0 210.2,356.3 210.5,359.4 210.8,358.1 211.0,359.6 211.2,360.1 211.5,359.1 211.8,359.1 212.0,358.0 212.2,360.6 212.5,358.8 212.8,360.6 213.0,357.8 213.2,362.0 213.5,358.5 213.8,361.7 214.0,359.3 214.2,360.8 214.5,359.8 214.8,361.0 215.0,360.0 215.2,361.8 215.5,360.9 215.8,360.9 216.0,362.3 216.2,358.7 216.5,361.7 216.8,359.8 217.0,357.4 217.2,360.3 217.5,359.2 217.8,362.0 218.0,358.6 218.2,359.4 218.5,359.5 218.8,356.2 219.0,359.8 219.2,357.4 219.5,360.9 219.8,361.2 220.0,358.6 220.2,356.1 220.5,358.7 220.8,358.6 221.0,359.3 221.2,357.6 221.5,356.1 221.8,357.6 222.0,356.3 222.2,360.2 222.5,356.3 222.8,356.3 223.0,357.0 223.2,355.1 223.5,356.1 223.8,356.5 224.0,355.8 224.2,356.0 224.5,358.1 224.8,356.7 225.0,353.9 225.2,355.1 225.5,356.7 225.8,354.4 226.0,355.4 226.2,355.1 226.5,355.7 226.8,354.5 227.0,354.4 227.2,353.1 227.5,354.8 227.8,352.6 228.0,356.6 228.2,353.7 228.5,353.2 228.8,354.6 229.0,353.1 229.2,353.2 229.5,352.8 229.8,351.5 230.0,351.1 230.2,351.2 230.5,353.9 230.8,350.9 231.0,351.1 231.2,350.8 231.5,352.4 231.8,354.2 232.0,349.3 232.2,351.4 232.5,350.4 232.8,349.5 233.0,350.5 233.2,347.3 233.5,350.4 233.8,349.1 234.0,346.9 234.2,350.7 234.5,349.2 234.8,349.4 235.0,344.8 235.2,346.4 235.5,345.7 235.8,347.2 236.0,348.0 236.2,342.3 236.5,345.1 236.8,344.5 237.0,346.0 237.2,344.0 237.5,341.6 237.8,343.0 238.0,341.2 238.2,341.3 238.5,342.3 238.8,341.0 239.0,341.9 239.2,338.5 239.5,344.6 239.8,342.5 240.0,341.2 240.2,337.4 240.5,335.6 240.8,337.4 241.0,338.1 241.2,342.0 241.5,340.0 241.8,336.5 242.0,339.1 242.2,338.7 242.5,336.2 242.8,337.9 243.0,336.0 243.2,333.8 243.5,332.5 243.8,333.9 244.0,335.5 244.2,330.9 244.5,330.0 244.8,333.4 245.0,327.2 245.2,334.8 245.5,330.3 245.8,332.0 246.0,333.5 246.2,327.2 246.5,327.4 246.8,332.9 247.0,327.9 247.2,327.7 247.5,327.8 247.8,328.9 248.0,328.9 248.2,326.2 248.5,324.9 248.8,324.9 249.0,325.0 249.2,326.4 249.5,323.6 249.8,326.2 250.0,320.6 250.2,322.6 250.5,324.3 250.8,322.9 251.0,320.6 251.2,317.8 251.5,317.7 251.8,318.2 252.0,318.6 252.2,317.1 252.5,314.3 252.8,315.2 253.0,317.1 253.2,317.2 253.5,312.5 253.8,314.0 254.0,311.0 254.2,312.7 254.5,320.2 254.8,313.1 255.0,311.9 255.2,311.0 255.5,309.5 255.8,307.8 256.0,311.0 256.2,310.3 256.5,313.4 256.8,307.0 257.0,310.8 257.2,312.2 257.5,305.4 257.8,310.3 258.0,305.5 258.2,309.4 258.5,311.1 258.8,307.9 259.0,308.3 259.2,306.3 259.5,308.1 259.8,309.7 260.0,307.2 260.2,307.3 260.5,308.5 260.8,309.6 261.0,305.0 261.2,308.7 261.5,307.6 261.8,310.3 262.0,311.7 262.2,310.7 262.5,313.1 262.8,309.1 263.0,310.7 263.2,310.1 263.5,312.8 263.8,313.6 264.0,313.9 264.2,312.9 264.5,316.0 264.8,316.3 265.0,319.3 265.2,318.6 265.5,322.3 265.8,321.5 266.0,318.6 266.2,322.6 266.5,321.2 266.8,326.5 267.0,328.2 267.2,326.5 267.5,328.3 267.8,325.8 268.0,325.4 268.2,329.3 268.5,330.8 268.8,329.5 269.0,333.3 269.2,334.6 269.5,336.1 269.8,338.6 270.0,338.2 270.2,337.1 270.5,338.8 270.8,340.5 271.0,338.6 271.2,343.4 271.5,343.5 271.8,342.4 272.0,342.5 272.2,350.5 272.5,346.4 272.8,347.2 273.0,349.3 273.2,348.7 273.5,348.1 273.8,349.6 274.0,347.7 274.2,351.0 274.5,348.1 274.8,351.9 275.0,352.7 275.2,350.1 275.5,356.1 275.8,352.1 276.0,356.0 276.2,354.3 276.5,356.1 276.8,355.3 277.0,360.6 277.2,358.9 277.5,360.6 277.8,359.6 278.0,360.0 278.2,359.7 278.5,359.6 278.8,361.3 279.0,361.1 279.2,361.1 279.5,359.8 279.8,361.7 280.0,363.4 280.2,362.2 280.5,363.7 280.8,363.4 281.0,362.5 281.2,363.0 281.5,363.6 281.8,364.6 282.0,364.9 282.2,367.2 282.5,364.4 282.8,363.4 283.0,367.5 283.2,366.3 283.5,367.0 283.8,371.0 284.0,369.8 284.2,368.9 284.5,369.7 284.8,368.8 285.0,370.2 285.2,368.4 285.5,368.5 285.8,369.1 286.0,372.1 286.2,372.3 286.5,369.7 286.8,372.3 287.0,370.8 287.2,372.7 287.5,371.0 287.8,373.0 288.0,371.8 288.2,371.8 288.5,372.3 288.8,372.8 289.0,372.0 289.2,371.2 289.5,375.3 289.8,372.8 290.0,371.2 290.2,370.8 290.5,370.2 290.8,373.2 291.0,375.9 291.2,372.2 291.5,374.1 291.8,372.3 292.0,376.2 292.2,375.4 292.5,375.5 292.8,376.9 293.0,377.4 293.2,376.7 293.5,374.8 293.8,374.0 294.0,374.5 294.2,373.7 294.5,378.3 294.8,375.9 295.0,376.4 295.2,376.6 295.5,379.0 295.8,375.8 296.0,378.1 296.2,377.1 296.5,376.6 296.8,374.5 297.0,378.2 297.2,376.2 297.5,376.6 297.8,377.6 298.0,377.5 298.2,378.9 298.5,376.7 298.8,377.9 299.0,378.1 299.2,377.9 299.5,378.8 299.8,377.7 300.0,379.6 300.2,377.3 300.5,376.5 300.8,378.3 301.0,379.8 301.2,377.8 301.5,377.8 301.8,378.2 302.0,378.9 302.2,378.5 302.5,379.2 302.8,376.8 303.0,380.8 303.2,379.7 303.5,378.0 303.8,380.8 304.0,379.8 304.2,381.1 304.5,377.9 304.8,381.4 305.0,379.5 305.2,377.0 305.5,380.5 305.8,379.3 306.0,378.5 306.2,379.5 306.5,377.5 306.8,380.6 307.0,379.7 307.2,379.7 307.5,381.8 307.8,380.1 308.0,379.4 308.2,379.1 308.5,380.2 308.8,381.6 309.0,379.7 309.2,379.2 309.5,381.6 309.8,380.6 310.0,380.5 310.2,383.1 310.5,379.2 310.8,381.0 311.0,378.6 311.2,380.5 311.5,381.6 311.8,382.2 312.0,379.4 312.2,382.0 312.5,382.0 312.8,380.9 313.0,384.0 313.2,381.2 313.5,380.2 313.8,381.8 314.0,379.1 314.2,383.2 314.5,382.5 314.8,380.9 315.0,382.2 315.2,382.1 315.5,383.8 315.8,380.8 316.0,380.1 316.2,379.2 316.5,381.3 316.8,379.9 317.0,381.6 317.2,382.3 317.5,381.3 317.8,380.8 318.0,383.3 318.2,381.7 318.5,382.3 318.8,383.1 319.0,380.5 319.2,381.0 319.5,385.1 319.8,382.0 320.0,381.0 320.2,382.0 320.5,381.6 320.8,380.9 321.0,381.9 321.2,382.4 321.5,382.4 321.8,383.1 322.0,380.5 322.2,380.8 322.5,383.5 322.8,382.1 323.0,384.1 323.2,383.1 323.5,381.1 323.8,383.4 324.0,381.7 324.2,383.2 324.5,384.4 324.8,385.4 325.0,383.0 325.2,383.9 325.5,383.5 325.8,384.1 326.0,380.3 326.2,382.8 326.5,383.7 326.8,383.9 327.0,382.6 327.2,384.5 327.5,384.8 327.8,383.7 328.0,383.4 328.2,383.3 328.5,384.0 328.8,385.2 329.0,385.6 329.2,383.4 329.5,383.0 329.8,383.2 330.0,385.3 330.2,384.5 330.5,384.6 330.8,384.9 331.0,384.8 331.2,384.3 331.5,383.3 331.8,383.9 332.0,384.8 332.2,385.1 332.5,384.3 332.8,384.3 333.0,386.4 333.2,384.4 333.5,385.2 333.8,384.7 334.0,384.1 334.2,383.4 334.5,384.6 334.8,384.3 335.0,386.2 335.2,384.1 335.5,384.9 335.8,386.2 336.0,385.4 336.2,386.1 336.5,386.5 336.8,383.8 337.0,385.2 337.2,384.7 337.5,387.2 337.8,385.7 338.0,386.4 338.2,387.7 338.5,385.5 338.8,386.0 339.0,386.4 339.2,385.7 339.5,387.4 339.8,386.9 340.0,387.1 340.2,386.1 340.5,385.7 340.8,385.7 341.0,385.7 341.2,384.3 341.5,386.5 341.8,387.0 342.0,386.2 342.2,385.6 342.5,386.2 342.8,386.5 343.0,386.6 343.2,388.2 343.5,385.3 343.8,386.6 344.0,387.0 344.2,386.4 344.5,386.0 344.8,385.2 345.0,385.7 345.2,387.1 345.5,387.9 345.8,385.6 346.0,386.8 346.2,386.9 346.5,387.4 346.8,386.6 347.0,386.9 347.2,387.4 347.5,385.1 347.8,386.5 348.0,384.5 348.2,384.3 348.5,385.6 348.8,384.8 349.0,387.0 349.2,387.6 349.5,386.2 349.8,386.4 350.0,386.3 350.2,386.3 350.5,386.7 350.8,387.0 351.0,386.1 351.2,385.8 351.5,386.1 351.8,387.6 352.0,386.3 352.2,388.3 352.5,386.6 352.8,388.3 353.0,385.6 353.2,386.2 353.5,387.5 353.8,387.6 354.0,386.9 354.2,389.3 354.5,387.3 354.8,387.5 355.0,386.7 355.2,389.1 355.5,388.3 355.8,387.9 356.0,385.8 356.2,387.9 356.5,387.1 356.8,388.1 357.0,388.7 357.2,387.0 357.5,388.0 357.8,388.8 358.0,388.1 358.2,387.6 358.5,386.9 358.8,387.4 359.0,386.8 359.2,389.2 359.5,388.3 359.8,387.0 360.0,388.3 360.2,387.0 360.5,385.0 360.8,389.7 361.0,389.7 361.2,387.0 361.5,387.8 361.8,388.8 362.0,388.2 362.2,387.7 362.5,388.1 362.8,388.4 363.0,388.1 363.2,388.9 363.5,388.5 363.8,388.0 364.0,388.8 364.2,387.1 364.5,390.3 364.8,387.0 365.0,388.7 365.2,389.1 365.5,389.2 365.8,389.0 366.0,390.1 366.2,387.6 366.5,388.7 366.8,388.9 367.0,388.2 367.2,388.1 367.5,390.0 367.8,388.0 368.0,388.2 368.2,388.4 368.5,388.4 368.8,388.8 369.0,388.4 369.2,388.9 369.5,388.7 369.8,389.0 370.0,389.9 370.2,387.6 370.5,390.1 370.8,387.9 371.0,389.0 371.2,388.5 371.5,388.0 371.8,386.2 372.0,389.9 372.2,387.4 372.5,387.3 372.8,389.2 373.0,388.1 373.2,390.0 373.5,389.7 373.8,388.7 374.0,388.2 374.2,388.6 374.5,386.5 374.8,388.0 375.0,387.9 375.2,387.2 375.5,387.9 375.8,386.1 376.0,388.5 376.2,388.8 376.5,386.1 376.8,387.6 377.0,389.0 377.2,387.7 377.5,386.2 377.8,386.2 378.0,388.1 378.2,389.0 378.5,385.9 378.8,387.1 379.0,386.2 379.2,386.6 379.5,387.2 379.8,386.8 380.0,386.1 380.2,388.9 380.5,386.5 380.8,386.4 381.0,387.7 381.2,386.5 381.5,386.3 381.8,387.4 382.0,385.3 382.2,387.1 382.5,387.4 382.8,386.9 383.0,386.0 383.2,386.1 383.5,384.3 383.8,385.9 384.0,386.3 384.2,386.9 384.5,386.1 384.8,385.5 385.0,385.0 385.2,385.8 385.5,385.9 385.8,387.0 386.0,385.7 386.2,385.1 386.5,385.5 386.8,385.1 387.0,385.3 387.2,383.2 387.5,383.8 387.8,384.2 388.0,385.9 388.2,385.3 388.5,385.5 388.8,386.5 389.0,384.2 389.2,386.5 389.5,385.6 389.8,384.5 390.0,386.8 390.2,383.7 390.5,384.0 390.8,384.9 391.0,385.5 391.2,384.9 391.5,382.8 391.8,384.8 392.0,385.0 392.2,387.7 392.5,386.5 392.8,385.2 393.0,383.9 393.2,385.4 393.5,383.8 393.8,385.2 394.0,385.4 394.2,384.6 394.5,385.3 394.8,384.7 395.0,384.5 395.2,386.7 395.5,385.7 395.8,384.8 396.0,384.4 396.2,385.4 396.5,385.9 396.8,386.2 397.0,386.9 397.2,385.9 397.5,384.3 397.8,387.6 398.0,386.8 398.2,386.5 398.5,387.1 398.8,384.2 399.0,385.4 399.2,385.3 399.5,387.2 399.8,384.8 400.0,385.7 400.2,387.7 400.5,386.9 400.8,385.9 401.0,388.3 401.2,385.1 401.5,387.0 401.8,386.4 402.0,387.2 402.2,386.5 402.5,386.0 402.8,387.1 403.0,385.6 403.2,387.6 403.5,386.8 403.8,388.2 404.0,386.9 404.2,386.7 404.5,387.9 404.8,388.8 405.0,385.5 405.2,387.8 405.5,388.4 405.8,386.4 406.0,387.0 406.2,388.6 406.5,387.2 406.8,387.5 407.0,389.9 407.2,387.3 407.5,387.4 407.8,386.0 408.0,387.3 408.2,387.2 408.5,390.2 408.8,389.8 409.0,387.3 409.2,390.6 409.5,389.5 409.8,388.5 410.0,389.6 410.2,389.2 410.5,388.1 410.8,387.1 411.0,388.0 411.2,388.9 411.5,388.6 411.8,388.2 412.0,390.0 412.2,388.0 412.5,389.9 412.8,388.6 413.0,389.2 413.2,388.0 413.5,389.2 413.8,388.4 414.0,387.5 414.2,389.2 414.5,389.2 414.8,390.1 415.0,389.6 415.2,388.4 415.5,388.8 415.8,387.0 416.0,388.3 416.2,390.7 416.5,391.0 416.8,390.3 417.0,389.8 417.2,390.1 417.5,390.1 417.8,387.9 418.0,388.8 418.2,390.8 418.5,390.8 418.8,390.0 419.0,389.4 419.2,389.4 419.5,389.3 419.8,388.9 420.0,388.0 420.2,390.0 420.5,389.4 420.8,389.7 421.0,391.6 421.2,390.5 421.5,389.3 421.8,390.6 422.0,388.5 422.2,391.1 422.5,390.3 422.8,389.9 423.0,390.7 423.2,391.5 423.5,389.7 423.8,389.2 424.0,392.2 424.2,390.2 424.5,391.7 424.8,389.6 425.0,390.6 425.2,389.7 425.5,390.9 425.8,390.1 426.0,389.7 426.2,391.9 426.5,390.7 426.8,388.4 427.0,390.2 427.2,389.6 427.5,389.3 427.8,389.9 428.0,390.0 428.2,390.5 428.5,389.8 428.8,388.8 429.0,390.1 429.2,391.4 429.5,389.3 429.8,391.2 430.0,391.1 430.2,390.2 430.5,391.0 430.8,390.0 431.0,390.3 431.2,389.7 431.5,391.2 431.8,392.1 432.0,390.1 432.2,392.0 432.5,388.8 432.8,390.0 433.0,389.9 433.2,392.5 433.5,390.3 433.8,391.6 434.0,388.9 434.2,391.0 434.5,391.5 434.8,390.9 435.0,388.4 435.2,391.2 435.5,391.8 435.8,392.3 436.0,391.4 436.2,389.4 436.5,390.9 436.8,392.0 437.0,390.3 437.2,391.7 437.5,390.7 437.8,391.2 438.0,391.9 438.2,390.5 438.5,393.9 438.8,391.4 439.0,391.6 439.2,390.5 439.5,391.3 439.8,391.0 440.0,389.9 440.2,389.8 440.5,391.6 440.8,391.2 441.0,388.8 441.2,389.3 441.5,391.1 441.8,391.3 442.0,392.0 442.2,390.2 442.5,392.0 442.8,391.2 443.0,391.0 443.2,391.3 443.5,392.4 443.8,392.0 444.0,392.4 444.2,390.9 444.5,391.3 444.8,390.4 445.0,391.0 445.2,391.2 445.5,391.2 445.8,392.3 446.0,392.0 446.2,392.4 446.5,391.8 446.8,392.7 447.0,391.8 447.2,392.6 447.5,392.2 447.8,392.4 448.0,391.7 448.2,390.6 448.5,390.4 448.8,393.6 449.0,392.2 449.2,392.2 449.5,391.7 449.8,391.4 450.0,394.6 450.2,390.8 450.5,391.8 450.8,391.9 451.0,390.8 451.2,390.7 451.5,391.3 451.8,391.6 452.0,391.5 452.2,392.8 452.5,390.9 452.8,392.4 453.0,393.4 453.2,392.9 453.5,391.0 453.8,389.3 454.0,392.9 454.2,392.6 454.5,391.6 454.8,393.3 455.0,391.8 455.2,392.3 455.5,391.2 455.8,392.5 456.0,391.8 456.2,391.7 456.5,393.2 456.8,392.4 457.0,390.8 457.2,392.9 457.5,393.1 457.8,391.5 458.0,391.9 458.2,392.4 458.5,392.1 458.8,392.5 459.0,393.0 459.2,391.9 459.5,394.3 459.8,391.7 460.0,391.9 460.2,394.3 460.5,394.7 460.8,392.5 461.0,392.3 461.2,391.5 461.5,393.6 461.8,392.7 462.0,391.7 462.2,392.9 462.5,393.8 462.8,393.2 463.0,394.6 463.2,393.7 463.5,393.0 463.8,392.6 464.0,393.1 464.2,393.8 464.5,393.4 464.8,393.6 465.0,392.9 465.2,393.4 465.5,393.8 465.8,392.5 466.0,391.5 466.2,394.3 466.5,393.3 466.8,392.3 467.0,393.0 467.2,392.5 467.5,391.2 467.8,392.6 468.0,391.5 468.2,393.0 468.5,392.7 468.8,393.9 469.0,392.7 469.2,393.2 469.5,392.6 469.8,392.5 470.0,391.6 470.2,393.8 470.5,393.1 470.8,392.4 471.0,393.1 471.2,392.6 471.5,392.3 471.8,393.2 472.0,394.1 472.2,392.8 472.5,391.7 472.8,392.5 473.0,394.7 473.2,392.3 473.5,394.2 473.8,392.9 474.0,393.8 474.2,393.0 474.5,391.6 474.8,392.7 475.0,395.1 475.2,393.0 475.5,393.7 475.8,392.8 476.0,393.0 476.2,393.5 476.5,393.6 476.8,395.2 477.0,393.2 477.2,393.1 477.5,392.6 477.8,392.0 478.0,391.8 478.2,393.9 478.5,391.6 478.8,394.6 479.0,394.1 479.2,393.0 479.5,392.3 479.8,393.4 480.0,393.4 480.2,394.4 480.5,392.7 480.8,393.0 481.0,393.3 481.2,393.1 481.5,392.8 481.8,391.8 482.0,391.9 482.2,392.8 482.5,393.2 482.8,394.4 483.0,395.6 483.2,395.0 483.5,393.9 483.8,395.2 484.0,393.4 484.2,393.0 484.5,395.6 484.8,392.6 485.0,393.2 485.2,393.3 485.5,394.9 485.8,393.0 486.0,394.3 486.2,393.2 486.5,392.5 486.8,393.8 487.0,393.8 487.2,392.6 487.5,392.9 487.8,392.9 488.0,394.5 488.2,394.1 488.5,393.9 488.8,394.1 489.0,393.3 489.2,394.2 489.5,393.2 489.8,392.5 490.0,393.1 490.2,394.0 490.5,393.9 490.8,394.7 491.0,392.3 491.2,393.6 491.5,394.2 491.8,393.0 492.0,394.1 492.2,393.5 492.5,392.8 492.8,394.9 493.0,392.6 493.2,394.8 493.5,393.5 493.8,393.1 494.0,393.1 494.2,393.3 494.5,393.2 494.8,394.2 495.0,392.3 495.2,395.1 495.5,394.7 495.8,395.2 496.0,393.1 496.2,391.9 496.5,393.4 496.8,393.9 497.0,394.3 497.2,393.6 497.5,394.0 497.8,394.2 498.0,392.7 498.2,395.7 498.5,393.1 498.8,394.3 499.0,395.1 499.2,393.4 499.5,394.1 499.8,395.6 500.0,393.9 500.2,395.1 500.5,394.4 500.8,394.4 501.0,394.8 501.2,394.0 501.5,394.0 501.8,395.0 502.0,394.4 502.2,394.6 502.5,393.1 502.8,394.2 503.0,395.3 503.2,395.0 503.5,394.6 503.8,393.8 504.0,393.7 504.2,394.7 504.5,395.5 504.8,394.3 505.0,395.5 505.2,394.0 505.5,395.4 505.8,393.4 506.0,394.5 506.2,393.4 506.5,394.9 506.8,394.9 507.0,393.5 507.2,393.7 507.5,394.0 507.8,393.1 508.0,393.6 508.2,393.6 508.5,395.1 508.8,395.7 509.0,394.0 509.2,394.2 509.5,394.6 509.8,394.0 510.0,394.2 510.2,395.2 510.5,394.7 510.8,394.4 511.0,394.0 511.2,395.8 511.5,394.0 511.8,394.6 512.0,393.6 512.2,394.0 512.5,394.7 512.8,394.2 513.0,395.1 513.2,394.7 513.5,393.4 513.8,392.6 514.0,395.5 514.2,394.1 514.5,395.9 514.8,394.7 515.0,394.0 515.2,395.2 515.5,394.4 515.8,394.7 516.0,393.9 516.2,395.3 516.5,395.7 516.8,394.3 517.0,396.3 517.2,394.2 517.5,395.0 517.8,393.3 518.0,393.1 518.2,396.6 518.5,396.0 518.8,395.8 519.0,393.3 519.2,395.0 519.5,395.2 519.8,394.9 520.0,395.1 520.2,394.0 520.5,394.7 520.8,393.9 521.0,394.6 521.2,395.2 521.5,394.2 521.8,394.7 522.0,394.5 522.2,394.9 522.5,395.7 522.8,395.1 523.0,395.3 523.2,393.7 523.5,394.6 523.8,395.7 524.0,394.2 524.2,394.6 524.5,394.2 524.8,396.2 525.0,394.6 525.2,394.4 525.5,395.6 525.8,396.0 526.0,395.5 526.2,395.9 526.5,395.3 526.8,395.0 527.0,394.7 527.2,394.7 527.5,394.6 527.8,395.4 528.0,395.0 528.2,395.2 528.5,395.7 528.8,395.1 529.0,394.0 529.2,394.5 529.5,394.2 529.8,393.5 530.0,395.3 530.2,394.2 530.5,394.1 530.8,394.3 531.0,396.0 531.2,395.0 531.5,396.2 531.8,395.2 532.0,394.9 532.2,395.8 532.5,395.8 532.8,395.4 533.0,394.5 533.2,395.0 533.5,394.4 533.8,395.2 534.0,395.5 534.2,396.7 534.5,396.6 534.8,396.0 535.0,396.3 535.2,395.7 535.5,397.9 535.8,396.8 536.0,397.8 536.2,395.8 536.5,395.9 536.8,396.5 537.0,395.7 537.2,395.8 537.5,394.7 537.8,396.4 538.0,395.7 538.2,396.3 538.5,395.5 538.8,394.1 539.0,396.1 539.2,396.7 539.5,394.6 539.8,394.9 540.0,395.5 540.2,395.6 540.5,394.3 540.8,397.3 541.0,396.7 541.2,395.3 541.5,394.3 541.8,396.2 542.0,397.6 542.2,396.6 542.5,396.9 542.8,395.1 543.0,396.2 543.2,394.7 543.5,397.7 543.8,396.5 544.0,394.3 544.2,394.5 544.5,396.5 544.8,396.2 545.0,395.9 545.2,396.7 545.5,397.9 545.8,396.5 546.0,394.7 546.2,396.1 546.5,395.1 546.8,395.6 547.0,396.6 547.2,396.2 547.5,395.4 547.8,396.3 548.0,395.7 548.2,396.9 548.5,396.2 548.8,396.8 549.0,396.2 549.2,397.1 549.5,396.4 549.8,396.5 550.0,396.1 550.2,396.7 550.5,395.1 550.8,398.9 551.0,396.1 551.2,396.8 551.5,396.3 551.8,396.3 552.0,397.1 552.2,396.3 552.5,396.4 552.8,395.6 553.0,396.0 553.2,395.9 553.5,398.4 553.8,395.8 554.0,396.0 554.2,397.1 554.5,398.1 554.8,395.6 555.0,395.7 555.2,397.1 555.5,397.3 555.8,395.9 556.0,395.6 556.2,396.3 556.5,397.7 556.8,397.1 557.0,397.8 557.2,397.1 557.5,397.2 557.8,397.7 558.0,397.2 558.2,397.5 558.5,396.5 558.8,396.8 559.0,397.7 559.2,397.2 559.5,396.8 559.8,397.9 560.0,397.9 560.2,397.4 560.5,396.8 560.8,398.2 561.0,399.5 561.2,396.8 561.5,396.2 561.8,396.9 562.0,396.8 562.2,396.5 562.5,396.6 562.8,398.3 563.0,398.3 563.2,398.9 563.5,398.3 563.8,397.3 564.0,398.6 564.2,397.2 564.5,397.5 564.8,396.8 565.0,398.8 565.2,398.6 565.5,397.4 565.8,397.6 566.0,397.9 566.2,398.0 566.5,398.6 566.8,398.0 567.0,398.3 567.2,396.7 567.5,397.7 567.8,396.5 568.0,399.5 568.2,399.2 568.5,398.6 568.8,399.0 569.0,399.7 569.2,398.9 569.5,396.8 569.8,398.0 570.0,396.3 570.2,397.5 570.5,397.2 570.8,398.2 571.0,398.6 571.2,397.5 571.5,398.1 571.8,398.5 572.0,398.2 572.2,398.2 572.5,396.4 572.8,398.0 573.0,399.0 573.2,398.6 573.5,397.2 573.8,398.2 574.0,398.7 574.2,397.7 574.5,399.1 574.8,397.9 575.0,398.3 575.2,398.5 575.5,400.4 575.8,398.3 576.0,398.2 576.2,399.2 576.5,398.3 576.8,398.8 577.0,396.9 577.2,398.9 577.5,398.7 577.8,397.7 578.0,399.8 578.2,398.6 578.5,398.6 578.8,397.8 579.0,397.5 579.2,398.4 579.5,397.6 579.8,399.3 580.0,399.6 580.2,398.4 580.5,397.6 580.8,398.6 581.0,398.1 581.2,399.1 581.5,399.1 581.8,398.7 582.0,399.1 582.2,399.8 582.5,400.4 582.8,398.6 583.0,399.6 583.2,398.9 583.5,398.3 583.8,400.1 584.0,399.4 584.2,399.2 584.5,399.4 584.8,399.0 585.0,398.3 585.2,400.6 585.5,399.9 585.8,399.4 586.0,400.0 586.2,400.2 586.5,399.1 586.8,399.7 587.0,399.0 587.2,399.8 587.5,399.1 587.8,401.2 588.0,399.0 588.2,399.7 588.5,399.7 588.8,399.1 589.0,400.1 589.2,399.3 589.5,399.1 589.8,399.4 590.0,398.8 590.2,400.3 590.5,399.9 590.8,400.2 591.0,398.4 591.2,399.7 591.5,398.9 591.8,399.5 592.0,400.5 592.2,399.7 592.5,399.4 592.8,400.4 593.0,400.3 593.2,401.0 593.5,398.1 593.8,399.8 594.0,399.2 594.2,398.9 594.5,399.7 594.8,398.7 595.0,397.9 595.2,398.9 595.5,399.4 595.8,401.1 596.0,399.1 596.2,398.7 596.5,398.1 596.8,399.4 597.0,399.5 597.2,399.8 597.5,398.6 597.8,399.1 598.0,398.0 598.2,399.9 598.5,398.5 598.8,397.6 599.0,400.7 599.2,400.2 599.5,400.0 599.8,400.1 600.0,399.0 600.2,400.6 600.5,399.0 600.8,401.3 601.0,400.0 601.2,398.4 601.5,400.5 601.8,401.4 602.0,399.7 602.2,400.7 602.5,399.7 602.8,399.4 603.0,397.9 603.2,400.9 603.5,399.6 603.8,400.2 604.0,399.1 604.2,399.2 604.5,400.8 604.8,399.7 605.0,399.7 605.2,399.0 605.5,400.1 605.8,400.6 606.0,399.6 606.2,399.9 606.5,399.1 606.8,401.1 607.0,399.6 607.2,399.9 607.5,401.3 607.8,399.9 608.0,398.9 608.2,399.4 608.5,399.8 608.8,401.5 609.0,400.3 609.2,399.9 609.5,400.8 609.8,401.1 610.0,399.5 610.2,401.2 610.5,400.8 610.8,400.5 611.0,398.3 611.2,400.3 611.5,401.2 611.8,400.0 612.0,402.0 612.2,400.3 612.5,399.4 612.8,400.7 613.0,400.4 613.2,400.9 613.5,400.1 613.8,401.2 614.0,399.8 614.2,400.4 614.5,399.3 614.8,399.7 615.0,400.4 615.2,399.8 615.5,399.9 615.8,400.1 616.0,400.5 616.2,400.9 616.5,400.9 616.8,401.1 617.0,400.5 617.2,399.9 617.5,399.1 617.8,400.1 618.0,399.7 618.2,399.0 618.5,401.6 618.8,399.0 619.0,400.7 619.2,400.8 619.5,400.2 619.8,402.4 620.0,400.4 620.2,399.8 620.5,401.8 620.8,399.8 621.0,399.3 621.2,399.7 621.5,399.9 621.8,400.5 622.0,400.7 622.2,399.3 622.5,400.7 622.8,402.2 623.0,399.9 623.2,400.4 623.5,401.0 623.8,401.4 624.0,400.0 624.2,399.8 624.5,399.7 624.8,401.4 625.0,401.2 625.2,398.9 625.5,398.9 625.8,399.6 626.0,399.4 626.2,400.9 626.5,400.7 626.8,402.1 627.0,401.2 627.2,400.7 627.5,401.5 627.8,399.9 628.0,399.5 628.2,400.6 628.5,401.3 628.8,399.4 629.0,401.3 629.2,401.3 629.5,400.2 629.8,400.7 630.0,400.4 630.2,400.7 630.5,401.3 630.8,400.0 631.0,401.4 631.2,401.3 631.5,401.3 631.8,399.2 632.0,399.2 632.2,401.2 632.5,400.2 632.8,400.2 633.0,400.1 633.2,399.7 633.5,400.5 633.8,400.1 634.0,400.2 634.2,401.1 634.5,399.8 634.8,401.6 635.0,399.0 635.2,402.6 635.5,399.7 635.8,401.2 636.0,401.4 636.2,400.7 636.5,401.3 636.8,400.7 637.0,399.4 637.2,401.0 637.5,401.6 637.8,400.4 638.0,399.5 638.2,400.3 638.5,401.0 638.8,401.0 639.0,401.6 639.2,401.2 639.5,401.2 639.8,399.3 640.0,402.5 640.2,400.9 640.5,401.5 640.8,400.6 641.0,400.7 641.2,400.9 641.5,402.0 641.8,402.0 642.0,401.3 642.2,402.4 642.5,400.6 642.8,401.3 643.0,400.5 643.2,401.9 643.5,400.9 643.8,401.6 644.0,402.2 644.2,399.3 644.5,402.6 644.8,401.2 645.0,400.7 645.2,399.5 645.5,400.7 645.8,399.2 646.0,401.0 646.2,400.8 646.5,402.3 646.8,400.7 647.0,401.8 647.2,401.8 647.5,402.5 647.8,400.8 648.0,401.5 648.2,399.8 648.5,400.1 648.8,400.8 649.0,401.0 649.2,400.1 649.5,400.7 649.8,401.5 650.0,400.7 650.2,400.9 650.5,400.3 650.8,402.1 651.0,402.4 651.2,401.2 651.5,400.9 651.8,402.3 652.0,401.4 652.2,400.5 652.5,400.0 652.8,400.6 653.0,402.7 653.2,400.6 653.5,403.3 653.8,401.1 654.0,400.9 654.2,402.1 654.5,400.9 654.8,401.4 655.0,400.3 655.2,400.1 655.5,400.5 655.8,401.3 656.0,400.6 656.2,399.6 656.5,401.5 656.8,401.0 657.0,400.9 657.2,400.7 657.5,399.4 657.8,402.3 658.0,400.8 658.2,401.5 658.5,402.2 658.8,402.0 659.0,401.3 659.2,401.1 659.5,401.4 659.8,401.8 660.0,401.6 660.2,400.8 660.5,401.5 660.8,401.4 661.0,401.7 661.2,401.3 661.5,402.2 661.8,401.3 662.0,401.8 662.2,401.2 662.5,400.7 662.8,400.5 663.0,401.1 663.2,401.6 663.5,402.1 663.8,401.1 664.0,400.8 664.2,400.8 664.5,402.2 664.8,401.3 665.0,400.8 665.2,401.8 665.5,400.2 665.8,401.3 666.0,401.2 666.2,401.1 666.5,400.3 666.8,402.0 667.0,402.5 667.2,400.2 667.5,401.3 667.8,401.7 668.0,402.9 668.2,400.9 668.5,400.5 668.8,401.2 669.0,402.7 669.2,401.3 669.5,401.4 669.8,402.6 670.0,399.6 670.2,399.6 670.5,401.9 670.8,401.8 671.0,400.2"/>
<polyline fill="none" stroke="#cc9900" stroke-width="2.5" stroke-linejoin="round" points="67.5,416.3 67.8,415.9 68.0,416.0 68.2,415.1 68.5,415.4 68.8,415.0 69.0,415.9 69.2,415.7 69.5,417.5 69.8,416.5 70.0,414.4 70.2,416.3 70.5,417.3 70.8,416.2 71.0,417.0 71.2,416.0 71.5,416.7 71.8,415.1 72.0,416.8 72.2,414.7 72.5,417.3 72.8,414.6 73.0,414.0 73.2,416.6 73.5,415.9 73.8,416.2 74.0,416.5 74.2,416.1 74.5,415.2 74.8,416.3 75.0,416.4 75.2,416.6 75.5,418.0 75.8,415.4 76.0,416.2 76.2,416.7 76.5,415.7 76.8,415.0 77.0,415.6 77.2,417.2 77.5,415.9 77.8,416.7 78.0,415.5 78.2,416.6 78.5,415.5 78.8,415.4 79.0,416.3 79.2,416.2 79.5,417.6 79.8,414.6 80.0,416.7 80.2,417.7 80.5,417.5 80.8,415.8 81.0,415.5 81.2,415.7 81.5,416.5 81.8,416.4 82.0,416.5 82.2,416.8 82.5,415.2 82.8,415.1 83.0,415.0 83.2,414.9 83.5,416.1 83.8,416.5 84.0,418.6 84.2,416.7 84.5,416.2 84.8,417.6 85.0,415.5 85.2,416.5 85.5,417.1 85.8,417.0 86.0,416.6 86.2,415.9 86.5,415.0 86.8,416.1 87.0,415.6 87.2,416.9 87.5,416.1 87.8,416.7 88.0,414.6 88.2,417.1 88.5,415.3 88.8,414.6 89.0,414.8 89.2,415.5 89.5,417.2 89.8,416.7 90.0,414.9 90.2,416.1 90.5,415.9 90.8,414.5 91.0,415.0 91.2,414.0 91.5,415.1 91.8,413.3 92.0,415.1 92.2,414.9 92.5,415.0 92.8,414.9 93.0,416.8 93.2,415.3 93.5,415.8 93.8,416.3 94.0,416.4 94.2,416.2 94.5,414.9 94.8,414.4 95.0,414.6 95.2,414.9 95.5,415.3 95.8,415.2 96.0,416.3 96.2,415.1 96.5,416.9 96.8,416.1 97.0,414.6 97.2,415.8 97.5,412.1 97.8,416.2 98.0,415.3 98.2,415.2 98.5,413.1 98.8,417.2 99.0,414.4 99.2,414.5 99.5,415.7 99.8,414.4 100.0,413.7 100.2,415.1 100.5,413.4 100.8,415.1 101.0,414.5 101.2,415.4 101.5,413.0 101.8,415.4 102.0,414.4 102.2,416.0 102.5,413.4 102.8,415.8 103.0,414.6 103.2,414.6 103.5,413.1 103.8,414.3 104.0,414.3 104.2,412.8 104.5,412.4 104.8,412.7 105.0,414.8 105.2,413.5 105.5,414.2 105.8,413.5 106.0,413.2 106.2,413.3 106.5,412.6 106.8,414.1 107.0,413.0 107.2,413.0 107.5,411.3 107.8,412.9 108.0,411.9 108.2,412.0 108.5,413.4 108.8,411.2 109.0,412.1 109.2,412.8 109.5,413.3 109.8,411.5 110.0,412.3 110.2,412.2 110.5,410.7 110.8,409.6 111.0,409.7 111.2,412.2 111.5,411.6 111.8,410.1 112.0,410.7 112.2,410.9 112.5,410.9 112.8,411.1 113.0,413.3 113.2,410.2 113.5,411.1 113.8,410.1 114.0,410.1 114.2,409.8 114.5,410.4 114.8,410.0 115.0,410.9 115.2,410.6 115.5,409.4 115.8,412.3 116.0,409.0 116.2,410.5 116.5,412.3 116.8,409.3 117.0,411.3 117.2,411.3 117.5,410.1 117.8,407.8 118.0,411.1 118.2,409.7 118.5,408.9 118.8,410.8 119.0,408.6 119.2,410.4 119.5,408.6 119.8,409.7 120.0,407.9 120.2,408.6 120.5,408.0 120.8,408.1 121.0,409.0 121.2,408.5 121.5,408.8 121.8,409.9 122.0,408.4 122.2,406.4 122.5,408.0 122.8,408.3 123.0,409.3 123.2,409.2 123.5,409.0 123.8,407.7 124.0,408.6 124.2,406.3 124.5,409.1 124.8,408.1 125.0,408.1 125.2,407.1 125.5,407.5 125.8,406.7 126.0,407.9 126.2,405.8 126.5,408.2 126.8,407.7 127.0,409.2 127.2,406.9 127.5,406.8 127.8,407.0 128.0,406.8 128.2,406.5 128.5,405.4 128.8,405.3 129.0,405.8 129.2,406.1 129.5,405.0 129.8,405.0 130.0,405.9 130.2,406.9 130.5,405.8 130.8,406.7 131.0,407.0 131.2,406.7 131.5,405.3 131.8,405.3 132.0,403.6 132.2,404.9 132.5,406.1 132.8,404.3 133.0,406.9 133.2,407.0 133.5,404.9 133.8,406.3 134.0,403.6 134.2,404.0 134.5,404.7 134.8,405.0 135.0,404.8 135.2,404.0 135.5,407.0 135.8,405.1 136.0,405.1 136.2,405.4 136.5,404.8 136.8,404.3 137.0,403.9 137.2,402.6 137.5,406.0 137.8,403.3 138.0,402.4 138.2,403.3 138.5,402.4 138.8,406.3 139.0,404.4 139.2,405.5 139.5,405.5 139.8,404.4 140.0,404.4 140.2,402.9 140.5,403.5 140.8,402.9 141.0,403.5 141.2,402.6 141.5,404.7 141.8,404.1 142.0,403.1 142.2,401.2 142.5,403.8 142.8,403.9 143.0,402.8 143.2,401.4 143.5,403.2 143.8,403.8 144.0,400.4 144.2,403.1 144.5,400.3 144.8,402.4 145.0,404.2 145.2,402.2 145.5,402.5 145.8,401.5 146.0,401.8 146.2,404.4 146.5,403.1 146.8,401.2 147.0,401.0 147.2,401.3 147.5,403.7 147.8,401.3 148.0,402.3 148.2,400.5 148.5,399.3 148.8,402.2 149.0,400.5 149.2,399.5 149.5,399.5 149.8,399.4 150.0,399.4 150.2,398.2 150.5,401.3 150.8,400.2 151.0,400.8 151.2,399.1 151.5,399.8 151.8,399.4 152.0,400.5 152.2,400.0 152.5,399.3 152.8,398.0 153.0,397.2 153.2,397.5 153.5,397.6 153.8,397.6 154.0,396.6 154.2,399.9 154.5,398.1 154.8,395.3 155.0,396.2 155.2,395.8 155.5,397.5 155.8,398.4 156.0,395.8 156.2,397.5 156.5,396.3 156.8,397.9 157.0,398.0 157.2,396.6 157.5,396.9 157.8,395.9 158.0,395.3 158.2,394.2 158.5,395.8 158.8,395.2 159.0,394.6 159.2,394.8 159.5,394.5 159.8,393.3 160.0,393.7 160.2,395.6 160.5,393.7 160.8,395.5 161.0,392.1 161.2,391.7 161.5,393.3 161.8,393.9 162.0,391.9 162.2,393.2 162.5,393.4 162.8,393.4 163.0,391.7 163.2,391.5 163.5,389.3 163.8,391.2 164.0,391.2 164.2,392.4 164.5,388.8 164.8,389.2 165.0,388.7 165.2,390.9 165.5,386.4 165.8,388.0 166.0,391.8 166.2,389.8 166.5,387.0 166.8,388.5 167.0,389.4 167.2,388.9 167.5,387.7 167.8,386.8 168.0,388.7 168.2,387.4 168.5,388.3 168.8,387.5 169.0,386.2 169.2,388.5 169.5,385.8 169.8,386.8 170.0,385.2 170.2,385.6 170.5,385.4 170.8,384.6 171.0,385.6 171.2,386.8 171.5,387.4 171.8,386.6 172.0,384.3 172.2,386.3 172.5,384.8 172.8,386.4 173.0,382.2 173.2,385.7 173.5,382.8 173.8,385.0 174.0,382.7 174.2,384.3 174.5,382.6 174.8,380.3 175.0,381.4 175.2,382.3 175.5,382.5 175.8,379.4 176.0,380.7 176.2,381.2 176.5,381.8 176.8,382.2 177.0,380.7 177.2,379.7 177.5,382.0 177.8,381.1 178.0,382.6 178.2,380.6 178.5,382.1 178.8,379.9 179.0,381.3 179.2,381.0 179.5,381.4 179.8,379.4 180.0,380.4 180.2,379.4 180.5,380.2 180.8,381.2 181.0,384.3 181.2,380.2 181.5,381.1 181.8,380.2 182.0,381.5 182.2,380.5 182.5,381.3 182.8,380.3 183.0,383.0 183.2,381.6 183.5,377.4 183.8,380.1 184.0,379.7 184.2,376.6 184.5,378.4 184.8,379.0 185.0,378.6 185.2,379.8 185.5,377.2 185.8,380.7 186.0,380.7 186.2,380.2 186.5,379.3 186.8,379.8 187.0,379.2 187.2,381.4 187.5,380.6 187.8,382.6 188.0,379.5 188.2,382.0 188.5,379.3 188.8,379.9 189.0,378.8 189.2,381.0 189.5,380.3 189.8,381.2 190.0,382.5 190.2,380.5 190.5,381.1 190.8,381.9 191.0,380.7 191.2,380.1 191.5,381.4 191.8,381.7 192.0,382.2 192.2,382.3 192.5,380.4 192.8,382.0 193.0,383.1 193.2,381.0 193.5,382.1 193.8,380.9 194.0,382.1 194.2,384.2 194.5,382.3 194.8,380.8 195.0,382.7 195.2,382.6 195.5,383.9 195.8,380.7 196.0,381.4 196.2,382.6 196.5,380.7 196.8,384.3 197.0,380.3 197.2,381.9 197.5,381.2 197.8,382.3 198.0,384.3 198.2,384.1 198.5,384.6 198.8,384.3 199.0,380.9 199.2,384.0 199.5,381.3 199.8,383.1 200.0,383.3 200.2,383.2 200.5,384.6 200.8,382.9 201.0,386.3 201.2,384.9 201.5,385.7 201.8,385.2 202.0,385.5 202.2,384.3 202.5,387.0 202.8,383.2 203.0,385.2 203.2,384.7 203.5,384.4 203.8,385.2 204.0,383.9 204.2,386.1 204.5,386.0 204.8,385.2 205.0,386.1 205.2,383.9 205.5,383.0 205.8,384.6 206.0,385.1 206.2,388.7 206.5,385.3 206.8,387.0 207.0,386.8 207.2,388.5 207.5,386.0 207.8,386.8 208.0,385.7 208.2,385.0 208.5,384.8 208.8,385.2 209.0,388.1 209.2,386.7 209.5,386.2 209.8,386.5 210.0,385.8 210.2,386.5 210.5,386.6 210.8,387.5 211.0,387.9 211.2,384.7 211.5,387.1 211.8,388.6 212.0,385.6 212.2,386.7 212.5,387.2 212.8,388.5 213.0,387.9 213.2,386.9 213.5,387.8 213.8,388.5 214.0,387.8 214.2,389.6 214.5,387.9 214.8,386.0 215.0,386.4 215.2,387.2 215.5,387.2 215.8,388.2 216.0,387.9 216.2,389.6 216.5,388.5 216.8,389.4 217.0,386.6 217.2,387.0 217.5,388.4 217.8,387.6 218.0,388.3 218.2,387.8 218.5,386.7 218.8,389.6 219.0,388.8 219.2,385.4 219.5,386.5 219.8,387.2 220.0,388.0 220.2,387.0 220.5,385.3 220.8,387.9 221.0,386.5 221.2,388.2 221.5,387.0 221.8,387.7 222.0,387.4 222.2,387.3 222.5,385.4 222.8,387.3 223.0,386.1 223.2,384.1 223.5,385.0 223.8,385.0 224.0,385.8 224.2,386.0 224.5,383.5 224.8,385.7 225.0,384.5 225.2,383.1 225.5,385.3 225.8,383.1 226.0,382.4 226.2,384.7 226.5,384.7 226.8,382.5 227.0,384.6 227.2,384.3 227.5,382.2 227.8,385.3 228.0,382.4 228.2,382.6 228.5,379.0 228.8,382.8 229.0,380.9 229.2,382.2 229.5,379.2 229.8,382.7 230.0,382.9 230.2,383.3 230.5,376.8 230.8,381.2 231.0,380.7 231.2,376.1 231.5,378.9 231.8,379.5 232.0,381.3 232.2,378.1 232.5,379.2 232.8,378.6 233.0,379.0 233.2,377.7 233.5,379.2 233.8,379.0 234.0,375.6 234.2,378.7 234.5,375.9 234.8,376.2 235.0,377.9 235.2,376.2 235.5,376.6 235.8,376.6 236.0,376.0 236.2,374.1 236.5,373.3 236.8,375.2 237.0,375.0 237.2,374.1 237.5,373.1 237.8,374.2 238.0,372.7 238.2,370.5 238.5,372.4 238.8,372.4 239.0,372.5 239.2,369.8 239.5,369.7 239.8,370.9 240.0,369.4 240.2,369.6 240.5,370.7 240.8,369.5 241.0,371.2 241.2,368.6 241.5,370.2 241.8,368.9 242.0,370.6 242.2,366.5 242.5,365.9 242.8,367.4 243.0,364.3 243.2,363.9 243.5,364.5 243.8,364.2 244.0,361.1 244.2,363.1 244.5,361.7 244.8,361.7 245.0,361.5 245.2,360.5 245.5,361.9 245.8,360.6 246.0,359.1 246.2,359.0 246.5,360.1 246.8,359.3 247.0,359.6 247.2,357.0 247.5,357.1 247.8,359.5 248.0,356.1 248.2,358.4 248.5,356.7 248.8,354.5 249.0,352.7 249.2,355.5 249.5,353.2 249.8,352.8 250.0,351.0 250.2,355.2 250.5,353.2 250.8,352.7 251.0,353.0 251.2,352.5 251.5,351.9 251.8,352.3 252.0,350.7 252.2,346.8 252.5,351.7 252.8,351.0 253.0,350.0 253.2,352.2 253.5,347.2 253.8,344.6 254.0,351.3 254.2,349.3 254.5,345.8 254.8,347.5 255.0,349.0 255.2,345.8 255.5,348.4 255.8,350.7 256.0,349.4 256.2,347.0 256.5,347.4 256.8,345.2 257.0,346.8 257.2,346.0 257.5,344.8 257.8,344.2 258.0,349.3 258.2,346.3 258.5,344.5 258.8,345.5 259.0,348.6 259.2,348.9 259.5,345.4 259.8,346.9 260.0,348.2 260.2,346.4 260.5,345.4 260.8,346.0 261.0,347.9 261.2,347.1 261.5,346.7 261.8,348.8 262.0,351.1 262.2,351.2 262.5,350.3 262.8,354.1 263.0,350.5 263.2,352.2 263.5,350.7 263.8,354.6 264.0,353.9 264.2,352.1 264.5,354.0 264.8,358.6 265.0,357.6 265.2,357.4 265.5,359.1 265.8,356.1 266.0,357.8 266.2,357.7 266.5,359.1 266.8,360.3 267.0,362.3 267.2,363.6 267.5,364.1 267.8,367.1 268.0,363.1 268.2,364.4 268.5,365.8 268.8,364.6 269.0,366.0 269.2,367.7 269.5,366.6 269.8,369.3 270.0,371.1 270.2,368.5 270.5,367.6 270.8,371.7 271.0,370.9 271.2,373.2 271.5,373.1 271.8,374.8 272.0,376.6 272.2,376.8 272.5,375.9 272.8,375.4 273.0,374.3 273.2,375.3 273.5,377.6 273.8,379.2 274.0,378.7 274.2,379.2 274.5,378.4 274.8,378.8 275.0,379.1 275.2,382.5 275.5,379.6 275.8,383.4 276.0,381.8 276.2,384.0 276.5,384.0 276.8,385.1 277.0,386.0 277.2,383.9 277.5,384.0 277.8,385.0 278.0,385.0 278.2,387.1 278.5,386.4 278.8,386.9 279.0,387.7 279.2,387.0 279.5,389.2 279.8,385.9 280.0,388.7 280.2,389.3 280.5,388.1 280.8,388.5 281.0,390.6 281.2,389.4 281.5,387.8 281.8,388.7 282.0,391.7 282.2,389.7 282.5,392.6 282.8,392.8 283.0,391.2 283.2,392.3 283.5,390.9 283.8,391.6 284.0,391.5 284.2,393.2 284.5,391.2 284.8,392.7 285.0,393.2 285.2,393.9 285.5,391.0 285.8,391.6 286.0,392.9 286.2,393.8 286.5,394.4 286.8,394.6 287.0,396.9 287.2,395.5 287.5,395.6 287.8,394.5 288.0,396.1 288.2,396.2 288.5,396.3 288.8,395.6 289.0,396.5 289.2,397.7 289.5,395.2 289.8,393.8 290.0,397.3 290.2,397.3 290.5,396.4 290.8,396.3 291.0,399.9 291.2,396.5 291.5,395.7 291.8,396.7 292.0,397.9 292.2,396.7 292.5,397.1 292.8,397.9 293.0,397.2 293.2,397.9 293.5,397.8 293.8,396.7 294.0,398.1 294.2,396.8 294.5,399.2 294.8,397.2 295.0,398.0 295.2,396.4 295.5,397.9 295.8,397.1 296.0,400.2 296.2,398.5 296.5,399.3 296.8,396.9 297.0,397.5 297.2,398.7 297.5,397.5 297.8,400.2 298.0,398.6 298.2,399.3 298.5,399.5 298.8,399.1 299.0,400.1 299.2,398.6 299.5,399.8 299.8,400.8 300.0,399.7 300.2,399.7 300.5,399.3 300.8,399.7 301.0,400.4 301.2,399.5 301.5,398.0 301.8,400.0 302.0,399.8 302.2,400.5 302.5,400.1 302.8,401.7 303.0,398.8 303.2,399.1 303.5,400.9 303.8,399.2 304.0,400.6 304.2,400.3 304.5,398.3 304.8,401.1 305.0,401.9 305.2,400.8 305.5,399.1 305.8,401.5 306.0,399.6 306.2,400.6 306.5,401.2 306.8,400.0 307.0,399.1 307.2,400.8 307.5,400.9 307.8,400.1 308.0,400.3 308.2,401.9 308.5,401.1 308.8,400.7 309.0,400.6 309.2,401.5 309.5,401.5 309.8,401.2 310.0,400.0 310.2,401.1 310.5,400.9 310.8,401.7 311.0,402.8 311.2,402.7 311.5,402.4 311.8,401.9 312.0,401.5 312.2,402.2 312.5,401.4 312.8,401.6 313.0,401.1 313.2,402.0 313.5,402.0 313.8,404.0 314.0,402.7 314.2,401.8 314.5,403.1 314.8,401.8 315.0,403.4 315.2,403.2 315.5,405.4 315.8,401.4 316.0,402.5 316.2,402.5 316.5,402.9 316.8,403.4 317.0,401.7 317.2,402.0 317.5,403.1 317.8,403.8 318.0,401.7 318.2,401.3 318.5,404.1 318.8,403.8 319.0,404.1 319.2,402.1 319.5,402.9 319.8,403.4 320.0,403.6 320.2,403.1 320.5,403.2 320.8,404.3 321.0,402.9 321.2,402.8 321.5,403.0 321.8,403.0 322.0,403.6 322.2,403.3 322.5,403.2 322.8,405.0 323.0,404.0 323.2,403.4 323.5,405.0 323.8,403.2 324.0,403.8 324.2,403.8 324.5,403.3 324.8,403.6 325.0,404.0 325.2,402.6 325.5,403.7 325.8,404.3 326.0,404.4 326.2,404.4 326.5,406.5 326.8,404.9 327.0,404.1 327.2,404.2 327.5,404.3 327.8,404.8 328.0,404.1 328.2,405.9 328.5,403.4 328.8,405.1 329.0,405.0 329.2,403.5 329.5,405.2 329.8,405.2 330.0,404.1 330.2,406.9 330.5,405.4 330.8,404.5 331.0,404.4 331.2,404.1 331.5,405.1 331.8,405.0 332.0,403.6 332.2,404.0 332.5,404.3 332.8,404.7 333.0,404.7 333.2,404.5 333.5,405.7 333.8,406.1 334.0,405.3 334.2,403.1 334.5,405.1 334.8,405.8 335.0,405.3 335.2,405.6 335.5,405.5 335.8,404.0 336.0,403.1 336.2,406.1 336.5,405.0 336.8,405.9 337.0,405.3 337.2,405.5 337.5,406.9 337.8,404.5 338.0,405.7 338.2,404.7 338.5,405.8 338.8,406.3 339.0,406.4 339.2,406.0 339.5,404.6 339.8,406.2 340.0,406.8 340.2,406.9 340.5,408.0 340.8,406.6 341.0,405.1 341.2,405.6 341.5,406.2 341.8,407.2 342.0,405.1 342.2,407.1 342.5,406.9 342.8,405.5 343.0,406.9 343.2,405.7 343.5,406.4 343.8,406.1 344.0,406.7 344.2,405.4 344.5,407.0 344.8,404.5 345.0,406.2 345.2,406.1 345.5,408.1 345.8,407.2 346.0,406.2 346.2,405.9 346.5,406.8 346.8,406.2 347.0,408.9 347.2,404.3 347.5,406.9 347.8,404.6 348.0,407.9 348.2,406.2 348.5,408.5 348.8,406.5 349.0,408.0 349.2,407.3 349.5,408.2 349.8,407.2 350.0,404.4 350.2,406.5 350.5,405.8 350.8,408.1 351.0,407.8 351.2,407.3 351.5,407.8 351.8,407.6 352.0,406.9 352.2,409.2 352.5,407.7 352.8,407.3 353.0,406.2 353.2,407.0 353.5,407.6 353.8,407.5 354.0,407.2 354.2,407.7 354.5,406.7 354.8,407.8 355.0,406.4 355.2,407.1 355.5,407.2 355.8,408.7 356.0,408.4 356.2,408.1 356.5,407.0 356.8,407.7 357.0,408.8 357.2,409.3 357.5,406.8 357.8,407.8 358.0,408.3 358.2,408.6 358.5,408.3 358.8,408.9 359.0,407.0 359.2,409.8 359.5,407.4 359.8,408.5 360.0,408.9 360.2,409.5 360.5,409.3 360.8,409.3 361.0,409.7 361.2,408.4 361.5,409.3 361.8,410.0 362.0,407.9 362.2,407.4 362.5,407.7 362.8,409.9 363.0,409.8 363.2,408.4 363.5,408.9 363.8,409.1 364.0,409.7 364.2,407.0 364.5,408.2 364.8,408.5 365.0,409.0 365.2,408.8 365.5,408.4 365.8,409.0 366.0,406.4 366.2,411.5 366.5,409.4 366.8,409.5 367.0,408.1 367.2,409.0 367.5,410.5 367.8,410.3 368.0,408.7 368.2,407.5 368.5,408.7 368.8,408.3 369.0,409.3 369.2,407.4 369.5,408.3 369.8,408.7 370.0,408.0 370.2,409.4 370.5,407.4 370.8,407.3 371.0,408.0 371.2,409.1 371.5,408.0 371.8,407.7 372.0,409.0 372.2,408.4 372.5,407.7 372.8,408.3 373.0,407.9 373.2,408.6 373.5,408.2 373.8,407.3 374.0,407.5 374.2,407.6 374.5,408.2 374.8,408.2 375.0,407.1 375.2,407.6 375.5,408.0 375.8,408.7 376.0,407.9 376.2,409.4 376.5,407.6 376.8,408.2 377.0,407.2 377.2,406.6 377.5,407.5 377.8,407.8 378.0,407.6 378.2,407.4 378.5,407.0 378.8,406.5 379.0,406.9 379.2,407.6 379.5,408.0 379.8,404.0 380.0,407.6 380.2,408.0 380.5,408.1 380.8,407.2 381.0,407.5 381.2,406.4 381.5,406.7 381.8,407.2 382.0,405.7 382.2,405.9 382.5,406.8 382.8,405.3 383.0,406.6 383.2,405.1 383.5,406.6 383.8,406.4 384.0,405.8 384.2,405.4 384.5,405.8 384.8,404.2 385.0,405.8 385.2,406.3 385.5,407.3 385.8,405.6 386.0,405.9 386.2,407.3 386.5,407.6 386.8,405.5 387.0,406.9 387.2,407.0 387.5,406.4 387.8,404.9 388.0,404.9 388.2,406.3 388.5,407.9 388.8,405.6 389.0,407.2 389.2,407.5 389.5,404.5 389.8,405.1 390.0,407.0 390.2,406.5 390.5,406.1 390.8,405.6 391.0,406.2 391.2,405.0 391.5,407.9 391.8,404.4 392.0,403.8 392.2,405.6 392.5,406.9 392.8,405.0 393.0,405.4 393.2,404.5 393.5,405.4 393.8,404.5 394.0,404.5 394.2,404.1 394.5,405.0 394.8,407.3 395.0,405.5 395.2,405.7 395.5,407.7 395.8,405.0 396.0,404.7 396.2,406.1 396.5,404.5 396.8,406.0 397.0,406.9 397.2,404.8 397.5,405.4 397.8,407.5 398.0,405.0 398.2,405.4 398.5,406.3 398.8,405.8 399.0,405.4 399.2,407.7 399.5,405.8 399.8,406.7 400.0,406.0 400.2,406.3 400.5,405.3 400.8,407.5 401.0,406.3 401.2,407.9 401.5,405.7 401.8,406.4 402.0,407.4 402.2,407.1 402.5,406.5 402.8,407.0 403.0,406.0 403.2,407.4 403.5,405.0 403.8,407.6 404.0,408.7 404.2,408.4 404.5,408.4 404.8,407.3 405.0,408.2 405.2,407.5 405.5,407.8 405.8,407.9 406.0,405.0 406.2,408.9 406.5,408.6 406.8,409.0 407.0,407.4 407.2,408.9 407.5,408.8 407.8,406.4 408.0,406.9 408.2,408.5 408.5,407.9 408.8,408.6 409.0,408.0 409.2,410.0 409.5,407.0 409.8,407.5 410.0,407.9 410.2,407.5 410.5,408.3 410.8,408.8 411.0,407.6 411.2,409.2 411.5,410.0 411.8,409.9 412.0,410.7 412.2,409.9 412.5,408.9 412.8,410.6 413.0,409.6 413.2,410.7 413.5,408.9 413.8,407.2 414.0,408.0 414.2,409.3 414.5,409.6 414.8,409.0 415.0,410.0 415.2,408.2 415.5,408.6 415.8,410.1 416.0,409.3 416.2,409.3 416.5,410.5 416.8,410.3 417.0,408.6 417.2,409.5 417.5,407.8 417.8,409.4 418.0,409.7 418.2,407.9 418.5,410.8 418.8,411.2 419.0,409.9 419.2,410.3 419.5,410.8 419.8,409.3 420.0,410.4 420.2,409.9 420.5,408.2 420.8,408.8 421.0,409.1 421.2,410.5 421.5,409.7 421.8,410.5 422.0,409.2 422.2,408.5 422.5,411.5 422.8,412.1 423.0,410.0 423.2,409.5 423.5,410.8 423.8,408.8 424.0,409.6 424.2,408.5 424.5,410.2 424.8,410.0 425.0,409.5 425.2,409.3 425.5,408.5 425.8,409.1 426.0,410.9 426.2,409.6 426.5,411.0 426.8,409.1 427.0,409.8 427.2,409.5 427.5,409.7 427.8,410.6 428.0,408.2 428.2,410.6 428.5,410.6 428.8,410.0 429.0,410.1 429.2,409.8 429.5,410.6 429.8,410.1 430.0,409.3 430.2,410.2 430.5,410.9 430.8,410.4 431.0,410.1 431.2,410.3 431.5,409.7 431.8,409.7 432.0,408.5 432.2,410.0 432.5,411.0 432.8,409.9 433.0,409.4 433.2,411.0 433.5,410.4 433.8,410.4 434.0,410.7 434.2,410.9 434.5,410.2 434.8,409.6 435.0,411.8 435.2,410.3 435.5,409.6 435.8,410.5 436.0,411.4 436.2,409.1 436.5,411.5 436.8,410.2 437.0,412.1 437.2,411.0 437.5,410.3 437.8,411.5 438.0,411.5 438.2,410.1 438.5,410.6 438.8,410.0 439.0,411.2 439.2,409.2 439.5,410.3 439.8,408.6 440.0,411.0 440.2,408.6 440.5,409.6 440.8,410.7 441.0,410.2 441.2,410.2 441.5,409.7 441.8,410.2 442.0,409.1 442.2,410.9 442.5,411.3 442.8,411.2 443.0,410.6 443.2,411.7 443.5,411.0 443.8,411.5 444.0,411.0 444.2,410.7 444.5,410.0 444.8,408.4 445.0,411.2 445.2,410.6 445.5,412.4 445.8,409.0 446.0,411.4 446.2,409.9 446.5,410.7 446.8,410.0 447.0,411.1 447.2,410.8 447.5,411.5 447.8,410.9 448.0,411.2 448.2,411.9 448.5,411.3 448.8,410.7 449.0,411.9 449.2,410.8 449.5,411.2 449.8,410.6 450.0,410.3 450.2,408.4 450.5,411.5 450.8,410.0 451.0,411.6 451.2,412.5 451.5,409.8 451.8,411.7 452.0,410.9 452.2,411.4 452.5,410.0 452.8,411.0 453.0,411.2 453.2,412.2 453.5,412.9 453.8,411.3 454.0,410.8 454.2,413.0 454.5,411.0 454.8,411.1 455.0,411.2 455.2,411.5 455.5,411.7 455.8,410.7 456.0,411.1 456.2,412.8 456.5,412.5 456.8,411.6 457.0,411.4 457.2,411.0 457.5,412.1 457.8,410.8 458.0,411.4 458.2,410.9 458.5,410.7 458.8,411.3 459.0,411.3 459.2,410.8 459.5,411.3 459.8,411.4 460.0,410.9 460.2,410.8 460.5,411.2 460.8,412.0 461.0,412.3 461.2,411.5 461.5,411.2 461.8,411.4 462.0,413.0 462.2,412.2 462.5,410.6 462.8,411.4 463.0,411.0 463.2,411.2 463.5,410.1 463.8,411.5 464.0,410.4 464.2,411.0 464.5,412.8 464.8,412.4 465.0,410.8 465.2,410.7 465.5,410.8 465.8,410.0 466.0,410.8 466.2,411.4 466.5,410.7 466.8,412.2 467.0,411.6 467.2,411.2 467.5,413.1 467.8,412.2 468.0,411.7 468.2,413.2 468.5,412.8 468.8,411.1 469.0,412.0 469.2,411.3 469.5,410.5 469.8,413.3 470.0,413.0 470.2,410.7 470.5,412.2 470.8,410.4 471.0,412.7 471.2,411.7 471.5,411.5 471.8,412.8 472.0,411.8 472.2,411.6 472.5,412.6 472.8,411.6 473.0,412.6 473.2,411.9 473.5,412.5 473.8,412.4 474.0,412.5 474.2,411.1 474.5,413.5 474.8,411.8 475.0,413.4 475.2,411.4 475.5,411.7 475.8,411.7 476.0,412.9 476.2,411.6 476.5,412.3 476.8,410.7 477.0,411.6 477.2,412.2 477.5,411.9 477.8,410.5 478.0,412.4 478.2,411.2 478.5,413.7 478.8,411.9 479.0,413.9 479.2,412.6 479.5,412.5 479.8,411.7 480.0,412.0 480.2,412.5 480.5,410.5 480.8,413.0 481.0,411.2 481.2,411.9 481.5,409.9 481.8,412.6 482.0,412.8 482.2,412.4 482.5,412.5 482.8,411.9 483.0,412.4 483.2,413.2 483.5,411.9 483.8,412.7 484.0,412.9 484.2,412.1 484.5,412.5 484.8,412.5 485.0,411.9 485.2,414.3 485.5,412.0 485.8,413.8 486.0,413.2 486.2,410.7 486.5,412.6 486.8,413.2 487.0,413.1 487.2,411.6 487.5,412.6 487.8,411.4 488.0,411.6 488.2,412.2 488.5,412.6 488.8,413.8 489.0,412.8 489.2,413.4 489.5,411.5 489.8,411.5 490.0,412.1 490.2,414.0 490.5,411.4 490.8,411.2 491.0,412.5 491.2,413.6 491.5,411.2 491.8,412.4 492.0,411.5 492.2,413.8 492.5,413.2 492.8,412.9 493.0,412.6 493.2,412.5 493.5,412.8 493.8,412.1 494.0,412.0 494.2,411.8 494.5,412.7 494.8,412.1 495.0,413.5 495.2,411.0 495.5,413.2 495.8,413.2 496.0,413.8 496.2,412.6 496.5,411.6 496.8,412.0 497.0,413.8 497.2,412.6 497.5,412.5 497.8,412.4 498.0,412.8 498.2,412.7 498.5,411.6 498.8,412.4 499.0,413.7 499.2,414.1 499.5,412.8 499.8,412.5 500.0,414.1 500.2,412.8 500.5,412.0 500.8,412.9 501.0,413.6 501.2,414.3 501.5,412.6 501.8,413.5 502.0,412.8 502.2,414.0 502.5,413.3 502.8,413.3 503.0,412.3 503.2,412.9 503.5,412.9 503.8,410.2 504.0,413.9 504.2,413.2 504.5,413.0 504.8,412.9 505.0,413.2 505.2,413.4 505.5,412.2 505.8,413.3 506.0,413.3 506.2,413.3 506.5,412.1 506.8,413.2 507.0,412.3 507.2,413.6 507.5,414.4 507.8,414.0 508.0,413.1 508.2,412.9 508.5,412.9 508.8,413.7 509.0,412.9 509.2,413.0 509.5,411.4 509.8,412.7 510.0,412.8 510.2,413.0 510.5,414.5 510.8,412.4 511.0,412.4 511.2,414.0 511.5,412.7 511.8,413.4 512.0,413.7 512.2,413.6 512.5,413.0 512.8,414.3 513.0,414.8 513.2,412.8 513.5,413.4 513.8,414.4 514.0,413.5 514.2,412.9 514.5,413.3 514.8,414.4 515.0,412.9 515.2,413.9 515.5,414.1 515.8,413.2 516.0,414.2 516.2,414.3 516.5,414.6 516.8,414.6 517.0,412.6 517.2,414.6 517.5,414.3 517.8,414.7 518.0,413.2 518.2,414.6 518.5,414.2 518.8,413.0 519.0,415.0 519.2,413.3 519.5,413.2 519.8,414.3 520.0,413.5 520.2,414.3 520.5,413.8 520.8,414.3 521.0,414.7 521.2,414.1 521.5,414.8 521.8,414.8 522.0,413.5 522.2,414.8 522.5,414.7 522.8,414.3 523.0,415.1 523.2,415.5 523.5,414.8 523.8,413.1 524.0,414.6 524.2,414.2 524.5,414.1 524.8,414.6 525.0,414.1 525.2,415.6 525.5,414.6 525.8,414.4 526.0,415.0 526.2,415.0 526.5,415.3 526.8,414.9 527.0,414.4 527.2,414.6 527.5,412.8 527.8,413.3 528.0,415.3 528.2,414.3 528.5,416.0 528.8,416.0 529.0,413.6 529.2,414.8 529.5,416.9 529.8,414.0 530.0,414.9 530.2,414.5 530.5,414.5 530.8,414.5 531.0,414.7 531.2,415.3 531.5,414.1 531.8,415.1 532.0,414.2 532.2,415.2 532.5,415.0 532.8,414.2 533.0,414.9 533.2,414.3 533.5,414.2 533.8,415.8 534.0,413.5 534.2,415.3 534.5,415.5 534.8,414.5 535.0,415.8 535.2,415.7 535.5,414.0 535.8,415.4 536.0,415.4 536.2,414.5 536.5,415.5 536.8,415.7 537.0,414.5 537.2,413.5 537.5,415.4 537.8,414.6 538.0,413.8 538.2,414.9 538.5,413.3 538.8,414.9 539.0,416.4 539.2,413.0 539.5,415.6 539.8,414.6 540.0,415.0 540.2,414.6 540.5,415.8 540.8,415.3 541.0,414.8 541.2,414.4 541.5,415.1 541.8,416.3 542.0,414.5 542.2,415.8 542.5,415.7 542.8,413.9 543.0,416.4 543.2,415.5 543.5,417.3 543.8,416.9 544.0,415.4 544.2,415.5 544.5,414.9 544.8,414.6 545.0,416.3 545.2,415.5 545.5,415.4 545.8,415.6 546.0,416.3 546.2,416.5 546.5,415.8 546.8,415.7 547.0,415.9 547.2,417.5 547.5,414.3 547.8,415.0 548.0,416.3 548.2,416.1 548.5,416.9 548.8,417.0 549.0,417.5 549.2,415.4 549.5,416.5 549.8,415.9 550.0,416.8 550.2,416.2 550.5,416.8 550.8,415.6 551.0,416.3 551.2,415.8 551.5,416.0 551.8,415.9 552.0,415.4 552.2,417.1 552.5,416.5 552.8,417.1 553.0,415.5 553.2,414.8 553.5,415.8 553.8,416.2 554.0,417.0 554.2,417.2 554.5,417.3 554.8,417.6 555.0,417.0 555.2,416.5 555.5,415.9 555.8,417.0 556.0,416.1 556.2,415.9 556.5,417.0 556.8,416.7 557.0,417.2 557.2,416.0 557.5,417.5 557.8,416.9 558.0,416.5 558.2,416.1 558.5,415.8 558.8,415.6 559.0,417.7 559.2,415.6 559.5,417.2 559.8,416.5 560.0,416.3 560.2,416.4 560.5,416.7 560.8,417.5 561.0,417.2 561.2,416.8 561.5,415.7 561.8,415.4 562.0,418.2 562.2,416.1 562.5,415.6 562.8,417.7 563.0,415.7 563.2,417.4 563.5,417.6 563.8,417.1 564.0,417.6 564.2,415.8 564.5,416.0 564.8,416.8 565.0,416.9 565.2,416.9 565.5,417.3 565.8,416.4 566.0,415.3 566.2,417.3 566.5,416.8 566.8,417.6 567.0,418.6 567.2,417.1 567.5,417.4 567.8,416.3 568.0,417.7 568.2,417.3 568.5,417.2 568.8,417.7 569.0,416.2 569.2,417.5 569.5,417.4 569.8,418.3 570.0,415.7 570.2,417.0 570.5,418.8 570.8,416.8 571.0,416.8 571.2,418.5 571.5,419.0 571.8,417.2 572.0,416.6 572.2,416.7 572.5,416.9 572.8,416.5 573.0,416.6 573.2,417.3 573.5,417.2 573.8,417.6 574.0,417.2 574.2,416.3 574.5,417.8 574.8,417.4 575.0,416.8 575.2,417.0 575.5,417.5 575.8,417.3 576.0,417.2 576.2,417.8 576.5,418.1 576.8,417.0 577.0,417.3 577.2,416.4 577.5,417.2 577.8,417.7 578.0,418.0 578.2,417.4 578.5,417.2 578.8,416.8 579.0,417.5 579.2,416.5 579.5,417.4 579.8,417.4 580.0,416.7 580.2,417.6 580.5,417.2 580.8,417.8 581.0,417.0 581.2,417.7 581.5,418.6 581.8,417.5 582.0,418.0 582.2,416.9 582.5,417.2 582.8,416.0 583.0,417.3 583.2,416.6 583.5,417.5 583.8,415.9 584.0,416.8 584.2,417.5 584.5,417.8 584.8,416.2 585.0,417.2 585.2,419.4 585.5,418.1 585.8,417.6 586.0,415.5 586.2,416.8 586.5,417.9 586.8,417.7 587.0,417.9 587.2,418.3 587.5,417.6 587.8,418.2 588.0,416.2 588.2,419.4 588.5,417.4 588.8,417.1 589.0,418.7 589.2,418.1 589.5,418.3 589.8,417.2 590.0,417.8 590.2,418.2 590.5,416.8 590.8,417.5 591.0,417.5 591.2,417.4 591.5,417.1 591.8,416.7 592.0,418.0 592.2,417.9 592.5,418.5 592.8,417.6 593.0,417.2 593.2,416.6 593.5,417.8 593.8,417.5 594.0,419.2 594.2,419.4 594.5,418.9 594.8,417.1 595.0,416.7 595.2,417.6 595.5,417.1 595.8,418.8 596.0,417.9 596.2,417.5 596.5,417.8 596.8,418.7 597.0,417.1 597.2,418.2 597.5,416.9 597.8,417.7 598.0,417.4 598.2,418.1 598.5,418.0 598.8,418.7 599.0,418.4 599.2,417.4 599.5,416.9 599.8,417.3 600.0,417.6 600.2,417.7 600.5,417.4 600.8,418.7 601.0,418.6 601.2,417.7 601.5,417.6 601.8,417.8 602.0,417.9 602.2,417.9 602.5,416.8 602.8,417.7 603.0,416.6 603.2,418.0 603.5,418.5 603.8,417.2 604.0,418.1 604.2,417.6 604.5,417.5 604.8,419.5 605.0,418.7 605.2,418.4 605.5,417.7 605.8,418.4 606.0,417.9 606.2,418.4 606.5,417.4 606.8,418.0 607.0,417.8 607.2,417.1 607.5,419.3 607.8,418.7 608.0,417.5 608.2,417.0 608.5,417.6 608.8,417.5 609.0,417.7 609.2,417.0 609.5,417.5 609.8,418.2 610.0,418.5 610.2,416.7 610.5,418.2 610.8,417.5 611.0,417.4 611.2,418.0 611.5,417.7 611.8,418.7 612.0,418.7 612.2,418.0 612.5,417.8 612.8,419.5 613.0,419.6 613.2,418.5 613.5,418.1 613.8,419.0 614.0,419.3 614.2,417.9 614.5,419.6 614.8,418.2 615.0,419.1 615.2,417.9 615.5,418.4 615.8,418.0 616.0,418.3 616.2,419.1 616.5,417.7 616.8,418.1 617.0,418.7 617.2,418.0 617.5,419.8 617.8,417.3 618.0,420.2 618.2,417.9 618.5,419.1 618.8,419.6 619.0,418.8 619.2,417.4 619.5,418.2 619.8,418.5 620.0,418.8 620.2,419.1 620.5,419.2 620.8,419.5 621.0,417.7 621.2,419.2 621.5,417.2 621.8,418.6 622.0,417.7 622.2,417.2 622.5,419.1 622.8,418.5 623.0,419.2 623.2,417.3 623.5,417.6 623.8,418.4 624.0,418.0 624.2,418.6 624.5,418.1 624.8,418.3 625.0,417.7 625.2,419.5 625.5,418.3 625.8,417.7 626.0,419.1 626.2,418.9 626.5,418.7 626.8,418.7 627.0,418.3 627.2,418.5 627.5,417.0 627.8,417.5 628.0,417.7 628.2,418.8 628.5,419.5 628.8,418.5 629.0,418.4 629.2,419.5 629.5,418.4 629.8,419.1 630.0,419.0 630.2,417.7 630.5,418.9 630.8,418.8 631.0,417.8 631.2,417.9 631.5,417.8 631.8,419.7 632.0,420.2 632.2,419.2 632.5,419.8 632.8,417.7 633.0,419.7 633.2,420.2 633.5,419.9 633.8,418.1 634.0,419.5 634.2,418.7 634.5,419.5 634.8,418.3 635.0,418.8 635.2,418.4 635.5,419.1 635.8,418.7 636.0,419.6 636.2,419.4 636.5,419.1 636.8,418.8 637.0,418.6 637.2,418.8 637.5,419.4 637.8,418.9 638.0,419.0 638.2,418.8 638.5,418.8 638.8,418.4 639.0,417.5 639.2,419.3 639.5,419.3 639.8,418.2 640.0,420.3 640.2,418.0 640.5,419.6 640.8,419.1 641.0,419.1 641.2,419.7 641.5,419.6 641.8,418.9 642.0,418.2 642.2,418.0 642.5,419.1 642.8,420.1 643.0,419.6 643.2,418.9 643.5,419.2 643.8,419.5 644.0,420.2 644.2,418.4 644.5,419.5 644.8,419.2 645.0,418.4 645.2,418.3 645.5,419.9 645.8,419.2 646.0,418.9 646.2,419.1 646.5,419.7 646.8,419.1 647.0,420.2 647.2,418.9 647.5,418.5 647.8,419.0 648.0,418.4 648.2,418.8 648.5,419.9 648.8,420.3 649.0,419.5 649.2,419.2 649.5,418.4 649.8,418.4 650.0,419.4 650.2,419.2 650.5,418.7 650.8,418.8 651.0,420.2 651.2,419.8 651.5,419.2 651.8,419.3 652.0,420.1 652.2,419.4 652.5,419.3 652.8,418.0 653.0,417.9 653.2,417.8 653.5,417.6 653.8,419.2 654.0,419.4 654.2,418.6 654.5,419.5 654.8,419.5 655.0,419.1 655.2,418.1 655.5,420.2 655.8,420.2 656.0,418.8 656.2,420.6 656.5,419.3 656.8,418.7 657.0,418.9 657.2,417.9 657.5,419.0 657.8,418.1 658.0,420.1 658.2,419.5 658.5,418.3 658.8,419.7 659.0,418.1 659.2,419.4 659.5,419.6 659.8,419.3 660.0,418.5 660.2,419.2 660.5,419.2 660.8,419.4 661.0,420.4 661.2,420.5 661.5,420.5 661.8,418.9 662.0,418.8 662.2,419.4 662.5,419.7 662.8,417.9 663.0,418.9 663.2,420.6 663.5,418.5 663.8,418.8 664.0,418.9 664.2,419.7 664.5,419.3 664.8,419.2 665.0,418.3 665.2,419.8 665.5,419.4 665.8,418.9 666.0,419.4 666.2,420.0 666.5,418.4 666.8,418.3 667.0,418.7 667.2,418.8 667.5,417.3 667.8,419.0 668.0,420.2 668.2,419.2 668.5,420.2 668.8,417.4 669.0,419.4 669.2,420.5 669.5,420.6 669.8,419.1 670.0,418.9 670.2,419.8 670.5,418.6 670.8,419.2 671.0,418.3"/>
</g>
<rect x="60.5" y="2" width="613.7" height="447.2" fill="none" stroke="#000" stroke-width="3.3"/>
<g stroke="#000" stroke-width="3.2">
<line x1="123.0" y1="449.2" x2="123.0" y2="457.7"/>
<line x1="232.7" y1="449.2" x2="232.7" y2="457.7"/>
<line x1="342.4" y1="449.2" x2="342.4" y2="457.7"/>
<line x1="452.1" y1="449.2" x2="452.1" y2="457.7"/>
<line x1="561.8" y1="449.2" x2="561.8" y2="457.7"/>
<line x1="671.5" y1="449.2" x2="671.5" y2="457.7"/>
<line x1="68.2" y1="449.2" x2="68.2" y2="445"/>
<line x1="177.8" y1="449.2" x2="177.8" y2="445"/>
<line x1="287.6" y1="449.2" x2="287.6" y2="445"/>
<line x1="397.2" y1="449.2" x2="397.2" y2="445"/>
<line x1="507.0" y1="449.2" x2="507.0" y2="445"/>
<line x1="616.7" y1="449.2" x2="616.7" y2="445"/>
</g>
<text x="123.0" y="485.6" text-anchor="middle" font-size="29.7">10</text>
<text x="232.7" y="485.6" text-anchor="middle" font-size="29.7">20</text>
<text x="342.4" y="485.6" text-anchor="middle" font-size="29.7">30</text>
<text x="452.1" y="485.6" text-anchor="middle" font-size="29.7">40</text>
<text x="561.8" y="485.6" text-anchor="middle" font-size="29.7">50</text>
<text x="671.5" y="485.6" text-anchor="middle" font-size="29.7">60</text>
<line x1="551.3" y1="33.4" x2="610" y2="33.4" stroke="#4f4f4f" stroke-width="2"/>
<text x="615.6" y="41.8" font-size="25">(a)</text>
<line x1="551.3" y1="62.5" x2="610" y2="62.5" stroke="#f14040" stroke-width="2"/>
<text x="615.6" y="70.9" font-size="25">(b)</text>
<line x1="551.3" y1="91.5" x2="610" y2="91.5" stroke="#1a6fdf" stroke-width="2"/>
<text x="615.6" y="99.9" font-size="25">(c)</text>
<line x1="551.3" y1="120.6" x2="610" y2="120.6" stroke="#37ad6b" stroke-width="2"/>
<text x="615.6" y="129.0" font-size="25">(d)</text>
<line x1="551.3" y1="149.6" x2="610" y2="149.6" stroke="#b177de" stroke-width="2"/>
<text x="615.6" y="158.0" font-size="25">(e)</text>
<line x1="551.3" y1="178.7" x2="610" y2="178.7" stroke="#cc9900" stroke-width="2"/>
<text x="615.6" y="187.1" font-size="25">(f)</text>
<text x="275.3" y="544.5" font-size="38" style="font-weight:normal" stroke="#000" stroke-width="0.85" textLength="39.2" lengthAdjust="spacingAndGlyphs">2θ</text>
<text x="458" y="544.5" text-anchor="end" font-size="38" textLength="134" lengthAdjust="spacing">(degree)</text>
<text transform="translate(28.7,225.4) rotate(-90)" text-anchor="middle" font-size="38.5">Intensity (a.u.)</text>
</svg>
</body></html>
